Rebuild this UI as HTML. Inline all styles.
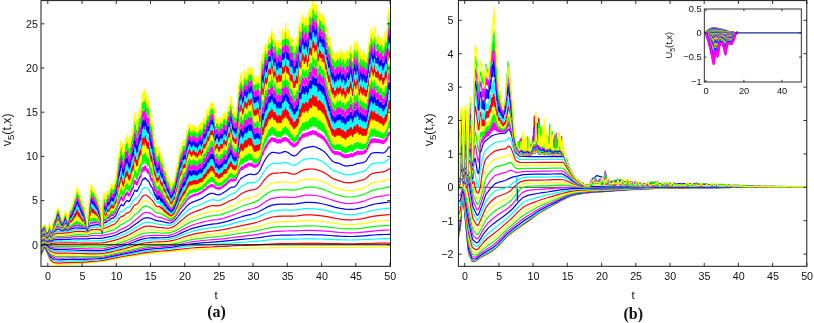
<!DOCTYPE html>
<html><head><meta charset="utf-8"><title>v5(t,x)</title>
<style>html,body{margin:0;padding:0;background:#fff}svg{display:block}</style></head>
<body>
<svg width="814" height="323" viewBox="0 0 814 323">
<rect width="814" height="323" fill="#fff"/>
<clipPath id="ca"><rect x="41" y="0.6" width="349.5" height="265.7"/></clipPath>
<g clip-path="url(#ca)" fill="none" stroke-width="1.2" stroke-linejoin="round">
<path stroke="#ffff00" d="M41 256.2l2.9-7.1 .4-.5 .4 0 .8 1.1 4.9 11.4 3.3 3.1 5 .7 4.9-.4 4.9-.3 4.9-.3 5-.2 4.9-.3 4.9-.4 4.9-.4 5-.6 4.9-.7 4.9-1 4.9-.9 5-1 4.9-.8 4.9-.8 5-.8 4.9-.7 4.9-.8 4.9-.7 5-.5 4.9-.5 4.9-.5 4.9-.4 5-.4 4.9-.4 4.9-.4 5-.4 4.9-.3 4.9-.3 4.9-.1 5-.2 4.9-.2 4.9-.1 4.9-.2 5-.2 4.9-.1 4.9-.1 4.9-.2 5-.1 4.9 0 4.9-.1 5-.1 4.9-.1 4.9-.1 4.9-.1 5-.1 4.9-.1 4.9 0 4.9-.1 5 0 4.9 0 4.9 0 5 0 4.9 0 4.9 0 4.9-.1 5 0 4.9 0 4.9 0 4.9 0 5 0 4.9 0 4.9 0 5-.1 4.9 0 4.9 0 4.9 0 5 0 1.2 0"/>
<path stroke="#ff0000" d="M41 255.1l2.9-6.7 .4-.4 .4 0 .8 1 4.9 10.7 3.3 2.9 5 .6 4.9-.3 4.9-.3 4.9-.2 5-.1 4.9-.2 4.9-.3 4.9-.4 5-.4 4.9-.7 4.9-1 4.9-.9 5-1 4.9-.9 4.9-.8 5-.9 4.9-.8 4.9-.8 4.9-.8 5-.5 4.9-.5 4.9-.4 4.9-.4 5-.5 4.9-.5 4.9-.6 5-.5 4.9-.5 4.9-.3 4.9-.3 5-.2 4.9-.2 4.9-.3 4.9-.2 5-.2 4.9-.3 4.9-.3 4.9-.2 5-.2 4.9-.2 4.9-.3 5-.2 4.9-.3 4.9-.3 4.9-.2 5-.2 4.9 0 4.9-.1 4.9 0 5-.1 4.9 0 4.9-.1 5 .1 4.9 0 4.9 .1 4.9 .1 5 .1 4.9 0 4.9 .1 4.9 0 5 0 4.9-.1 4.9-.1 5-.1 4.9-.2 4.9-.1 4.9 0 5-.1 1.2 0"/>
<path stroke="#00ffff" d="M41 254.1l2.9-6.3 .4-.4 .4 0 .8 1 4.9 9.9 3.7 2.8 5 .4 4.9-.3 4.9-.1 4.9-.2 5-.1 4.9-.1 4.9-.2 5-.3 4.9-.4 4.9-.7 4.9-.9 5-1 4.9-1 4.9-.9 4.9-1 5-.9 4.9-1 4.9-.8 4.9-.8 5-.5 4.9-.4 4.9-.4 5-.4 4.9-.6 4.9-.6 4.9-.7 5-.7 4.9-.6 4.9-.5 4.9-.3 5-.4 4.9-.3 4.9-.2 5-.4 4.9-.3 4.9-.4 4.9-.4 5-.4 4.9-.3 4.9-.3 4.9-.4 5-.5 4.9-.6 4.9-.4 4.9-.3 5-.2 4.9-.1 4.9-.1 5 0 4.9-.1 4.9-.1 4.9-.1 5 .1 4.9 .1 4.9 .2 4.9 .2 5 .2 4.9 .2 4.9 .1 5 .1 4.9-.1 4.9-.1 4.9-.3 5-.2 4.9-.3 4.9-.2 4.9-.1 5-.1 .8 0"/>
<path stroke="#0000ff" d="M41 253l2.9-5.8 .4-.4 .4 0 .8 .9 4.9 9.2 3.7 2.6 5 .3 4.9-.2 4.9-.1 4.9-.1 5 0 4.9-.1 4.9-.1 5-.2 4.9-.3 4.9-.6 4.9-.9 5-1.1 4.9-1 4.9-.9 4.9-1 5-1.1 4.9-1 4.9-1 4.9-.7 5-.6 4.9-.3 4.9-.4 5-.4 4.9-.6 4.9-.7 4.9-.9 5-.9 4.9-.7 4.9-.6 4.9-.4 5-.4 4.9-.4 4.9-.3 5-.4 4.9-.5 4.9-.5 4.9-.5 5-.5 4.9-.4 4.9-.5 4.9-.5 5-.7 4.9-.8 4.9-.6 4.9-.4 5-.3 4.9 0 4.9-.1 5-.1 4.9-.2 4.9-.1 4.9 0 5 .1 4.9 .1 4.9 .3 4.9 .3 5 .3 4.9 .4 4.9 .2 5 .1 4.9-.1 4.9-.3 4.9-.3 5-.4 4.9-.4 4.9-.3 4.9-.2 5-.1 .8 0"/>
<path stroke="#ff00ff" d="M41 251.9l2.9-5.3 .4-.4 .4 0 .8 .8 4.9 8.4 5 2.7 4.9 0 4.9-.1 4.9-.1 5 0 4.9 .1 4.9 0 5-.1 4.9-.1 4.9-.3 4.9-.7 5-.9 4.9-1.1 4.9-1 4.9-1 5-1.1 4.9-1.2 4.9-1.1 5-1 4.9-.7 4.9-.4 4.9-.3 5-.4 4.9-.4 4.9-.7 4.9-.9 5-1.1 4.9-1 4.9-.8 4.9-.7 5-.5 4.9-.5 4.9-.4 5-.4 4.9-.4 4.9-.6 4.9-.7 5-.6 4.9-.6 4.9-.6 4.9-.6 5-.7 4.9-1 4.9-.9 5-.8 4.9-.4 4.9-.2 4.9-.1 5-.1 4.9-.1 4.9-.3 4.9-.1 5 0 4.9 .2 4.9 .2 5 .4 4.9 .4 4.9 .5 4.9 .4 5 .3 4.9 0 4.9-.1 4.9-.4 5-.5 4.9-.5 4.9-.5 4.9-.4 5-.2 4.5-.2"/>
<path stroke="#00ff00" d="M41 250.9l2.9-5 .4-.3 .4 0 .8 .7 4.9 7.7 5 2.5 4.9-.1 4.9-.1 4.9 .1 5 0 4.9 .2 4.9 0 5 0 4.9 0 4.9-.3 4.9-.6 5-.9 4.9-1.1 4.9-1.1 4.9-1.1 5-1.1 4.9-1.3 4.9-1.2 5-1 4.9-.8 4.9-.4 4.9-.3 5-.3 4.9-.4 4.9-.8 4.9-1.1 5-1.2 4.9-1.2 4.9-1 4.9-.7 5-.6 4.9-.6 4.9-.4 5-.5 4.9-.6 4.9-.7 4.9-.8 5-.8 4.9-.7 4.9-.7 4.9-.7 5-.9 4.9-1.2 4.9-1.2 5-1 4.9-.5 4.9-.2 4.9-.1 5 0 4.9-.2 4.9-.3 4.9-.2 5 0 4.9 .2 4.9 .3 5 .5 4.9 .6 4.9 .6 4.9 .5 5 .4 4.9 0 4.9-.2 4.9-.4 5-.7 4.9-.7 4.9-.6 4.9-.4 5-.3 4.5-.2"/>
<path stroke="#ffff00" d="M41 249.8l2.9-4.5 .4-.3 .4 0 .8 .6 4.9 7 5 2.2 4.9-.1 4.9 0 4.9 .1 5 .1 4.9 .2 4.9 .1 5 .1 4.9 0 4.9-.2 4.9-.6 5-1 4.9-1 4.9-1.1 4.9-1.2 5-1.3 4.9-1.4 4.9-1.3 5-1.1 4.9-.7 4.9-.4 4.9-.3 5-.2 4.9-.5 4.9-.8 4.9-1.2 5-1.5 4.9-1.4 4.9-1.1 4.9-.9 5-.7 4.9-.7 4.9-.5 5-.5 4.9-.6 4.9-.9 4.9-.9 5-1 4.9-.9 4.9-.8 4.9-.8 5-1.1 4.9-1.5 4.9-1.5 5-1.2 4.9-.6 4.9-.2 4.9-.1 5 0 4.9-.2 4.9-.5 4.9-.2 5 0 4.9 .3 4.9 .4 5 .6 4.9 .7 4.9 .8 4.9 .6 5 .5 4.9 .1 4.9-.3 4.9-.6 5-.7 4.9-.9 4.9-.8 4.9-.5 5-.4 4.5-.3"/>
<path stroke="#ff0000" d="M41 248.7l2.9-4 .8-.3 1.2 1.1 5 6 4.9 1.7 4.9-.2 4.9 .1 5 .1 4.9 .1 4.9 .2 4.9 .2 5 .1 4.9 0 4.9-.1 4.9-.6 5-1 4.9-1.1 4.9-1.2 5-1.2 4.9-1.4 4.9-1.6 4.9-1.4 5-1.2 4.9-.7 4.9-.3 4.9-.2 5-.2 4.9-.5 4.9-.9 5-1.5 4.9-1.7 4.9-1.6 4.9-1.3 5-1 4.9-.8 4.9-.8 4.9-.5 5-.6 4.9-.7 4.9-1.1 4.9-1.1 5-1.2 4.9-1 4.9-.9 5-1 4.9-1.4 4.9-1.8 4.9-1.9 5-1.3 4.9-.7 4.9-.2 4.9 0 5 0 4.9-.3 4.9-.6 5-.3 4.9 0 4.9 .4 4.9 .6 5 .8 4.9 .9 4.9 .9 4.9 .8 5 .5 4.9 0 4.9-.3 4.9-.7 5-1 4.9-1.1 4.9-.8 5-.6 4.9-.5 4.1-.3"/>
<path stroke="#00ffff" d="M41 247.7l2.9-3.6 .8-.3 4.9 5.3 4.9 2.3 5 0 4.9 0 4.9 .1 5 .2 4.9 .2 4.9 .2 4.9 .1 5 0 4.9 0 4.9-.4 4.9-1 5-1.1 4.9-1.1 4.9-1.3 5-1.5 4.9-1.7 4.9-1.6 4.9-1.4 5-.9 4.9-.3 4.9-.1 4.9-.1 5-.4 4.9-.9 4.9-1.5 4.9-2 5-1.9 4.9-1.6 4.9-1.2 5-1 4.9-.9 4.9-.7 4.9-.5 5-.8 4.9-1.2 4.9-1.3 4.9-1.4 5-1.3 4.9-1.1 4.9-1.1 5-1.3 4.9-2.2 4.9-2.4 4.9-1.7 5-.9 4.9-.3 4.9-.1 4.9 .1 5-.2 4.9-.7 4.9-.6 4.9 0 5 .3 4.9 .7 4.9 .8 5 1.2 4.9 1.1 4.9 1 4.9 .7 5 .2 4.9-.3 4.9-.7 4.9-1.1 5-1.4 4.9-1.1 4.9-.7 5-.6 4.9-.6 .4 0"/>
<path stroke="#0000ff" d="M41 246.6l2.9-3.1 .8-.3 4.9 4.6 4.9 1.9 5 0 4.9 0 4.9 .1 5 .2 4.9 .3 4.9 .2 4.9 .1 5 .1 4.9 0 4.9-.4 4.9-1 5-1.1 4.9-1.2 4.9-1.3 5-1.7 4.9-1.8 4.9-1.8 4.9-1.5 5-.9 4.9-.3 4.9 .1 4.9-.1 5-.3 4.9-.9 4.9-1.8 4.9-2.3 5-2.2 4.9-1.8 4.9-1.3 5-1.2 4.9-1 4.9-.8 4.9-.5 5-.9 4.9-1.3 4.9-1.5 4.9-1.6 5-1.6 4.9-1.3 4.9-1.1 5-1.5 4.9-2.5 4.9-2.9 4.9-2 5-1 4.9-.3 4.9-.1 4.9 .2 5-.3 4.9-.8 4.9-.7 4.9-.1 5 .4 4.9 .8 4.9 1 5 1.4 4.9 1.4 4.9 1.1 4.9 .8 5 .2 4.9-.3 4.9-.9 4.9-1.2 5-1.7 4.9-1.3 4.9-.7 5-.7 4.9-.7 .4-.1"/>
<path stroke="#ff00ff" d="M41 245.6l3.3-3 .4 0 4.9 3.9 4.9 1.6 5-.1 4.9 0 4.9 .2 5 .1 4.9 .2 4.9 .3 4.9 .1 5 .1 4.9 0 4.9-.4 4.9-1 5-1.1 4.9-1.2 4.9-1.5 5-1.8 4.9-2 4.9-1.9 4.9-1.7 5-.9 4.9-.2 4.9 .1 4.9 .1 5-.2 4.9-1 4.9-2.1 4.9-2.6 5-2.6 4.9-2 4.9-1.5 5-1.3 4.9-1.2 4.9-.9 4.9-.5 5-.9 4.9-1.6 4.9-1.6 4.9-1.8 5-2 4.9-1.5 4.9-1.2 5-1.6 4.9-3 4.9-3.4 4.9-2.4 5-1 4.9-.4 4.9 0 4.9 .3 5-.3 4.9-1.1 4.9-.9 4.9-.1 5 .4 4.9 1 4.9 1.3 5 1.7 4.9 1.6 4.9 1.3 4.9 .9 5 .3 4.9-.5 4.9-.9 4.9-1.4 5-2.1 4.9-1.5 4.9-.8 5-.7 4.9-1 .4-.1"/>
<path stroke="#00ff00" d="M41 244.5l3.3-2.5 .4 0 2.5 2 4.9 2.1 4.9 .4 4.9-.2 5 .1 4.9 .1 4.9 .2 4.9 .2 5 .1 4.9 .1 4.9 .1 5-.2 4.9-.7 4.9-1.1 4.9-1.2 5-1.4 4.9-1.8 4.9-2 4.9-2.3 5-2.1 4.9-1.4 4.9-.5 4.9 .2 5 .3 4.9 .1 4.9-.5 5-1.7 4.9-2.9 4.9-3.1 4.9-2.7 5-1.9 4.9-1.5 4.9-1.5 4.9-1.2 5-.6 4.9-.6 4.9-1.5 5-1.9 4.9-1.8 4.9-2.5 4.9-2 5-1.5 4.9-1.3 4.9-2.5 4.9-4.1 5-3.6 4.9-1.9 4.9-.5 4.9-.3 5 .3 4.9 .4 4.9-1 5-1.5 4.9-.6 4.9 .1 4.9 .8 5 1.3 4.9 2 4.9 2.2 4.9 1.5 5 1.4 4.9 .6 4.9-.1 5-.9 4.9-1.2 4.9-2.1 4.9-2.3 5-1.2 4.9-.7 4.9-1.2 2.9-.7"/>
<path stroke="#ffff00" d="M41 243.7l.4-.2 .4-.3 .4-.3 .4-.3 .4-.4 .5-.3 .4-.3 .4-.1 .4-.1 .4 .3 .4 .3 .4 .4 .4 .4 .4 .3 .5 .3 .4 .1 .4 0 .4 .1 .4 0 .4 .2 .4 .1 .4 .2 .4 .2 .5 .1 .4 .1 .4 0 .4 .1 .4 0 .4 .1 .4 0 .4 0 .4 .1 .4 0 .5 0 .4 0 .4 0 .4 0 .4 0 .4 0 .4 0 .4 0 .4-.1 .5 0 .4 0 .4 0 .4 0 .4-.1 .4 0 .4 0 .4 0 .4 0 .4 0 .5 0 .4 0 .4 0 .4 0 .4 0 .4 0 .4 .1 .4 0 .4 0 .5 0 .4 0 .4 0 .4 0 .4 0 .4 0 .4 0 .4 0 .4 0 .4 0 .5 0 .4 .1 .4 0 .4 0 .4 0 .4 0 .4 0 .4 0 .4 0 .5 0 .4 0 .4 .1 .4 0 .4 0 .4 0 .4 0 .4 0 .4 0 .4 0 .5 .1 .4 0 .4 0 .4 0 .4 0 .4 0 .4 .1 .4 0 .4 0 .5 0 .4 0 .4 0 .4 0 .4 0 .4 .1 .4 0 .4 0 .4 0 .5 0 .4 0 .4 0 .4 0 .4 0 .4 0 .4 0 .4 0 .4 0 .4 0 .5 .1 .4 0 .4 0 .4 0 .4 0 .4 0 .4 0 .4 0 .4 0 .5 0 .4 0 .4 0 .4 0 .4 0 .4 0 .4 0 .4 0 .4 0 .4 0 .5 0 .4 0 .4 0 .4 0 .4 0 .4 0 .4 0 .4-.1 .4 0 .5 0 .4-.1 .4 0 .4-.1 .4 0 .4-.1 .4 0 .4-.1 .4-.1 .4 0 .5-.1 .4-.1 .4-.1 .4-.1 .4 0 .4-.1 .4-.1 .4-.1 .4-.1 .5-.1 .4-.1 .4 0 .4-.1 .4-.1 .4-.1 .4-.1 .4-.1 .4-.1 .4-.1 .5-.1 .4-.1 .4-.1 .4-.1 .4-.1 .4-.1 .4-.1 .4-.1 .4-.2 .5-.1 .4-.1 .4-.1 .4-.2 .4-.1 .4-.1 .4-.1 .4-.2 .4-.1 .4-.1 .5-.2 .4-.1 .4-.2 .4-.1 .4-.2 .4-.1 .4-.2 .4-.1 .4-.2 .5-.2 .4-.1 .4-.2 .4-.2 .4-.1 .4-.2 .4-.2 .4-.2 .4-.1 .5-.2 .4-.2 .4-.2 .4-.2 .4-.2 .4-.2 .4-.2 .4-.2 .4-.2 .4-.2 .5-.2 .4-.3 .4-.2 .4-.2 .4-.2 .4-.2 .4-.2 .4-.2 .4-.2 .5-.2 .4-.2 .4-.2 .4-.2 .4-.2 .4-.2 .4-.2 .4-.2 .4-.2 .4-.2 .5-.2 .4-.1 .4-.2 .4-.2 .4-.1 .4-.2 .4-.1 .4-.2 .4-.1 .5-.1 .4-.2 .4-.1 .4-.1 .4 0 .4-.1 .4-.1 .4 0 .4-.1 .4 0 .5-.1 .4 0 .4 0 .4 0 .4 0 .4 0 .4 0 .4 0 .4 .1 .5 0 .4 0 .4 .1 .4 0 .4 0 .4 .1 .4 0 .4 .1 .4 0 .4 .1 .5 0 .4 .1 .4 0 .4 0 .4 .1 .4 0 .4 0 .4 0 .4 .1 .5 0 .4 0 .4 0 .4 .1 .4 0 .4 0 .4 0 .4 .1 .4 0 .4 0 .5 0 .4 0 .4 .1 .4 0 .4 0 .4 0 .4 0 .4 0 .4 0 .5 0 .4-.1 .4 0 .4 0 .4-.1 .4 0 .4-.1 .4-.1 .4-.1 .5-.1 .4-.1 .4-.1 .4-.2 .4-.1 .4-.2 .4-.2 .4-.2 .4-.2 .4-.2 .5-.2 .4-.3 .4-.2 .4-.3 .4-.3 .4-.3 .4-.2 .4-.3 .4-.3 .5-.3 .4-.3 .4-.3 .4-.3 .4-.3 .4-.3 .4-.3 .4-.3 .4-.3 .4-.3 .5-.3 .4-.3 .4-.3 .4-.3 .4-.3 .4-.3 .4-.3 .4-.3 .4-.2 .5-.3 .4-.3 .4-.2 .4-.3 .4-.2 .4-.3 .4-.2 .4-.2 .4-.2 .4-.2 .5-.2 .4-.2 .4-.2 .4-.2 .4-.1 .4-.2 .4-.1 .4-.2 .4-.2 .5-.1 .4-.1 .4-.2 .4-.1 .4-.2 .4-.1 .4-.1 .4-.2 .4-.1 .4-.1 .5-.1 .4-.2 .4-.1 .4-.1 .4-.2 .4-.1 .4-.1 .4-.2 .4-.1 .5-.2 .4-.1 .4-.2 .4-.1 .4-.2 .4-.1 .4-.1 .4-.2 .4-.1 .5-.2 .4-.1 .4-.1 .4-.2 .4-.1 .4-.1 .4-.1 .4-.1 .4-.1 .4-.1 .5-.1 .4-.1 .4-.1 .4 0 .4-.1 .4 0 .4-.1 .4 0 .4 0 .5-.1 .4 0 .4 0 .4 0 .4 0 .4 0 .4 0 .4 0 .4-.1 .4 0 .5 0 .4-.1 .4-.1 .4 0 .4-.1 .4-.1 .4-.1 .4-.1 .4-.2 .5-.1 .4-.1 .4-.2 .4-.1 .4-.2 .4-.2 .4-.1 .4-.2 .4-.2 .4-.2 .5-.1 .4-.2 .4-.2 .4-.2 .4-.2 .4-.2 .4-.2 .4-.2 .4-.2 .5-.1 .4-.2 .4-.2 .4-.2 .4-.1 .4-.2 .4-.1 .4-.2 .4-.1 .4-.2 .5-.1 .4-.2 .4-.2 .4-.1 .4-.2 .4-.3 .4-.2 .4-.2 .4-.3 .5-.3 .4-.2 .4-.3 .4-.3 .4-.3 .4-.2 .4-.3 .4-.2 .4-.3 .4-.2 .5-.2 .4-.2 .4-.2 .4-.2 .4-.2 .4-.1 .4-.2 .4-.1 .4-.2 .5-.1 .4-.2 .4-.1 .4-.2 .4-.1 .4-.1 .4-.2 .4-.1 .4-.1 .5-.1 .4-.1 .4-.1 .4-.1 .4-.1 .4-.1 .4-.1 .4-.1 .4-.1 .4-.1 .5-.1 .4-.1 .4-.1 .4-.1 .4-.1 .4-.2 .4-.1 .4-.2 .4-.2 .5-.2 .4-.3 .4-.2 .4-.3 .4-.3 .4-.3 .4-.3 .4-.4 .4-.3 .4-.4 .5-.4 .4-.5 .4-.4 .4-.4 .4-.5 .4-.4 .4-.4 .4-.5 .4-.4 .5-.4 .4-.4 .4-.4 .4-.4 .4-.4 .4-.4 .4-.3 .4-.3 .4-.4 .4-.3 .5-.3 .4-.3 .4-.2 .4-.3 .4-.2 .4-.2 .4-.2 .4-.2 .4-.1 .5-.2 .4-.1 .4-.1 .4-.1 .4-.1 .4-.1 .4 0 .4-.1 .4 0 .4 0 .5-.1 .4 0 .4 0 .4 0 .4-.1 .4 0 .4 0 .4 0 .4 0 .5-.1 .4 0 .4 0 .4-.1 .4 0 .4 0 .4-.1 .4 0 .4 0 .4-.1 .5 0 .4 0 .4 0 .4 0 .4 0 .4 .1 .4 0 .4 .1 .4 0 .5 .1 .4 .1 .4 0 .4 .1 .4 .1 .4 .1 .4 .1 .4 0 .4 .1 .5 .1 .4 0 .4 .1 .4 0 .4 0 .4 0 .4 0 .4-.1 .4 0 .4-.1 .5-.1 .4-.1 .4-.1 .4-.1 .4-.2 .4-.1 .4-.2 .4-.2 .4-.1 .5-.2 .4-.2 .4-.2 .4-.1 .4-.2 .4-.2 .4-.1 .4-.2 .4-.1 .4-.1 .5-.2 .4-.1 .4 0 .4-.1 .4-.1 .4-.1 .4 0 .4-.1 .4-.1 .5 0 .4 0 .4-.1 .4 0 .4 0 .4 0 .4 0 .4 0 .4-.1 .4 .1 .5 0 .4 0 .4 0 .4 0 .4 0 .4 .1 .4 0 .4 .1 .4 0 .5 .1 .4 .1 .4 0 .4 .1 .4 .1 .4 .1 .4 .1 .4 .1 .4 .1 .4 .1 .5 .1 .4 .2 .4 .1 .4 .1 .4 .1 .4 .2 .4 .1 .4 .1 .4 .2 .5 .1 .4 .2 .4 .1 .4 .2 .4 .2 .4 .2 .4 .2 .4 .2 .4 .2 .5 .2 .4 .2 .4 .2 .4 .2 .4 .3 .4 .2 .4 .2 .4 .3 .4 .2 .4 .2 .5 .3 .4 .2 .4 .2 .4 .3 .4 .2 .4 .2 .4 .2 .4 .1 .4 .2 .5 .2 .4 .1 .4 .2 .4 .1 .4 .1 .4 .1 .4 .2 .4 .1 .4 .1 .4 .1 .5 .1 .4 .2 .4 .1 .4 .1 .4 .2 .4 .1 .4 .1 .4 .1 .4 .2 .5 .1 .4 .1 .4 .1 .4 .1 .4 .1 .4 .1 .4 .1 .4 .1 .4 .1 .4 0 .5 .1 .4 0 .4 0 .4 .1 .4 0 .4 0 .4 0 .4 0 .4 0 .5-.1 .4 0 .4 0 .4 0 .4-.1 .4 0 .4 0 .4-.1 .4 0 .4-.1 .5-.1 .4-.1 .4 0 .4-.1 .4-.1 .4-.1 .4-.1 .4-.1 .4-.1 .5-.1 .4-.1 .4-.1 .4-.1 .4-.1 .4-.1 .4-.1 .4-.1 .4-.1 .4-.1 .5-.1 .4-.1 .4-.1 .4-.1 .4-.2 .4-.1 .4-.2 .4-.2 .4-.2 .5-.2 .4-.2 .4-.3 .4-.2 .4-.3 .4-.3 .4-.3 .4-.2 .4-.3 .5-.3 .4-.2 .4-.3 .4-.2 .4-.3 .4-.2 .4-.2 .4-.1 .4-.2 .4-.1 .5-.2 .4-.1 .4-.1 .4-.1 .4-.1 .4-.1 .4-.1 .4 0 .4-.1 .5-.1 .4 0 .4-.1 .4-.1 .4 0 .4-.1 .4 0 .4-.1 .4 0 .4-.1 .5 0 .4-.1 .4 0 .4-.1 .4 0 .4-.1 .4-.1 .4-.1 .4-.1 .5-.1 .4-.1 .4-.2 .4-.1 .4-.2 .4-.2 .4-.1 .4-.2 .4-.2 .4-.2 .5-.1 .4-.1 .4-.2 .4-.1"/>
<path stroke="#ff0000" d="M41 242.8l.4-.2 .4-.2 .4-.3 .4-.3 .4-.3 .5-.2 .4-.3 .4-.1 .4-.1 .4 .3 .4 .3 .4 .4 .4 .4 .4 .3 .5 .3 .4 0 .4-.1 .4-.1 .4 0 .4 0 .4 .2 .4 .2 .4 .2 .5 .2 .4 .1 .4-.1 .4-.1 .4-.1 .4 0 .4-.1 .4 0 .4 0 .4 0 .5 0 .4 0 .4 0 .4 0 .4 0 .4 0 .4 0 .4 0 .4-.1 .5 0 .4 0 .4 0 .4 0 .4-.1 .4 0 .4 0 .4 0 .4 0 .4 0 .5 0 .4 0 .4 0 .4 0 .4 0 .4 0 .4 0 .4 0 .4 0 .5 0 .4 0 .4 0 .4 0 .4 0 .4 0 .4 0 .4 0 .4 0 .4 0 .5 0 .4 0 .4 0 .4 0 .4 0 .4 0 .4 0 .4 0 .4 0 .5 0 .4 0 .4 0 .4 0 .4 0 .4 0 .4 0 .4 .1 .4 0 .4 0 .5 0 .4 0 .4 0 .4 0 .4 0 .4 0 .4 0 .4 .1 .4 0 .5 0 .4 0 .4 0 .4 0 .4 0 .4 0 .4 0 .4 0 .4 0 .5 .1 .4 0 .4 0 .4-.1 .4 0 .4 0 .4 0 .4 0 .4 0 .4 0 .5 0 .4 0 .4 0 .4 0 .4 0 .4 0 .4 0 .4 0 .4 0 .5 0 .4 0 .4 0 .4 0 .4 0 .4 0 .4 0 .4 0 .4 0 .4 0 .5 0 .4 0 .4 0 .4 0 .4-.1 .4 0 .4 0 .4 0 .4 0 .5-.1 .4 0 .4 0 .4-.1 .4 0 .4-.1 .4-.1 .4 0 .4-.1 .4-.1 .5-.1 .4 0 .4-.1 .4-.1 .4-.1 .4-.1 .4-.1 .4 0 .4-.1 .5-.1 .4-.1 .4-.1 .4-.1 .4-.1 .4-.1 .4-.1 .4-.1 .4 0 .4-.1 .5-.1 .4-.2 .4-.1 .4-.1 .4-.1 .4-.1 .4-.1 .4-.2 .4-.1 .5-.1 .4-.1 .4-.2 .4-.1 .4-.2 .4-.1 .4-.2 .4-.1 .4-.2 .4-.1 .5-.2 .4-.1 .4-.2 .4-.1 .4-.2 .4-.2 .4-.1 .4-.2 .4-.2 .5-.1 .4-.2 .4-.2 .4-.2 .4-.2 .4-.2 .4-.1 .4-.2 .4-.2 .5-.2 .4-.2 .4-.3 .4-.2 .4-.2 .4-.2 .4-.2 .4-.3 .4-.2 .4-.2 .5-.3 .4-.2 .4-.3 .4-.2 .4-.2 .4-.3 .4-.2 .4-.2 .4-.3 .5-.2 .4-.2 .4-.2 .4-.3 .4-.2 .4-.2 .4-.2 .4-.3 .4-.2 .4-.2 .5-.2 .4-.2 .4-.2 .4-.2 .4-.2 .4-.2 .4-.2 .4-.1 .4-.2 .5-.1 .4-.1 .4-.2 .4-.1 .4 0 .4-.1 .4-.1 .4 0 .4-.1 .4 0 .5 0 .4 0 .4 0 .4 0 .4 0 .4 .1 .4 0 .4 0 .4 .1 .5 0 .4 .1 .4 .1 .4 0 .4 .1 .4 .1 .4 .1 .4 0 .4 .1 .4 .1 .5 0 .4 .1 .4 .1 .4 0 .4 .1 .4 0 .4 0 .4 .1 .4 0 .5 .1 .4 0 .4 0 .4 .1 .4 0 .4 .1 .4 0 .4 0 .4 .1 .4 0 .5 .1 .4 0 .4 0 .4 .1 .4 0 .4 0 .4 .1 .4 0 .4 0 .5 0 .4 0 .4 0 .4 0 .4-.1 .4 0 .4-.1 .4 0 .4-.1 .5-.1 .4-.2 .4-.1 .4-.2 .4-.2 .4-.2 .4-.2 .4-.2 .4-.3 .4-.2 .5-.3 .4-.3 .4-.3 .4-.3 .4-.4 .4-.3 .4-.4 .4-.3 .4-.4 .5-.3 .4-.4 .4-.3 .4-.4 .4-.4 .4-.3 .4-.4 .4-.3 .4-.4 .4-.3 .5-.4 .4-.3 .4-.4 .4-.3 .4-.4 .4-.3 .4-.3 .4-.4 .4-.3 .5-.3 .4-.3 .4-.3 .4-.3 .4-.3 .4-.3 .4-.2 .4-.3 .4-.2 .4-.2 .5-.2 .4-.2 .4-.2 .4-.2 .4-.2 .4-.2 .4-.1 .4-.2 .4-.1 .5-.2 .4-.2 .4-.1 .4-.1 .4-.2 .4-.1 .4-.2 .4-.1 .4-.2 .4-.1 .5-.1 .4-.2 .4-.1 .4-.2 .4-.1 .4-.2 .4-.1 .4-.2 .4-.1 .5-.2 .4-.2 .4-.2 .4-.1 .4-.2 .4-.2 .4-.2 .4-.1 .4-.2 .5-.2 .4-.2 .4-.1 .4-.2 .4-.1 .4-.2 .4-.1 .4-.2 .4-.1 .4-.1 .5-.1 .4-.1 .4-.1 .4 0 .4-.1 .4 0 .4 0 .4 0 .4-.1 .5 .1 .4 0 .4 0 .4 0 .4 .1 .4 0 .4 0 .4 0 .4 0 .4 0 .5-.1 .4 0 .4 0 .4-.1 .4-.1 .4-.1 .4-.1 .4-.2 .4-.1 .5-.2 .4-.1 .4-.2 .4-.2 .4-.2 .4-.2 .4-.2 .4-.2 .4-.2 .4-.2 .5-.2 .4-.2 .4-.2 .4-.3 .4-.2 .4-.2 .4-.2 .4-.3 .4-.2 .5-.2 .4-.2 .4-.2 .4-.1 .4-.2 .4-.2 .4-.1 .4-.1 .4-.2 .4-.1 .5-.2 .4-.2 .4-.1 .4-.2 .4-.3 .4-.2 .4-.3 .4-.3 .4-.3 .5-.4 .4-.4 .4-.3 .4-.4 .4-.4 .4-.3 .4-.3 .4-.4 .4-.3 .4-.2 .5-.3 .4-.2 .4-.2 .4-.2 .4-.2 .4-.2 .4-.2 .4-.2 .4-.2 .5-.2 .4-.1 .4-.2 .4-.1 .4-.2 .4-.1 .4-.2 .4-.1 .4-.1 .5-.2 .4-.1 .4-.1 .4-.1 .4 0 .4-.1 .4-.1 .4-.1 .4 0 .4-.1 .5 0 .4-.1 .4-.1 .4-.1 .4-.1 .4-.1 .4-.2 .4-.2 .4-.2 .5-.2 .4-.2 .4-.3 .4-.3 .4-.3 .4-.4 .4-.4 .4-.4 .4-.5 .4-.5 .5-.5 .4-.5 .4-.6 .4-.5 .4-.6 .4-.5 .4-.5 .4-.6 .4-.5 .5-.5 .4-.5 .4-.5 .4-.5 .4-.4 .4-.4 .4-.5 .4-.4 .4-.4 .4-.3 .5-.4 .4-.3 .4-.3 .4-.3 .4-.2 .4-.2 .4-.3 .4-.2 .4-.1 .5-.2 .4-.1 .4-.1 .4-.1 .4-.1 .4 0 .4-.1 .4 0 .4 0 .4 0 .5 0 .4 0 .4 0 .4 0 .4 0 .4-.1 .4 0 .4 0 .4 0 .5 0 .4-.1 .4 0 .4-.1 .4 0 .4-.1 .4-.1 .4 0 .4-.1 .4 0 .5 0 .4-.1 .4 0 .4 0 .4 0 .4 .1 .4 .1 .4 0 .4 .1 .5 .1 .4 .1 .4 .2 .4 .1 .4 .1 .4 .1 .4 .2 .4 .1 .4 .1 .5 .1 .4 .1 .4 .1 .4 0 .4 .1 .4 0 .4 0 .4 0 .4-.1 .4-.1 .5-.1 .4-.1 .4-.2 .4-.1 .4-.2 .4-.2 .4-.3 .4-.2 .4-.3 .5-.2 .4-.3 .4-.2 .4-.2 .4-.2 .4-.3 .4-.2 .4-.2 .4-.1 .4-.2 .5-.1 .4-.2 .4-.1 .4-.1 .4-.1 .4-.1 .4-.1 .4 0 .4-.1 .5 0 .4-.1 .4 0 .4-.1 .4 0 .4 0 .4-.1 .4 0 .4 0 .4 0 .5 0 .4 0 .4 0 .4 0 .4 0 .4 .1 .4 0 .4 .1 .4 0 .5 .1 .4 .1 .4 .1 .4 .1 .4 .1 .4 .1 .4 .1 .4 .1 .4 .2 .4 .1 .5 .1 .4 .2 .4 .1 .4 .2 .4 .1 .4 .2 .4 .2 .4 .1 .4 .2 .5 .2 .4 .2 .4 .2 .4 .2 .4 .2 .4 .2 .4 .3 .4 .2 .4 .3 .5 .3 .4 .2 .4 .3 .4 .3 .4 .3 .4 .3 .4 .3 .4 .3 .4 .3 .4 .3 .5 .3 .4 .3 .4 .3 .4 .3 .4 .3 .4 .2 .4 .2 .4 .2 .4 .2 .5 .2 .4 .2 .4 .1 .4 .2 .4 .1 .4 .1 .4 .1 .4 .1 .4 .2 .4 .1 .5 .1 .4 .2 .4 .1 .4 .1 .4 .2 .4 .1 .4 .2 .4 .1 .4 .2 .5 .1 .4 .2 .4 .1 .4 .1 .4 .2 .4 .1 .4 .1 .4 0 .4 .1 .4 .1 .5 0 .4 0 .4 .1 .4 0 .4 0 .4 0 .4 0 .4 0 .4-.1 .5 0 .4 0 .4-.1 .4 0 .4 0 .4-.1 .4 0 .4-.1 .4 0 .4-.1 .5-.1 .4-.1 .4-.1 .4-.1 .4-.1 .4-.1 .4-.1 .4-.2 .4-.1 .5-.1 .4-.1 .4-.1 .4-.1 .4-.1 .4-.1 .4-.1 .4-.1 .4-.1 .4-.1 .5-.1 .4-.1 .4-.1 .4-.1 .4-.1 .4-.2 .4-.2 .4-.2 .4-.2 .5-.3 .4-.2 .4-.3 .4-.4 .4-.3 .4-.4 .4-.4 .4-.3 .4-.4 .5-.3 .4-.4 .4-.3 .4-.3 .4-.3 .4-.2 .4-.2 .4-.2 .4-.2 .4-.2 .5-.1 .4-.1 .4-.1 .4-.1 .4-.1 .4-.1 .4 0 .4-.1 .4-.1 .5 0 .4-.1 .4-.1 .4 0 .4 0 .4-.1 .4 0 .4 0 .4-.1 .4 0 .5 0 .4-.1 .4 0 .4 0 .4-.1 .4-.1 .4 0 .4-.2 .4-.1 .5-.1 .4-.2 .4-.2 .4-.2 .4-.2 .4-.3 .4-.3 .4-.2 .4-.3 .4-.2 .5-.2 .4-.2 .4-.2 .4-.2"/>
<path stroke="#00ffff" d="M41 241.9l.4-.1 .4-.3 .4-.2 .4-.3 .4-.2 .5-.2 .4-.2 .4-.1 .4-.1 .4 .3 .4 .4 .4 .3 .4 .4 .4 .3 .5 .3 .4-.1 .4-.2 .4-.2 .4-.2 .4-.1 .4 .3 .4 .2 .4 .2 .5 .3 .4 .1 .4-.2 .4-.3 .4-.2 .4-.1 .4-.1 .4-.1 .4 0 .4 0 .5 0 .4 0 .4 0 .4-.1 .4 0 .4 0 .4 0 .4 0 .4-.1 .5 0 .4 0 .4 0 .4 0 .4 0 .4-.1 .4 0 .4 0 .4 0 .4 0 .5 0 .4 0 .4 0 .4 0 .4 0 .4 0 .4 0 .4 0 .4 0 .5 0 .4 0 .4 0 .4 0 .4 0 .4 0 .4 0 .4-.1 .4 0 .4 0 .5 0 .4 0 .4 0 .4-.1 .4 0 .4 0 .4 0 .4 0 .4 0 .5 0 .4 0 .4 0 .4-.1 .4 0 .4 0 .4 0 .4 0 .4 0 .4 0 .5 0 .4 0 .4 0 .4 .1 .4 0 .4 0 .4 0 .4 0 .4 0 .5 0 .4 0 .4 0 .4 0 .4 .1 .4 0 .4 0 .4 0 .4 0 .5 0 .4 0 .4 0 .4 0 .4 0 .4-.1 .4 0 .4 0 .4 0 .4-.1 .5 0 .4 0 .4 0 .4 0 .4-.1 .4 0 .4 0 .4 0 .4 0 .5 0 .4 0 .4 0 .4 0 .4 0 .4 0 .4 0 .4 0 .4 0 .4 0 .5 0 .4 0 .4 0 .4 0 .4 0 .4 0 .4 0 .4-.1 .4 0 .5 0 .4 0 .4-.1 .4 0 .4-.1 .4-.1 .4 0 .4-.1 .4-.1 .4-.1 .5-.1 .4 0 .4-.1 .4-.1 .4-.1 .4-.1 .4-.1 .4 0 .4-.1 .5-.1 .4-.1 .4-.1 .4-.1 .4-.1 .4-.1 .4-.1 .4-.1 .4 0 .4-.1 .5-.1 .4-.2 .4-.1 .4-.1 .4-.1 .4-.1 .4-.2 .4-.1 .4-.2 .5-.1 .4-.2 .4-.1 .4-.2 .4-.2 .4-.1 .4-.2 .4-.2 .4-.1 .4-.2 .5-.2 .4-.1 .4-.2 .4-.2 .4-.1 .4-.2 .4-.2 .4-.2 .4-.1 .5-.2 .4-.2 .4-.2 .4-.2 .4-.2 .4-.2 .4-.2 .4-.2 .4-.2 .5-.2 .4-.3 .4-.2 .4-.2 .4-.3 .4-.2 .4-.3 .4-.2 .4-.3 .4-.3 .5-.3 .4-.2 .4-.3 .4-.3 .4-.2 .4-.3 .4-.3 .4-.2 .4-.3 .5-.2 .4-.3 .4-.2 .4-.3 .4-.2 .4-.3 .4-.2 .4-.3 .4-.3 .4-.2 .5-.3 .4-.2 .4-.3 .4-.2 .4-.2 .4-.3 .4-.2 .4-.1 .4-.2 .5-.2 .4-.1 .4-.1 .4-.1 .4-.1 .4-.1 .4 0 .4-.1 .4 0 .4 0 .5 0 .4 0 .4 0 .4 .1 .4 0 .4 .1 .4 .1 .4 0 .4 .1 .5 .1 .4 .1 .4 .1 .4 .1 .4 .2 .4 .1 .4 .1 .4 .1 .4 .1 .4 .1 .5 .1 .4 .1 .4 .1 .4 .1 .4 0 .4 .1 .4 0 .4 .1 .4 0 .5 .1 .4 0 .4 .1 .4 0 .4 .1 .4 0 .4 .1 .4 .1 .4 0 .4 .1 .5 .1 .4 0 .4 .1 .4 .1 .4 0 .4 .1 .4 0 .4 .1 .4 0 .5 .1 .4 0 .4 0 .4 0 .4 0 .4 0 .4 0 .4-.1 .4-.1 .5-.1 .4-.1 .4-.2 .4-.2 .4-.2 .4-.2 .4-.3 .4-.3 .4-.3 .4-.3 .5-.4 .4-.3 .4-.4 .4-.4 .4-.4 .4-.4 .4-.4 .4-.4 .4-.5 .5-.4 .4-.4 .4-.5 .4-.4 .4-.4 .4-.4 .4-.5 .4-.4 .4-.4 .4-.4 .5-.4 .4-.4 .4-.4 .4-.4 .4-.4 .4-.4 .4-.4 .4-.4 .4-.4 .5-.3 .4-.4 .4-.4 .4-.3 .4-.3 .4-.3 .4-.3 .4-.3 .4-.2 .4-.3 .5-.2 .4-.2 .4-.2 .4-.2 .4-.2 .4-.1 .4-.2 .4-.2 .4-.2 .5-.1 .4-.2 .4-.1 .4-.2 .4-.1 .4-.2 .4-.1 .4-.1 .4-.2 .4-.1 .5-.2 .4-.1 .4-.2 .4-.2 .4-.1 .4-.2 .4-.2 .4-.1 .4-.2 .5-.2 .4-.2 .4-.2 .4-.3 .4-.2 .4-.2 .4-.2 .4-.2 .4-.2 .5-.3 .4-.2 .4-.2 .4-.2 .4-.2 .4-.1 .4-.2 .4-.2 .4-.1 .4-.1 .5-.2 .4-.1 .4-.1 .4 0 .4 0 .4-.1 .4 0 .4 0 .4 .1 .5 0 .4 .1 .4 .1 .4 0 .4 .1 .4 .1 .4 0 .4 .1 .4 0 .4 0 .5 0 .4 0 .4 0 .4-.1 .4-.1 .4-.1 .4-.1 .4-.2 .4-.1 .5-.2 .4-.2 .4-.2 .4-.3 .4-.2 .4-.2 .4-.2 .4-.3 .4-.2 .4-.2 .5-.3 .4-.2 .4-.3 .4-.2 .4-.3 .4-.3 .4-.2 .4-.3 .4-.2 .5-.3 .4-.2 .4-.2 .4-.2 .4-.2 .4-.1 .4-.1 .4-.1 .4-.2 .4-.1 .5-.1 .4-.2 .4-.2 .4-.2 .4-.2 .4-.3 .4-.4 .4-.3 .4-.5 .5-.5 .4-.5 .4-.4 .4-.5 .4-.5 .4-.5 .4-.4 .4-.4 .4-.4 .4-.3 .5-.3 .4-.3 .4-.2 .4-.3 .4-.2 .4-.2 .4-.2 .4-.2 .4-.2 .5-.2 .4-.2 .4-.2 .4-.2 .4-.1 .4-.2 .4-.2 .4-.1 .4-.1 .5-.2 .4 0 .4-.1 .4-.1 .4-.1 .4 0 .4-.1 .4 0 .4 0 .4 0 .5 0 .4-.1 .4 0 .4-.1 .4 0 .4-.1 .4-.2 .4-.1 .4-.2 .5-.2 .4-.3 .4-.3 .4-.3 .4-.4 .4-.4 .4-.5 .4-.5 .4-.5 .4-.6 .5-.7 .4-.6 .4-.7 .4-.7 .4-.7 .4-.7 .4-.6 .4-.7 .4-.6 .5-.7 .4-.6 .4-.6 .4-.5 .4-.6 .4-.5 .4-.5 .4-.5 .4-.4 .4-.5 .5-.3 .4-.4 .4-.4 .4-.3 .4-.2 .4-.3 .4-.2 .4-.3 .4-.1 .5-.2 .4-.1 .4-.1 .4 0 .4-.1 .4 0 .4 0 .4-.1 .4 .1 .4 0 .5 0 .4 .1 .4 0 .4 .1 .4 0 .4 0 .4 0 .4 0 .4 0 .5-.1 .4 0 .4-.1 .4-.1 .4-.1 .4-.1 .4-.1 .4-.1 .4 0 .4-.1 .5-.1 .4 0 .4-.1 .4 0 .4 0 .4 .1 .4 .1 .4 .1 .4 .1 .5 .2 .4 .1 .4 .2 .4 .2 .4 .2 .4 .2 .4 .2 .4 .2 .4 .2 .5 .2 .4 .1 .4 .1 .4 .1 .4 .1 .4 .1 .4 0 .4 0 .4-.1 .4-.1 .5-.1 .4-.2 .4-.2 .4-.2 .4-.3 .4-.3 .4-.3 .4-.3 .4-.3 .5-.4 .4-.3 .4-.3 .4-.3 .4-.3 .4-.3 .4-.3 .4-.2 .4-.3 .4-.2 .5-.2 .4-.1 .4-.1 .4-.2 .4-.1 .4-.1 .4-.1 .4-.1 .4-.1 .5 0 .4-.1 .4 0 .4-.1 .4-.1 .4 0 .4-.1 .4 0 .4 0 .4 0 .5 0 .4-.1 .4 0 .4 0 .4 0 .4 .1 .4 0 .4 0 .4 .1 .5 .1 .4 .1 .4 .1 .4 .1 .4 .1 .4 .1 .4 .2 .4 .2 .4 .1 .4 .2 .5 .1 .4 .2 .4 .2 .4 .2 .4 .1 .4 .2 .4 .2 .4 .2 .4 .3 .5 .2 .4 .2 .4 .2 .4 .3 .4 .3 .4 .3 .4 .3 .4 .3 .4 .3 .5 .4 .4 .3 .4 .4 .4 .4 .4 .4 .4 .4 .4 .4 .4 .4 .4 .3 .4 .4 .5 .4 .4 .4 .4 .4 .4 .3 .4 .4 .4 .3 .4 .2 .4 .3 .4 .2 .5 .2 .4 .2 .4 .1 .4 .1 .4 .2 .4 .1 .4 .1 .4 0 .4 .2 .4 .1 .5 .1 .4 .1 .4 .2 .4 .1 .4 .2 .4 .1 .4 .2 .4 .2 .4 .2 .5 .2 .4 .1 .4 .2 .4 .1 .4 .2 .4 .1 .4 .1 .4 .1 .4 .1 .4 0 .5 .1 .4 0 .4 0 .4 0 .4 0 .4 0 .4-.1 .4 0 .4 0 .5-.1 .4 0 .4-.1 .4 0 .4-.1 .4 0 .4 0 .4-.1 .4-.1 .4-.1 .5-.1 .4-.1 .4-.1 .4-.2 .4-.1 .4-.1 .4-.2 .4-.1 .4-.2 .5-.1 .4-.1 .4-.1 .4-.1 .4 0 .4-.1 .4-.1 .4-.1 .4-.1 .4 0 .5-.1 .4-.1 .4-.1 .4-.1 .4-.1 .4-.2 .4-.2 .4-.2 .4-.2 .5-.3 .4-.4 .4-.3 .4-.5 .4-.4 .4-.5 .4-.5 .4-.5 .4-.5 .5-.4 .4-.5 .4-.4 .4-.4 .4-.3 .4-.3 .4-.3 .4-.2 .4-.1 .4-.2 .5-.1 .4-.1 .4-.1 .4-.1 .4-.1 .4 0 .4 0 .4-.1 .4 0 .5-.1 .4 0 .4-.1 .4 0 .4 0 .4 0 .4 0 .4 0 .4 0 .4-.1 .5 0 .4 0 .4 0 .4 0 .4 0 .4-.1 .4 0 .4-.2 .4-.1 .5-.2 .4-.2 .4-.3 .4-.3 .4-.3 .4-.4 .4-.4 .4-.3 .4-.4 .4-.4 .5-.3 .4-.3 .4-.2 .4-.2"/>
<path stroke="#0000ff" d="M41 241.1l.4-.2 .4-.2 .4-.2 .4-.2 .4-.2 .5-.1 .4-.2 .4-.1 .4-.1 .4 .3 .4 .4 .4 .3 .4 .4 .4 .3 .5 .3 .4-.2 .4-.3 .4-.3 .4-.4 .4-.1 .4 .2 .4 .3 .4 .3 .5 .2 .4 .2 .4-.3 .4-.4 .4-.3 .4-.3 .4-.1 .4-.2 .4 0 .4-.1 .5 0 .4 0 .4-.1 .4 0 .4 0 .4 0 .4-.1 .4 0 .4 0 .5 0 .4 0 .4 0 .4 0 .4 0 .4 0 .4 0 .4-.1 .4 .1 .4 0 .5-.1 .4 0 .4 0 .4 0 .4 0 .4 0 .4 0 .4 0 .4 0 .5 0 .4-.1 .4 0 .4 0 .4 0 .4 0 .4-.1 .4 0 .4 0 .4-.1 .5 0 .4 0 .4-.1 .4 0 .4 0 .4 0 .4-.1 .4 0 .4 0 .5-.1 .4 0 .4 0 .4 0 .4-.1 .4 0 .4 0 .4 0 .4 0 .4 0 .5 0 .4 0 .4 0 .4 0 .4 0 .4 0 .4 0 .4 0 .4 0 .5 0 .4 .1 .4 0 .4 0 .4 0 .4 0 .4 0 .4 0 .4 .1 .5 0 .4-.1 .4 0 .4 0 .4 0 .4-.1 .4 0 .4-.1 .4 0 .4-.1 .5 0 .4-.1 .4 0 .4-.1 .4 0 .4 0 .4-.1 .4 0 .4 0 .5 0 .4 0 .4 0 .4 0 .4 0 .4 0 .4 0 .4 0 .4 0 .4 0 .5 0 .4 0 .4 0 .4 0 .4 0 .4 .1 .4 0 .4 0 .4-.1 .5 0 .4 0 .4-.1 .4 0 .4-.1 .4-.1 .4-.1 .4-.1 .4-.1 .4 0 .5-.1 .4-.1 .4-.1 .4-.1 .4-.1 .4 0 .4-.1 .4-.1 .4-.1 .5-.1 .4-.1 .4-.1 .4-.1 .4 0 .4-.1 .4-.1 .4-.1 .4-.1 .4-.1 .5-.1 .4-.1 .4-.1 .4-.2 .4-.1 .4-.1 .4-.2 .4-.1 .4-.2 .5-.2 .4-.2 .4-.2 .4-.2 .4-.2 .4-.2 .4-.2 .4-.2 .4-.2 .4-.2 .5-.2 .4-.1 .4-.2 .4-.2 .4-.1 .4-.2 .4-.2 .4-.2 .4-.2 .5-.2 .4-.2 .4-.2 .4-.2 .4-.2 .4-.2 .4-.2 .4-.3 .4-.2 .5-.2 .4-.2 .4-.3 .4-.2 .4-.3 .4-.3 .4-.3 .4-.3 .4-.3 .4-.3 .5-.3 .4-.4 .4-.3 .4-.3 .4-.3 .4-.3 .4-.3 .4-.3 .4-.2 .5-.3 .4-.3 .4-.2 .4-.3 .4-.3 .4-.3 .4-.3 .4-.3 .4-.3 .4-.4 .5-.3 .4-.3 .4-.3 .4-.3 .4-.3 .4-.2 .4-.3 .4-.2 .4-.2 .5-.2 .4-.1 .4-.2 .4-.1 .4-.1 .4 0 .4 0 .4-.1 .4 0 .4 .1 .5 0 .4 0 .4 .1 .4 .1 .4 .1 .4 .1 .4 .1 .4 .1 .4 .2 .5 .1 .4 .1 .4 .2 .4 .2 .4 .2 .4 .1 .4 .2 .4 .2 .4 .2 .4 .1 .5 .2 .4 .1 .4 .1 .4 .1 .4 .1 .4 0 .4 .1 .4 0 .4 .1 .5 0 .4 .1 .4 .1 .4 0 .4 .1 .4 .1 .4 .1 .4 .1 .4 .1 .4 .1 .5 .1 .4 .1 .4 .1 .4 .1 .4 .1 .4 .1 .4 .1 .4 .1 .4 .1 .5 .1 .4 .1 .4 0 .4 .1 .4 0 .4 0 .4 0 .4 0 .4-.1 .5-.1 .4-.2 .4-.2 .4-.2 .4-.2 .4-.3 .4-.3 .4-.3 .4-.4 .4-.4 .5-.4 .4-.5 .4-.5 .4-.4 .4-.5 .4-.5 .4-.5 .4-.5 .4-.6 .5-.5 .4-.6 .4-.5 .4-.5 .4-.5 .4-.5 .4-.5 .4-.5 .4-.5 .4-.5 .5-.4 .4-.5 .4-.4 .4-.5 .4-.4 .4-.5 .4-.5 .4-.5 .4-.4 .5-.5 .4-.4 .4-.4 .4-.4 .4-.4 .4-.3 .4-.4 .4-.3 .4-.2 .4-.2 .5-.3 .4-.2 .4-.1 .4-.2 .4-.3 .4-.2 .4-.2 .4-.1 .4-.1 .5-.2 .4-.1 .4-.2 .4-.1 .4-.2 .4-.1 .4-.2 .4-.1 .4-.1 .4-.2 .5-.2 .4-.1 .4-.2 .4-.2 .4-.2 .4-.2 .4-.1 .4-.2 .4-.2 .5-.3 .4-.2 .4-.3 .4-.3 .4-.3 .4-.2 .4-.2 .4-.3 .4-.3 .5-.2 .4-.3 .4-.3 .4-.3 .4-.2 .4-.2 .4-.1 .4-.3 .4-.2 .4-.2 .5-.1 .4-.2 .4-.1 .4 0 .4 0 .4 0 .4 0 .4 .1 .4 .1 .5 .1 .4 .1 .4 .2 .4 .2 .4 .2 .4 .1 .4 .1 .4 .1 .4 .1 .4 0 .5 .1 .4 0 .4 0 .4 0 .4-.2 .4-.2 .4-.1 .4-.2 .4-.1 .5-.2 .4-.2 .4-.3 .4-.3 .4-.3 .4-.3 .4-.2 .4-.2 .4-.3 .4-.3 .5-.2 .4-.3 .4-.3 .4-.3 .4-.4 .4-.3 .4-.3 .4-.4 .4-.2 .5-.3 .4-.3 .4-.2 .4-.3 .4-.1 .4-.1 .4-.1 .4 0 .4 0 .4 0 .5-.2 .4-.1 .4-.2 .4-.1 .4-.3 .4-.3 .4-.4 .4-.5 .4-.6 .5-.8 .4-.7 .4-.7 .4-.6 .4-.7 .4-.6 .4-.5 .4-.5 .4-.6 .4-.5 .5-.3 .4-.2 .4-.2 .4-.2 .4-.3 .4-.2 .4-.3 .4-.3 .4-.3 .5-.1 .4-.2 .4-.2 .4-.2 .4-.1 .4-.2 .4-.2 .4-.2 .4-.2 .5-.1 .4 0 .4-.1 .4-.1 .4 0 .4 0 .4 0 .4 0 .4 .1 .4 .1 .5 .1 .4 .1 .4 0 .4 0 .4 0 .4-.1 .4-.1 .4-.1 .4-.2 .5-.2 .4-.3 .4-.3 .4-.3 .4-.4 .4-.5 .4-.5 .4-.6 .4-.6 .4-.8 .5-.9 .4-.9 .4-.9 .4-.9 .4-.9 .4-.8 .4-.7 .4-.8 .4-.9 .5-.8 .4-.7 .4-.7 .4-.7 .4-.6 .4-.5 .4-.5 .4-.7 .4-.6 .4-.6 .5-.4 .4-.5 .4-.3 .4-.4 .4-.2 .4-.3 .4-.3 .4-.3 .4-.2 .5-.2 .4 0 .4 0 .4 .1 .4 0 .4 0 .4-.1 .4 0 .4 .1 .4 .1 .5 .1 .4 .1 .4 .2 .4 .1 .4 0 .4 0 .4-.1 .4 .1 .4 0 .5 0 .4-.1 .4 0 .4-.1 .4-.3 .4-.2 .4-.2 .4 0 .4-.2 .4-.1 .5-.1 .4-.1 .4 0 .4-.1 .4-.1 .4 .2 .4 .2 .4 .1 .4 .2 .5 .2 .4 .3 .4 .2 .4 .2 .4 .3 .4 .4 .4 .4 .4 .2 .4 .2 .5 .3 .4 .2 .4 .2 .4 .1 .4 .2 .4 .2 .4 .1 .4 0 .4-.1 .4-.1 .5-.2 .4-.3 .4-.3 .4-.2 .4-.3 .4-.4 .4-.4 .4-.5 .4-.6 .5-.5 .4-.5 .4-.3 .4-.3 .4-.4 .4-.5 .4-.4 .4-.3 .4-.2 .4-.4 .5-.2 .4-.1 .4-.1 .4 0 .4-.3 .4-.1 .4-.2 .4-.1 .4 0 .5-.1 .4 .1 .4-.2 .4-.1 .4-.2 .4-.2 .4 0 .4 0 .4-.1 .4 0 .5 0 .4 0 .4-.2 .4-.2 .4 0 .4 .1 .4 .1 .4 0 .4 .1 .5 .2 .4 .1 .4 0 .4 .1 .4 .2 .4 .1 .4 .3 .4 .3 .4 .3 .4 .1 .5 .1 .4 .2 .4 .2 .4 .2 .4 .3 .4 .2 .4 .2 .4 .3 .4 .3 .5 .1 .4 .2 .4 .4 .4 .4 .4 .3 .4 .3 .4 .5 .4 .4 .4 .4 .5 .4 .4 .5 .4 .5 .4 .6 .4 .5 .4 .4 .4 .6 .4 .5 .4 .4 .4 .5 .5 .5 .4 .6 .4 .5 .4 .4 .4 .4 .4 .4 .4 .4 .4 .2 .4 .2 .5 .2 .4 .3 .4 .1 .4 .1 .4 .1 .4 .1 .4 0 .4 0 .4 .1 .4 .2 .5 .1 .4 .1 .4 .2 .4 .1 .4 .1 .4 .2 .4 .2 .4 .3 .4 .3 .5 .2 .4 .1 .4 .2 .4 .1 .4 .2 .4 .1 .4 .1 .4 .2 .4 .1 .4 .1 .5 0 .4-.1 .4-.1 .4 0 .4 0 .4-.1 .4 .1 .4-.1 .4-.1 .5-.1 .4-.1 .4-.1 .4 0 .4 0 .4 0 .4 0 .4 0 .4-.2 .4-.2 .5-.2 .4-.1 .4-.2 .4-.1 .4-.1 .4-.2 .4-.2 .4-.3 .4-.1 .5-.1 .4-.1 .4 0 .4 0 .4 0 .4 0 .4-.2 .4-.1 .4-.1 .4 0 .5 0 .4-.1 .4 0 .4 0 .4-.2 .4-.3 .4-.2 .4-.1 .4-.2 .5-.3 .4-.4 .4-.4 .4-.6 .4-.6 .4-.7 .4-.7 .4-.6 .4-.6 .5-.6 .4-.7 .4-.5 .4-.5 .4-.5 .4-.4 .4-.3 .4-.1 .4-.2 .4-.1 .5 0 .4-.1 .4-.1 .4-.2 .4 0 .4 .1 .4 0 .4 0 .4 0 .5 0 .4-.1 .4-.1 .4 0 .4 .1 .4 .1 .4 0 .4 .1 .4 0 .4 0 .5 0 .4 0 .4 0 .4 .1 .4 .1 .4 0 .4-.1 .4-.2 .4-.1 .5-.3 .4-.4 .4-.3 .4-.3 .4-.5 .4-.5 .4-.6 .4-.6 .4-.6 .4-.6 .5-.5 .4-.3 .4-.2 .4-.2"/>
<path stroke="#ff00ff" d="M41 240.2l.4-.2 .4-.1 .4-.2 .4-.2 .4-.1 .5-.1 .4-.1 .4-.1 .4-.1 .4 .3 .4 .4 .4 .3 .4 .4 .4 .3 .5 .3 .4-.3 .4-.4 .4-.4 .4-.5 .4-.3 .4 .3 .4 .3 .4 .3 .5 .3 .4 .2 .4-.4 .4-.6 .4-.4 .4-.3 .4-.3 .4-.1 .4-.2 .4 0 .5-.1 .4 0 .4-.1 .4 0 .4-.1 .4 0 .4 0 .4-.1 .4 0 .5 0 .4 0 .4 0 .4 0 .4 .1 .4 0 .4 0 .4 0 .4 0 .4 0 .5 0 .4 0 .4-.1 .4 0 .4 0 .4 0 .4-.1 .4 0 .4 0 .5 0 .4 0 .4-.1 .4 0 .4 0 .4-.1 .4 0 .4-.1 .4 0 .4-.1 .5 0 .4-.1 .4-.1 .4 0 .4-.1 .4 0 .4-.1 .4-.1 .4 0 .5-.1 .4 0 .4-.1 .4 0 .4-.1 .4 0 .4 0 .4-.1 .4 0 .4 0 .5 0 .4 0 .4 0 .4 0 .4 0 .4 0 .4 0 .4 0 .4 .1 .5 0 .4 0 .4 0 .4 0 .4 .1 .4 0 .4 0 .4 0 .4 .1 .5 0 .4 0 .4 0 .4-.1 .4 0 .4-.1 .4-.1 .4-.1 .4-.2 .4-.1 .5-.1 .4-.1 .4-.1 .4 0 .4-.1 .4 0 .4-.1 .4 0 .4 0 .5 0 .4 0 .4 0 .4 0 .4 0 .4 0 .4 0 .4 0 .4 0 .4 0 .5 0 .4 .1 .4 0 .4 0 .4 .1 .4 0 .4 0 .4 .1 .4 0 .5 0 .4-.1 .4 0 .4-.1 .4-.1 .4-.2 .4-.1 .4-.1 .4-.1 .4-.1 .5-.1 .4-.1 .4 0 .4-.1 .4-.1 .4-.1 .4-.1 .4-.1 .4 0 .5-.1 .4-.1 .4-.1 .4-.1 .4-.1 .4-.1 .4-.1 .4-.1 .4-.1 .4 0 .5-.1 .4-.1 .4-.2 .4-.1 .4-.1 .4-.2 .4-.2 .4-.2 .4-.2 .5-.2 .4-.3 .4-.2 .4-.3 .4-.3 .4-.2 .4-.3 .4-.2 .4-.2 .4-.3 .5-.1 .4-.2 .4-.2 .4-.2 .4-.1 .4-.2 .4-.1 .4-.2 .4-.3 .5-.2 .4-.2 .4-.3 .4-.2 .4-.2 .4-.2 .4-.3 .4-.2 .4-.2 .5-.2 .4-.2 .4-.2 .4-.3 .4-.3 .4-.3 .4-.4 .4-.4 .4-.4 .4-.4 .5-.4 .4-.4 .4-.3 .4-.4 .4-.4 .4-.3 .4-.3 .4-.3 .4-.3 .5-.3 .4-.2 .4-.3 .4-.4 .4-.3 .4-.4 .4-.3 .4-.4 .4-.4 .4-.4 .5-.4 .4-.4 .4-.4 .4-.4 .4-.4 .4-.3 .4-.3 .4-.3 .4-.2 .5-.2 .4-.2 .4-.2 .4-.1 .4 0 .4-.1 .4 0 .4 0 .4 .1 .4 .1 .5 0 .4 .1 .4 .2 .4 .1 .4 .2 .4 .1 .4 .2 .4 .2 .4 .2 .5 .2 .4 .2 .4 .3 .4 .2 .4 .3 .4 .3 .4 .3 .4 .2 .4 .3 .4 .2 .5 .2 .4 .2 .4 .2 .4 .1 .4 0 .4 .1 .4 0 .4 .1 .4 0 .5 .1 .4 .1 .4 .1 .4 .1 .4 .1 .4 .1 .4 .2 .4 .1 .4 .2 .4 .1 .5 .2 .4 .2 .4 .1 .4 .2 .4 .1 .4 .2 .4 .1 .4 .2 .4 .2 .5 .1 .4 .2 .4-.1 .4 .4 .4-.3 .4 .5 .4-.5 .4 .6 .4-.4 .5 .3 .4-.7 .4 .2 .4-.7 .4 .2 .4-.9 .4 .2 .4-.9 .4 .2 .4-1.2 .5 0 .4-1.2 .4 .1 .4-1.3 .4 .1 .4-1.4 .4 .3 .4-1.5 .4 .1 .5-1.6 .4 .2 .4-1.5 .4 .3 .4-1.6 .4 .5 .4-1.6 .4 .4 .4-1.7 .4 .5 .5-1.7 .4 .8 .4-1.7 .4 .7 .4-1.7 .4 .7 .4-1.8 .4 .5 .4-1.8 .5 .7 .4-1.8 .4 .8 .4-1.8 .4 1 .4-1.9 .4 1 .4-1.8 .4 1.1 .4-1.5 .5 1.2 .4-1.5 .4 1.2 .4-1.5 .4 1 .4-1.6 .4 1.2 .4-1.5 .4 1.4 .5-1.7 .4 1.5 .4-1.6 .4 1.3 .4-1.7 .4 1.3 .4-1.4 .4 1.3 .4-1.6 .4 1.2 .5-1.7 .4 1.4 .4-1.8 .4 1.1 .4-1.5 .4 1.3 .4-1.4 .4 1.2 .4-1.8 .5 1.2 .4-1.9 .4 1.1 .4-2 .4 1.4 .4-1.7 .4 1.3 .4-1.9 .4 1.2 .5-2.1 .4 1.4 .4-2.4 .4 1.3 .4-1.7 .4 1.5 .4-1.8 .4 1.4 .4-2.3 .4 1.7 .5-2 .4 1.6 .4-2 .4 1.8 .4-1.7 .4 1.9 .4-1.9 .4 1.9 .4-1.6 .5 2.1 .4-1.7 .4 2.2 .4-1.1 .4 2.1 .4-1.6 .4 1.7 .4-1.3 .4 1.5 .4-1.4 .5 1.7 .4-1.3 .4 1.5 .4-1.6 .4 1.3 .4-1.8 .4 1.4 .4-1.6 .4 1.3 .5-1.8 .4 1.3 .4-1.8 .4 1.2 .4-2 .4 1.3 .4-2.1 .4 1.6 .4-1.9 .4 1.2 .5-1.7 .4 1.4 .4-2.2 .4 1.3 .4-2.3 .4 1.3 .4-2.1 .4 1.5 .4-2.2 .5 1.6 .4-2.2 .4 1.3 .4-2.2 .4 2 .4-2 .4 1.9 .4-1.7 .4 2.1 .4-1.6 .5 1.6 .4-1.9 .4 1.6 .4-1.6 .4 1.5 .4-2.1 .4 1.3 .4-2.5 .4 1 .5-3.2 .4 .8 .4-3 .4 1.3 .4-3.1 .4 1.3 .4-2.9 .4 1.5 .4-3.2 .4 1.7 .5-2.8 .4 2.7 .4-2.6 .4 2.5 .4-3.1 .4 2.5 .4-2.9 .4 2.1 .4-3.2 .5 2.5 .4-2.6 .4 2.4 .4-2.9 .4 2.8 .4-3 .4 2.4 .4-3.2 .4 2.2 .5-2.4 .4 2.9 .4-2.8 .4 2.6 .4-2.5 .4 2.6 .4-2.8 .4 2.6 .4-2.3 .4 2.9 .5-2.2 .4 3 .4-2.4 .4 2.5 .4-2.3 .4 2.4 .4-2.4 .4 2.2 .4-2.4 .5 2 .4-2.6 .4 2.1 .4-2.5 .4 1.7 .4-2.8 .4 1.6 .4-2.8 .4 1.8 .4-3.6 .5 1.3 .4-3.9 .4 1.3 .4-4 .4 1.4 .4-3.5 .4 2.3 .4-4.2 .4 1.9 .5-4.2 .4 2.1 .4-4 .4 2.8 .4-4.1 .4 2.9 .4-3.9 .4 2.3 .4-4.1 .4 2.6 .5-3.7 .4 2.3 .4-3.3 .4 2.7 .4-3.2 .4 2.8 .4-3.8 .4 2.8 .4-3.6 .5 3.1 .4-2.9 .4 3.2 .4-2.6 .4 3.2 .4-3.3 .4 3.1 .4-3.4 .4 3.7 .4-3 .5 3.7 .4-3 .4 3.5 .4-2.7 .4 2.9 .4-3.5 .4 2.9 .4-3.1 .4 3.5 .5-3.3 .4 3.4 .4-3.3 .4 3.2 .4-3.8 .4 2.5 .4-3.6 .4 3.5 .4-3.6 .4 3.1 .5-3.1 .4 2.9 .4-3.1 .4 2.6 .4-3.3 .4 3.4 .4-2.4 .4 3.3 .4-3 .5 3.6 .4-2.8 .4 3.5 .4-3.2 .4 3.7 .4-2.4 .4 3.9 .4-2.8 .4 3.2 .5-2.7 .4 3.4 .4-2.9 .4 3.3 .4-2.7 .4 3.4 .4-2.7 .4 2.8 .4-2.7 .4 2.5 .5-3.2 .4 2.5 .4-3.6 .4 3 .4-3.2 .4 2.4 .4-3.6 .4 2.3 .4-4.2 .5 2.1 .4-3.5 .4 2.7 .4-3.1 .4 2.6 .4-4 .4 2.3 .4-3.4 .4 2.8 .4-3.6 .5 2.9 .4-3 .4 3.3 .4-3.1 .4 2.4 .4-3.4 .4 3.1 .4-3.2 .4 3 .5-3.1 .4 3.6 .4-3.6 .4 3 .4-3.9 .4 3.1 .4-3.3 .4 3.1 .4-3.5 .4 3.3 .5-2.9 .4 3 .4-3.9 .4 2.8 .4-3.2 .4 3.6 .4-3.1 .4 3.1 .4-3 .5 3.6 .4-3 .4 3.1 .4-3.2 .4 3.4 .4-3.3 .4 3.8 .4-2.3 .4 3.5 .4-3.1 .5 3.3 .4-3.5 .4 3.5 .4-2.7 .4 3.3 .4-2.9 .4 3.6 .4-2.8 .4 3.6 .5-3.1 .4 3.1 .4-2.7 .4 4 .4-3.1 .4 3.7 .4-2.3 .4 3.7 .4-2.7 .5 3.8 .4-2.8 .4 4.1 .4-2.3 .4 3.7 .4-2.5 .4 3.8 .4-2.2 .4 3.2 .4-2.4 .5 3.9 .4-2 .4 3.2 .4-2.1 .4 3.4 .4-2.3 .4 2.9 .4-2.3 .4 2.5 .5-2.1 .4 3 .4-2.5 .4 2.6 .4-2.5 .4 2.6 .4-2.7 .4 2.6 .4-2.7 .4 3 .5-2.6 .4 2.8 .4-2.5 .4 2.7 .4-2.6 .4 2.9 .4-2.6 .4 3.2 .4-2.4 .5 3.1 .4-2.6 .4 2.9 .4-2.6 .4 2.9 .4-2.7 .4 2.9 .4-2.3 .4 2.9 .4-2.5 .5 2.4 .4-3 .4 2.4 .4-2.5 .4 2.5 .4-2.7 .4 2.8 .4-2.8 .4 2.4 .5-2.8 .4 2.6 .4-2.9 .4 2.5 .4-2.7 .4 3 .4-2.5 .4 2.7 .4-3 .4 2.3 .5-3.1 .4 2.5 .4-3 .4 2.7 .4-2.5 .4 2.4 .4-3.2 .4 2.2 .4-2.9 .5 3.1 .4-3.1 .4 2.8 .4-2.5 .4 3 .4-2.6 .4 2.4 .4-3.1 .4 2.8 .4-2.7 .5 3 .4-2.8 .4 2.8 .4-2.7 .4 2.4 .4-3.2 .4 2.4 .4-2.6 .4 2.7 .5-2.8 .4 2.3 .4-3.3 .4 2.1 .4-3.7 .4 1.5 .4-3.9 .4 2.6 .4-3.9 .5 2.2 .4-4.2 .4 2.4 .4-3.7 .4 2.4 .4-4.1 .4 3.2 .4-3.3 .4 3.4 .4-3.4 .5 3.5 .4-3.5 .4 2.9 .4-3.7 .4 3.6 .4-2.8 .4 3.2 .4-2.9 .4 3 .5-3 .4 3.1 .4-3.4 .4 3 .4-2.8 .4 3.4 .4-3 .4 3.3 .4-3 .4 2.8 .5-2.9 .4 3.2 .4-3.1 .4 3.3 .4-2.7 .4 3.1 .4-3.2 .4 2.9 .4-3.1 .5 2.2 .4-3.7 .4 3 .4-3.6 .4 2.8 .4-3.9 .4 2.1 .4-4.3 .4 2.2 .4-4.2 .5 2.6 .4-3.3 .4 2.8 .4-3.2"/>
<path stroke="#00ff00" d="M41 239.4l.4-.2 .4-.2 .4-.2 .4-.2 .4-.1 .5-.2 .4-.1 .4-.1 .4-.1 .4 .4 .4 .4 .4 .4 .4 .4 .4 .4 .5 .3 .4-.3 .4-.5 .4-.6 .4-.5 .4-.3 .4 .2 .4 .4 .4 .4 .5 .4 .4 .2 .4-.6 .4-.6 .4-.5 .4-.4 .4-.3 .4-.3 .4-.1 .4-.1 .5-.1 .4-.1 .4 0 .4-.1 .4-.1 .4 0 .4-.1 .4 0 .4 0 .5 0 .4 0 .4 0 .4 0 .4 0 .4 0 .4 .1 .4 0 .4 0 .4 0 .5-.1 .4 0 .4 0 .4-.1 .4 0 .4-.1 .4 0 .4 0 .4 0 .5 0 .4 0 .4 0 .4-.1 .4 0 .4-.1 .4 0 .4-.1 .4-.1 .4 0 .5-.1 .4 0 .4-.1 .4-.1 .4 0 .4-.1 .4-.1 .4 0 .4-.1 .5 0 .4-.1 .4-.1 .4 0 .4-.1 .4 0 .4 0 .4-.1 .4 0 .4 0 .5 0 .4 0 .4 0 .4 0 .4 .1 .4 0 .4 0 .4 0 .4 0 .5 0 .4 0 .4 0 .4 .1 .4 0 .4 0 .4 0 .4 .1 .4 0 .5 0 .4 .1 .4-.1 .4 0 .4-.1 .4-.1 .4-.2 .4-.1 .4-.2 .4-.1 .5-.2 .4-.1 .4-.1 .4-.1 .4-.1 .4 0 .4-.1 .4 0 .4 0 .5-.1 .4 0 .4 0 .4 0 .4 0 .4 0 .4 0 .4 0 .4 0 .4 0 .5 0 .4 0 .4 0 .4 .1 .4 0 .4 .1 .4 0 .4 .1 .4 0 .5 0 .4 0 .4-.2 .4-.1 .4-.2 .4-.2 .4-.2 .4-.2 .4-.1 .4-.1 .5-.1 .4-.2 .4-.1 .4-.1 .4-.1 .4-.1 .4-.1 .4-.1 .4-.2 .5-.1 .4-.1 .4-.2 .4-.1 .4-.1 .4-.2 .4-.1 .4-.1 .4-.1 .4-.1 .5-.1 .4-.2 .4-.1 .4-.2 .4-.2 .4-.3 .4-.2 .4-.3 .4-.3 .5-.3 .4-.4 .4-.3 .4-.4 .4-.3 .4-.4 .4-.3 .4-.3 .4-.4 .4-.2 .5-.3 .4-.2 .4-.2 .4-.1 .4-.1 .4-.2 .4-.2 .4-.2 .4-.3 .5-.3 .4-.3 .4-.2 .4-.3 .4-.3 .4-.2 .4-.2 .4-.2 .4-.2 .5-.2 .4-.2 .4-.2 .4-.3 .4-.4 .4-.4 .4-.4 .4-.4 .4-.5 .4-.5 .5-.5 .4-.4 .4-.5 .4-.4 .4-.4 .4-.4 .4-.3 .4-.3 .4-.2 .5-.3 .4-.2 .4-.3 .4-.3 .4-.4 .4-.4 .4-.4 .4-.5 .4-.5 .4-.4 .5-.5 .4-.4 .4-.5 .4-.5 .4-.4 .4-.4 .4-.3 .4-.4 .4-.2 .5-.2 .4-.2 .4-.2 .4 0 .4-.1 .4 .1 .4 0 .4 .1 .4 .1 .4 .2 .5 .1 .4 .2 .4 .2 .4 .2 .4 .3 .4 .2 .4 .3 .4 .3 .4 .2 .5 .3 .4 .3 .4 .4 .4 .3 .4 .4 .4 .4 .4 .4 .4 .4 .4 .4 .4 .3 .5 .3 .4 .3 .4 .2 .4 .1 .4 .1 .4 0 .4 .1 .4 0 .4 0 .5 .1 .4 .2 .4 .1 .4 .2 .4 .2 .4 .2 .4 .2 .4 .2 .4 .2 .4 .3 .5 .3 .4 .2 .4 .3 .4 0 .4 .5 .4-.2 .4 .7 .4-.2 .4 .9 .5-.4 .4 .9 .4-.8 .4 1.3 .4-1 .4 1.3 .4-1.1 .4 1.4 .4-.8 .5 .9 .4-1.4 .4 .7 .4-1.3 .4 .9 .4-1.5 .4 .7 .4-1.5 .4 .8 .4-1.9 .5 .5 .4-2.1 .4 .7 .4-2.1 .4 .8 .4-2.3 .4 1.1 .4-2.6 .4 .9 .5-2.7 .4 1.1 .4-2.7 .4 1.4 .4-2.8 .4 1.6 .4-2.9 .4 1.6 .4-3.2 .4 1.7 .5-3.1 .4 2.2 .4-3.1 .4 2.1 .4-3 .4 2 .4-3.4 .4 1.8 .4-3.5 .5 2.2 .4-3.5 .4 2.4 .4-3.7 .4 2.7 .4-3.6 .4 2.6 .4-3.7 .4 3 .4-3.1 .5 2.9 .4-3 .4 3 .4-3.1 .4 2.5 .4-3.1 .4 2.6 .4-2.8 .4 2.9 .5-3.2 .4 3.1 .4-2.9 .4 2.8 .4-3.2 .4 2.8 .4-2.7 .4 2.7 .4-3 .4 2.5 .5-3 .4 2.8 .4-3.4 .4 2.4 .4-2.8 .4 2.8 .4-2.6 .4 2.6 .4-3.4 .5 2.5 .4-3.4 .4 2.4 .4-3.8 .4 3 .4-3.2 .4 3 .4-3.6 .4 2.7 .5-4 .4 3.1 .4-4.7 .4 3 .4-3.5 .4 3.6 .4-3.7 .4 3.2 .4-4.7 .4 3.8 .5-4.2 .4 3.7 .4-4.4 .4 4.2 .4-4 .4 4.3 .4-4.1 .4 4.1 .4-3.5 .5 4.4 .4-3.6 .4 4.4 .4-2.2 .4 4 .4-3.1 .4 3.1 .4-2.5 .4 2.9 .4-2.5 .5 2.8 .4-2.1 .4 2.7 .4-2.7 .4 2.2 .4-2.9 .4 2.5 .4-2.6 .4 2.3 .5-2.8 .4 2.4 .4-3 .4 2.1 .4-3.3 .4 2.4 .4-3.3 .4 2.9 .4-3.1 .4 2.4 .5-2.8 .4 2.7 .4-3.6 .4 2.4 .4-3.7 .4 2.4 .4-3.5 .4 2.8 .4-3.6 .5 3.1 .4-3.9 .4 2.5 .4-3.7 .4 3.8 .4-3.5 .4 3.6 .4-2.7 .4 3.6 .4-2.3 .5 2.6 .4-2.7 .4 2.5 .4-2 .4 2.2 .4-2.8 .4 2 .4-3.5 .4 1.5 .5-5 .4 1.5 .4-5.2 .4 3 .4-5.7 .4 3.2 .4-5.5 .4 3.7 .4-6.4 .4 4.4 .5-5.9 .4 6.2 .4-5.4 .4 5.7 .4-6.3 .4 5.7 .4-6.2 .4 5.1 .4-6.8 .5 5.6 .4-5.5 .4 5.7 .4-6.3 .4 6.4 .4-6.5 .4 5.7 .4-7 .4 5.3 .5-5.3 .4 6.5 .4-6.2 .4 6 .4-5.5 .4 5.7 .4-6 .4 5.7 .4-4.7 .4 5.8 .5-4 .4 5.7 .4-4.3 .4 4.7 .4-3.8 .4 4.1 .4-3.9 .4 3.7 .4-3.5 .5 3.2 .4-3.8 .4 3.4 .4-3.5 .4 2.9 .4-3.9 .4 2.6 .4-3.8 .4 3 .4-5.3 .5 2.2 .4-6.2 .4 2.6 .4-6.6 .4 3.3 .4-5.9 .4 5.1 .4-7.2 .4 4.3 .5-7.3 .4 4.8 .4-7.3 .4 6.3 .4-7.6 .4 6.4 .4-7 .4 5.2 .4-7.7 .4 5.9 .5-7.1 .4 5.4 .4-6.6 .4 6.2 .4-6.4 .4 6.2 .4-7.6 .4 6.2 .4-7.4 .5 6.9 .4-6 .4 6.6 .4-5.2 .4 6.5 .4-6.5 .4 6.1 .4-6.6 .4 7 .4-5.5 .5 6.5 .4-5.1 .4 6 .4-4.7 .4 4.9 .4-6 .4 4.8 .4-5.2 .4 6 .5-5.6 .4 5.9 .4-5.6 .4 5.5 .4-6.8 .4 4.7 .4-6.7 .4 6.7 .4-6.8 .4 6 .5-6.1 .4 5.8 .4-6.3 .4 5.4 .4-6.9 .4 7 .4-5.1 .4 6.6 .4-6.3 .5 6.9 .4-5.6 .4 6.6 .4-6.3 .4 6.8 .4-4.6 .4 6.8 .4-5.1 .4 5.4 .5-4.7 .4 5.8 .4-5 .4 5.4 .4-4.4 .4 5.5 .4-4.2 .4 4.4 .4-4.1 .4 3.9 .5-5 .4 3.9 .4-5.6 .4 5 .4-4.9 .4 4 .4-5.8 .4 4.1 .4-7.4 .5 4 .4-6.3 .4 5.7 .4-5.9 .4 5.6 .4-7.9 .4 5.5 .4-7.2 .4 6.5 .4-7.7 .5 6.9 .4-6.6 .4 7.6 .4-7 .4 5.7 .4-7.5 .4 7.2 .4-7 .4 6.7 .5-7 .4 8.2 .4-7.9 .4 6.9 .4-8.8 .4 7.4 .4-7.8 .4 7.6 .4-8.7 .4 8.3 .5-7.5 .4 7.7 .4-9.6 .4 7.7 .4-8.5 .4 9.2 .4-8.5 .4 8.5 .4-8.4 .5 9.2 .4-8.3 .4 8.3 .4-8.6 .4 8.7 .4-8.9 .4 9.3 .4-6.4 .4 8.3 .4-7.9 .5 8.1 .4-8.9 .4 8.5 .4-7.4 .4 8.1 .4-7.7 .4 8.6 .4-7.4 .4 8.5 .5-7.9 .4 7.4 .4-7.1 .4 9 .4-7.6 .4 8 .4-5.8 .4 7.8 .4-6.2 .5 7.4 .4-6.1 .4 7.9 .4-4.9 .4 6.7 .4-5.1 .4 6.7 .4-4.3 .4 5.3 .4-4.6 .5 6.6 .4-3.5 .4 5.1 .4-3.7 .4 5.3 .4-3.7 .4 4.5 .4-3.9 .4 3.7 .5-3.3 .4 4.7 .4-4.1 .4 3.8 .4-4.1 .4 4.1 .4-4.6 .4 4.2 .4-4.8 .4 5.1 .5-4.7 .4 4.9 .4-4.6 .4 4.5 .4-4.8 .4 5 .4-4.8 .4 5.6 .4-4.4 .5 5.5 .4-5 .4 5.1 .4-4.9 .4 5.1 .4-5 .4 5.2 .4-4.3 .4 5.3 .4-4.7 .5 4.3 .4-5.5 .4 4.4 .4-4.8 .4 4.8 .4-5.3 .4 5.5 .4-5.4 .4 4.7 .5-5.6 .4 5.3 .4-5.8 .4 5.1 .4-5.4 .4 6 .4-4.9 .4 5.5 .4-5.9 .4 4.7 .5-5.9 .4 5 .4-5.8 .4 5.6 .4-5.1 .4 5.2 .4-6.3 .4 4.6 .4-5.7 .5 6.5 .4-6 .4 5.7 .4-4.8 .4 6 .4-4.8 .4 4.6 .4-5.7 .4 5.2 .4-4.8 .5 5.5 .4-4.8 .4 5 .4-4.3 .4 4.1 .4-5.2 .4 4 .4-3.9 .4 4.7 .5-4.4 .4 4 .4-5 .4 3.7 .4-6 .4 2.8 .4-6.3 .4 4.8 .4-6.7 .5 4.7 .4-7.6 .4 5.2 .4-7.1 .4 5.5 .4-8.1 .4 7.1 .4-6.5 .4 7 .4-6.7 .5 7.2 .4-6.8 .4 5.7 .4-7 .4 7 .4-5.3 .4 6.3 .4-5.3 .4 5.5 .5-5.3 .4 5.4 .4-5.9 .4 5.2 .4-4.7 .4 5.8 .4-4.9 .4 5.5 .4-5 .4 4.7 .5-4.6 .4 5 .4-4.8 .4 5.2 .4-4.1 .4 5 .4-5 .4 4.5 .4-4.7 .5 3.5 .4-5.9 .4 5.1 .4-5.7 .4 4.9 .4-6.6 .4 4.1 .4-8 .4 5 .4-8.5 .5 6.1 .4-7 .4 6.7 .4-7"/>
<path stroke="#ffff00" d="M41 238.6l.4-.2 .4-.2 .4-.3 .4-.2 .4-.2 .5-.1 .4-.2 .4-.1 .4-.1 .4 .4 .4 .4 .4 .5 .4 .5 .4 .5 .5 .3 .4-.4 .4-.5 .4-.7 .4-.6 .4-.4 .4 .3 .4 .4 .4 .4 .5 .5 .4 .2 .4-.6 .4-.7 .4-.6 .4-.5 .4-.4 .4-.3 .4-.1 .4-.2 .5-.1 .4-.1 .4-.1 .4-.1 .4-.1 .4 0 .4-.1 .4-.1 .4 0 .5 0 .4 0 .4 0 .4 0 .4 .1 .4 0 .4 0 .4 0 .4 .1 .4-.1 .5 0 .4 0 .4-.1 .4-.1 .4 0 .4-.1 .4 0 .4 0 .4 0 .5 0 .4 0 .4 0 .4 0 .4-.1 .4 0 .4-.1 .4-.1 .4-.1 .4-.1 .5 0 .4-.1 .4-.1 .4 0 .4-.1 .4-.1 .4 0 .4-.1 .4-.1 .5 0 .4-.1 .4 0 .4-.1 .4-.1 .4 0 .4 0 .4-.1 .4 0 .4 0 .5 .1 .4 0 .4 0 .4 0 .4 0 .4 0 .4 0 .4 0 .4 .1 .5 0 .4 0 .4 0 .4 0 .4 0 .4 .1 .4 0 .4 0 .4 .1 .5 0 .4 .1 .4 0 .4-.1 .4-.1 .4-.1 .4-.2 .4-.2 .4-.2 .4-.2 .5-.2 .4-.2 .4-.1 .4-.1 .4-.1 .4-.1 .4 0 .4 0 .4-.1 .5 0 .4 0 .4 0 .4-.1 .4 0 .4 0 .4 0 .4 0 .4 0 .4 0 .5 0 .4 0 .4 0 .4 .1 .4 0 .4 .1 .4 .1 .4 .1 .4 .1 .5 0 .4 0 .4-.2 .4-.2 .4-.3 .4-.3 .4-.3 .4-.2 .4-.1 .4-.2 .5-.1 .4-.1 .4-.1 .4-.1 .4-.2 .4-.1 .4-.2 .4-.1 .4-.2 .5-.1 .4-.2 .4-.2 .4-.2 .4-.1 .4-.2 .4-.1 .4-.1 .4-.2 .4-.1 .5-.1 .4-.2 .4-.1 .4-.3 .4-.2 .4-.3 .4-.3 .4-.4 .4-.4 .5-.4 .4-.4 .4-.4 .4-.5 .4-.4 .4-.5 .4-.4 .4-.4 .4-.4 .4-.3 .5-.3 .4-.2 .4-.2 .4-.1 .4-.1 .4-.2 .4-.2 .4-.2 .4-.3 .5-.3 .4-.4 .4-.4 .4-.3 .4-.2 .4-.3 .4-.2 .4-.2 .4-.1 .5-.1 .4-.2 .4-.3 .4-.3 .4-.4 .4-.4 .4-.5 .4-.5 .4-.6 .4-.5 .5-.6 .4-.5 .4-.5 .4-.5 .4-.5 .4-.4 .4-.3 .4-.2 .4-.3 .5-.2 .4-.2 .4-.2 .4-.4 .4-.4 .4-.5 .4-.5 .4-.5 .4-.5 .4-.5 .5-.5 .4-.6 .4-.5 .4-.6 .4-.4 .4-.5 .4-.4 .4-.3 .4-.3 .5-.2 .4-.2 .4-.1 .4-.1 .4 0 .4 .1 .4 .1 .4 .1 .4 .2 .4 .2 .5 .2 .4 .3 .4 .3 .4 .3 .4 .3 .4 .3 .4 .4 .4 .3 .4 .4 .5 .3 .4 .4 .4 .4 .4 .5 .4 .5 .4 .5 .4 .5 .4 .5 .4 .5 .4 .5 .5 .3 .4 .4 .4 .2 .4 .2 .4 .1 .4 0 .4 0 .4-.1 .4 .1 .5 .1 .4 .2 .4 .3 .4 .2 .4 .3 .4 .1 .4 .5 .4-.2 .4 .6 .4-.1 .5 1.2 .4-.5 .4 1 .4-.6 .4 1.2 .4-.9 .4 1.5 .4-.9 .4 1.9 .5-1.1 .4 1.6 .4-1.5 .4 2 .4-1.5 .4 1.8 .4-1.4 .4 1.8 .4-1 .5 1.3 .4-1.8 .4 1 .4-1.7 .4 1.3 .4-2 .4 1.1 .4-2 .4 1.3 .4-2.5 .5 .8 .4-2.6 .4 1.1 .4-2.7 .4 1.3 .4-3 .4 1.6 .4-3.3 .4 1.4 .5-3.4 .4 1.5 .4-3.3 .4 2 .4-3.6 .4 2.2 .4-3.6 .4 2.2 .4-3.9 .4 2.2 .5-3.7 .4 2.8 .4-3.6 .4 2.7 .4-3.6 .4 2.5 .4-4 .4 2.2 .4-4.1 .5 2.6 .4-4.2 .4 2.9 .4-4.3 .4 3.3 .4-4.3 .4 3.1 .4-4.2 .4 3.6 .4-3.5 .5 3.4 .4-3.4 .4 3.6 .4-3.8 .4 3.1 .4-3.8 .4 3.1 .4-3.4 .4 3.7 .5-3.9 .4 3.9 .4-3.6 .4 3.6 .4-4 .4 3.6 .4-3.5 .4 3.6 .4-3.9 .4 3.3 .5-4 .4 3.7 .4-4.4 .4 3.3 .4-3.7 .4 3.8 .4-3.4 .4 3.5 .4-4.3 .5 3.3 .4-4.5 .4 3.3 .4-4.9 .4 3.9 .4-4 .4 3.9 .4-4.6 .4 3.5 .5-5 .4 3.9 .4-5.8 .4 3.7 .4-4.2 .4 4.4 .4-4.4 .4 3.9 .4-5.7 .4 4.6 .5-5 .4 4.4 .4-5.4 .4 5.1 .4-4.8 .4 5.2 .4-5.1 .4 5 .4-4.3 .5 5.5 .4-4.6 .4 5.8 .4-3.2 .4 5.5 .4-4.5 .4 4.5 .4-3.8 .4 4.2 .4-3.9 .5 4.4 .4-3.5 .4 4.2 .4-4.2 .4 3.6 .4-4.4 .4 4 .4-4.3 .4 4 .5-4.6 .4 4.1 .4-4.7 .4 3.7 .4-5.1 .4 4.1 .4-5.2 .4 4.8 .4-4.8 .4 4 .5-4.3 .4 4.4 .4-5.4 .4 4.1 .4-5.7 .4 4.1 .4-5.2 .4 4.4 .4-5.4 .5 4.7 .4-5.7 .4 4.1 .4-5.6 .4 5.8 .4-5.4 .4 5.7 .4-4.5 .4 5.9 .4-4.1 .5 4.6 .4-4.7 .4 4.6 .4-3.8 .4 4.2 .4-4.8 .4 4.1 .4-5.6 .4 3.3 .5-7.6 .4 3.1 .4-7.5 .4 4.5 .4-7.8 .4 4.7 .4-7.3 .4 5.1 .4-8.2 .4 5.9 .5-7.4 .4 8.1 .4-6.8 .4 7.4 .4-8.1 .4 7.4 .4-7.9 .4 6.5 .4-8.7 .5 7.2 .4-7 .4 7.3 .4-8.1 .4 8.4 .4-8.4 .4 7.4 .4-9 .4 6.8 .5-6.9 .4 8.5 .4-8.1 .4 7.9 .4-7.5 .4 7.8 .4-8.4 .4 8 .4-6.9 .4 8.5 .5-6.4 .4 8.8 .4-6.9 .4 7.7 .4-6.6 .4 7.1 .4-6.8 .4 6.6 .4-6.6 .5 6.2 .4-6.9 .4 6.6 .4-6.5 .4 6.1 .4-6.9 .4 5.6 .4-6.4 .4 5.9 .4-8.6 .5 4.6 .4-9.4 .4 4.9 .4-9.6 .4 5.7 .4-8.3 .4 7.8 .4-9.7 .4 6.5 .5-9.7 .4 6.7 .4-9.5 .4 8.6 .4-10 .4 8.9 .4-9.3 .4 7.3 .4-10 .4 7.9 .5-9.2 .4 7.3 .4-8.6 .4 8.3 .4-8.2 .4 8.1 .4-9.9 .4 8.2 .4-9.6 .5 9.1 .4-7.9 .4 8.9 .4-7 .4 8.7 .4-8.9 .4 8.4 .4-9.1 .4 9.8 .4-7.9 .5 9.2 .4-7.6 .4 8.7 .4-7 .4 7.3 .4-8.8 .4 7.1 .4-7.6 .4 8.7 .5-8.3 .4 8.7 .4-8.3 .4 8.1 .4-9.7 .4 7 .4-9.5 .4 9.5 .4-9.7 .4 8.6 .5-8.6 .4 8.2 .4-8.9 .4 7.6 .4-9.7 .4 9.8 .4-7.4 .4 9.3 .4-8.9 .5 9.7 .4-8.3 .4 9.4 .4-9.2 .4 9.7 .4-7.2 .4 10 .4-8.1 .4 8.5 .5-7.8 .4 9.1 .4-8.3 .4 8.8 .4-7.6 .4 9 .4-7.4 .4 7.6 .4-7.3 .4 7 .5-8.5 .4 7.3 .4-9.2 .4 8.6 .4-8.1 .4 6.9 .4-9 .4 7.1 .4-11.1 .5 6.6 .4-9.2 .4 8.6 .4-8.6 .4 8.4 .4-11.1 .4 8 .4-9.9 .4 9.2 .4-10.5 .5 9.5 .4-8.9 .4 10.4 .4-9.5 .4 7.9 .4-10.3 .4 9.9 .4-9.4 .4 9.2 .5-9.5 .4 11.1 .4-10.8 .4 9.4 .4-11.7 .4 9.8 .4-10.3 .4 10.1 .4-11.3 .4 10.7 .5-9.6 .4 9.8 .4-12.3 .4 9.8 .4-10.8 .4 11.6 .4-10.7 .4 10.6 .4-10.6 .5 11.6 .4-10.4 .4 10.4 .4-10.9 .4 10.9 .4-11.2 .4 11.8 .4-8.1 .4 10.5 .4-10.2 .5 10.4 .4-11.6 .4 10.9 .4-9.5 .4 10.2 .4-9.9 .4 11 .4-9.6 .4 10.9 .5-10.3 .4 9.6 .4-9.5 .4 11.7 .4-10.2 .4 10.7 .4-8 .4 10.5 .4-8.8 .5 10.3 .4-9 .4 11 .4-7.5 .4 9.8 .4-8.1 .4 9.9 .4-7.1 .4 8.2 .4-7.6 .5 10.1 .4-6.5 .4 8.3 .4-6.9 .4 8.9 .4-7.1 .4 7.8 .4-7.1 .4 6.7 .5-6.4 .4 8.1 .4-7.6 .4 7.2 .4-7.6 .4 7.3 .4-7.9 .4 7.5 .4-8.4 .4 8.5 .5-8.1 .4 8.2 .4-7.7 .4 7.6 .4-8.1 .4 8.2 .4-8 .4 9 .4-7.7 .5 8.9 .4-8.2 .4 8.3 .4-8.3 .4 8.5 .4-8.5 .4 8.6 .4-7.3 .4 8.5 .4-7.8 .5 7.3 .4-8.9 .4 7.3 .4-7.8 .4 7.7 .4-8.3 .4 8.6 .4-8.4 .4 7.4 .5-8.5 .4 8.2 .4-8.8 .4 7.9 .4-8.2 .4 9.1 .4-7.6 .4 8.4 .4-8.8 .4 7.4 .5-8.9 .4 7.7 .4-8.5 .4 8.3 .4-7.5 .4 7.6 .4-9 .4 6.9 .4-8.3 .5 9.6 .4-9 .4 8.6 .4-7.4 .4 9.2 .4-7.6 .4 7.5 .4-8.8 .4 8.3 .4-7.8 .5 8.8 .4-7.9 .4 8.2 .4-7.3 .4 7.2 .4-8.4 .4 7 .4-6.7 .4 7.9 .5-7.2 .4 7 .4-7.9 .4 6.6 .4-9 .4 5.1 .4-9.5 .4 7.7 .4-9.8 .5 7.2 .4-10.7 .4 7.8 .4-9.7 .4 8 .4-11.1 .4 9.9 .4-8.8 .4 9.8 .4-9.3 .5 10.1 .4-9.5 .4 8.1 .4-9.9 .4 9.9 .4-7.6 .4 9 .4-7.8 .4 8.2 .5-7.9 .4 8 .4-8.8 .4 7.9 .4-7.3 .4 8.9 .4-7.8 .4 8.6 .4-7.9 .4 7.5 .5-7.7 .4 8.3 .4-8.1 .4 8.6 .4-7.1 .4 8.3 .4-8.2 .4 7.8 .4-7.8 .5 6.2 .4-9.3 .4 8.4 .4-8.9 .4 7.9 .4-9.7 .4 6.7 .4-11.5 .4 7.4 .4-11.7 .5 8.7 .4-9.6 .4 9.3 .4-9.6"/>
<path stroke="#ff0000" d="M41 237.8l.4-.2 .4-.3 .4-.3 .4-.2 .4-.2 .5-.2 .4-.1 .4-.2 .4-.1 .4 .4 .4 .5 .4 .6 .4 .5 .4 .5 .5 .4 .4-.4 .4-.7 .4-.7 .4-.8 .4-.4 .4 .4 .4 .4 .4 .5 .5 .5 .4 .3 .4-.7 .4-.8 .4-.7 .4-.6 .4-.4 .4-.4 .4-.2 .4-.1 .5-.1 .4-.2 .4-.1 .4-.1 .4-.2 .4-.1 .4-.1 .4 0 .4-.1 .5 0 .4 0 .4 0 .4 .1 .4 0 .4 .1 .4 0 .4 0 .4 0 .4 0 .5 0 .4-.1 .4-.1 .4 0 .4-.1 .4-.1 .4 0 .4 0 .4 0 .5 0 .4 0 .4 0 .4 0 .4 0 .4-.1 .4-.1 .4-.1 .4-.1 .4-.1 .5-.1 .4 0 .4-.1 .4-.1 .4-.1 .4 0 .4-.1 .4-.1 .4 0 .5-.1 .4-.1 .4 0 .4-.1 .4-.1 .4 0 .4 0 .4-.1 .4 0 .4 .1 .5 0 .4 0 .4 0 .4 0 .4 0 .4 .1 .4 0 .4 0 .4 0 .5 0 .4 0 .4 0 .4 0 .4 .1 .4 0 .4 0 .4 .1 .4 .1 .5 0 .4 .1 .4 0 .4 0 .4-.1 .4-.2 .4-.3 .4-.2 .4-.3 .4-.2 .5-.2 .4-.2 .4-.2 .4-.1 .4-.1 .4-.1 .4 0 .4-.1 .4 0 .5 0 .4-.1 .4 0 .4 0 .4 0 .4 0 .4 0 .4-.1 .4 0 .4 0 .5 0 .4 0 .4 .1 .4 0 .4 .1 .4 .1 .4 .1 .4 .1 .4 .2 .5 .1 .4-.1 .4-.1 .4-.4 .4-.4 .4-.4 .4-.4 .4-.2 .4-.2 .4-.1 .5-.1 .4-.1 .4-.1 .4-.2 .4-.2 .4-.2 .4-.1 .4-.2 .4-.1 .5-.2 .4-.2 .4-.3 .4-.2 .4-.2 .4-.2 .4-.1 .4-.2 .4-.1 .4-.1 .5-.1 .4-.2 .4-.2 .4-.3 .4-.3 .4-.3 .4-.4 .4-.4 .4-.5 .5-.5 .4-.5 .4-.6 .4-.5 .4-.5 .4-.6 .4-.5 .4-.5 .4-.5 .4-.4 .5-.3 .4-.2 .4-.2 .4 0 .4-.1 .4-.1 .4-.2 .4-.3 .4-.3 .5-.4 .4-.5 .4-.4 .4-.4 .4-.3 .4-.2 .4-.2 .4-.1 .4-.1 .5-.1 .4-.1 .4-.2 .4-.4 .4-.4 .4-.5 .4-.6 .4-.7 .4-.6 .4-.6 .5-.6 .4-.6 .4-.6 .4-.6 .4-.6 .4-.4 .4-.3 .4-.2 .4-.1 .5-.2 .4-.1 .4-.3 .4-.4 .4-.4 .4-.6 .4-.5 .4-.6 .4-.6 .4-.6 .5-.6 .4-.6 .4-.6 .4-.6 .4-.6 .4-.5 .4-.5 .4-.4 .4-.3 .5-.2 .4-.2 .4-.1 .4 0 .4 0 .4 .1 .4 .2 .4 .2 .4 .3 .4 .3 .5 .3 .4 .3 .4 .4 .4 .4 .4 .4 .4 .4 .4 .4 .4 .5 .4 .4 .5 .4 .4 .4 .4 .6 .4 .5 .4 .6 .4 .7 .4 .7 .4 .6 .4 .6 .4 .5 .5 .4 .4 .5 .4 .3 .4 .2 .4 0 .4 .2 .4-.3 .4 .1 .4-.4 .5 .7 .4-.2 .4 1 .4-.3 .4 1.1 .4-.8 .4 1.5 .4-1.3 .4 1.6 .4-.9 .5 2.4 .4-1.5 .4 2.1 .4-1.6 .4 2.1 .4-1.7 .4 2.2 .4-1.2 .4 2.3 .5-1.2 .4 1.7 .4-1.4 .4 2 .4-1.4 .4 1.7 .4-1.1 .4 1.7 .4-.7 .5 1.1 .4-1.6 .4 .8 .4-1.6 .4 1.1 .4-1.9 .4 .9 .4-1.9 .4 1.2 .4-2.5 .5 .5 .4-2.6 .4 .9 .4-2.6 .4 1 .4-2.9 .4 1.5 .4-3.3 .4 1.1 .5-3.5 .4 1.3 .4-3.3 .4 1.9 .4-3.5 .4 2.1 .4-3.5 .4 1.9 .4-3.8 .4 1.9 .5-3.5 .4 2.7 .4-3.5 .4 2.6 .4-3.4 .4 2.3 .4-3.9 .4 1.8 .4-4 .5 2.3 .4-4.1 .4 2.6 .4-4.2 .4 3.1 .4-4.1 .4 2.9 .4-4.1 .4 3.5 .4-3.2 .5 3.3 .4-3.2 .4 3.4 .4-3.5 .4 2.8 .4-3.7 .4 2.9 .4-3.2 .4 3.5 .5-3.6 .4 3.7 .4-3.3 .4 3.4 .4-3.7 .4 3.2 .4-3.1 .4 3.4 .4-3.7 .4 3 .5-3.8 .4 3.4 .4-4.1 .4 2.8 .4-3.3 .4 3.6 .4-3 .4 3.2 .4-4.1 .5 3 .4-4.3 .4 2.7 .4-4.6 .4 3.6 .4-3.7 .4 3.6 .4-4.3 .4 3 .5-4.6 .4 3.4 .4-5.6 .4 3.2 .4-3.8 .4 4.1 .4-4 .4 3.4 .4-5.4 .4 4.1 .5-4.7 .4 3.8 .4-5 .4 4.8 .4-4.4 .4 4.7 .4-4.7 .4 4.7 .4-3.7 .5 5.1 .4-4 .4 5.5 .4-2.3 .4 5.1 .4-4 .4 3.9 .4-3.3 .4 3.8 .4-3.4 .5 3.9 .4-2.9 .4 3.9 .4-3.8 .4 3.1 .4-4.1 .4 3.5 .4-3.8 .4 3.5 .5-4.1 .4 3.5 .4-4.2 .4 3 .4-4.6 .4 3.4 .4-4.5 .4 4.2 .4-4.2 .4 3.5 .5-3.7 .4 4 .4-5 .4 3.4 .4-5.1 .4 3.3 .4-4.7 .4 3.7 .4-4.8 .5 4.1 .4-5.3 .4 3.3 .4-5.1 .4 5.3 .4-4.6 .4 5.2 .4-3.7 .4 5.6 .4-3.4 .5 4.1 .4-4.1 .4 4.1 .4-3.2 .4 3.8 .4-4.3 .4 3.5 .4-5 .4 2.4 .5-7.2 .4 1.7 .4-6.9 .4 3.4 .4-7.5 .4 3.6 .4-6.6 .4 4.3 .4-7.5 .4 4.8 .5-6.3 .4 7.4 .4-5.6 .4 6.4 .4-7 .4 6.2 .4-7 .4 5.2 .4-7.8 .5 6.3 .4-6 .4 6.3 .4-7 .4 7.3 .4-7.3 .4 6.1 .4-8.1 .4 5.7 .5-5.7 .4 7.5 .4-6.9 .4 6.6 .4-6.5 .4 6.7 .4-7.2 .4 6.8 .4-5.7 .4 7.7 .5-5 .4 7.9 .4-5.7 .4 6.8 .4-5.4 .4 6 .4-5.9 .4 5.6 .4-5.5 .5 5.1 .4-6.1 .4 5.7 .4-5.3 .4 5.3 .4-5.8 .4 4.9 .4-5.3 .4 4.9 .4-7.9 .5 3 .4-9 .4 3.5 .4-9 .4 4.8 .4-7.1 .4 6.9 .4-8.5 .4 5.1 .5-8.9 .4 5.6 .4-8.5 .4 7.3 .4-8.6 .4 7.7 .4-7.8 .4 5.8 .4-9 .4 6.5 .5-7.9 .4 6 .4-7.3 .4 7 .4-6.9 .4 6.9 .4-8.8 .4 6.7 .4-8.3 .5 7.9 .4-6.5 .4 7.8 .4-5.5 .4 7.7 .4-7.7 .4 7 .4-7.9 .4 8.5 .4-6.4 .5 8.1 .4-6.3 .4 7.6 .4-5.6 .4 5.9 .4-7.7 .4 5.9 .4-6.3 .4 7.6 .5-7.1 .4 7.4 .4-7 .4 6.8 .4-8.9 .4 5.4 .4-8.3 .4 8.4 .4-8.3 .4 7.2 .5-7.6 .4 6.9 .4-7.7 .4 6 .4-8.5 .4 8.6 .4-5.9 .4 8.2 .4-7.7 .5 8.5 .4-6.9 .4 8.1 .4-8.1 .4 8.7 .4-5.8 .4 9 .4-6.8 .4 7.2 .5-6.5 .4 8 .4-7 .4 7.6 .4-6.3 .4 8.1 .4-6.3 .4 6.6 .4-6.3 .4 5.9 .5-7.4 .4 5.9 .4-8.1 .4 7.4 .4-6.8 .4 5.8 .4-8.1 .4 5.5 .4-10.1 .5 5 .4-8.1 .4 7.4 .4-7.2 .4 6.9 .4-10 .4 6.4 .4-8.5 .4 7.9 .4-9.3 .5 8.1 .4-7.4 .4 9.1 .4-7.8 .4 6.3 .4-8.9 .4 8.4 .4-8.1 .4 7.9 .5-7.9 .4 9.8 .4-9.4 .4 7.6 .4-10.5 .4 8.1 .4-8.7 .4 8.6 .4-9.9 .4 9.2 .5-8 .4 8.4 .4-11.1 .4 7.7 .4-9.3 .4 10.3 .4-9.2 .4 9.1 .4-9.1 .5 10.3 .4-8.9 .4 8.7 .4-9.3 .4 9.3 .4-9.6 .4 10.6 .4-6.4 .4 9.3 .4-8.8 .5 8.6 .4-10.1 .4 9.4 .4-8 .4 8.9 .4-8.5 .4 9.5 .4-7.9 .4 9.5 .5-9.2 .4 8.1 .4-7.9 .4 10.5 .4-8.8 .4 9.3 .4-6.4 .4 9.3 .4-7.3 .5 8.8 .4-7.4 .4 9.9 .4-6 .4 8.6 .4-6.8 .4 8.9 .4-5.9 .4 7.1 .4-6.6 .5 9.2 .4-5 .4 7.4 .4-5.8 .4 7.8 .4-5.8 .4 6.8 .4-6.3 .4 5.8 .5-5.2 .4 7.1 .4-6.5 .4 5.9 .4-6.6 .4 6.2 .4-7.1 .4 6.1 .4-7.1 .4 7.4 .5-6.9 .4 7 .4-6.7 .4 6.4 .4-6.9 .4 6.9 .4-6.8 .4 7.9 .4-6.2 .5 7.6 .4-7.1 .4 7 .4-7 .4 7.3 .4-7.2 .4 7.4 .4-6.1 .4 7.5 .4-6.7 .5 6 .4-7.9 .4 6 .4-6.6 .4 6.6 .4-7.2 .4 7.4 .4-7.2 .4 6.2 .5-7.6 .4 6.9 .4-7.7 .4 6.7 .4-6.9 .4 8.1 .4-6.1 .4 7.3 .4-7.7 .4 5.9 .5-7.7 .4 6.4 .4-7.5 .4 7.2 .4-6.2 .4 6.5 .4-8.2 .4 5.6 .4-7.2 .5 8.6 .4-7.6 .4 7.5 .4-5.8 .4 8.2 .4-6.2 .4 6 .4-7.8 .4 7.1 .4-6.4 .5 7.6 .4-6.6 .4 7.3 .4-6 .4 5.9 .4-7.5 .4 6 .4-5.3 .4 7 .5-6.2 .4 6.1 .4-6.7 .4 5.5 .4-8.2 .4 3.7 .4-8.5 .4 6.2 .4-8.9 .5 5.7 .4-9.6 .4 6.5 .4-8.7 .4 6.6 .4-9.7 .4 8.6 .4-7.3 .4 8.5 .4-7.8 .5 8.9 .4-8.1 .4 6.7 .4-8.8 .4 8.8 .4-6.2 .4 7.9 .4-6.5 .4 6.9 .5-6.6 .4 6.9 .4-7.8 .4 6.7 .4-5.9 .4 7.8 .4-6.5 .4 7.4 .4-6.8 .4 6.4 .5-6.5 .4 7.1 .4-6.9 .4 7.6 .4-5.8 .4 7.3 .4-7.1 .4 6.6 .4-6.7 .5 5.1 .4-8.4 .4 7.2 .4-7.6 .4 6.6 .4-8.7 .4 4.9 .4-10.5 .4 5.6 .4-10.9 .5 7.2 .4-8.3 .4 8.3 .4-8.1"/>
<path stroke="#00ffff" d="M41 237.1l.4-.3 .4-.3 .4-.3 .4-.3 .4-.2 .5-.2 .4-.2 .4-.2 .4-.1 .4 .4 .4 .6 .4 .6 .4 .6 .4 .6 .5 .4 .4-.5 .4-.7 .4-.8 .4-.9 .4-.4 .4 .4 .4 .5 .4 .5 .5 .6 .4 .3 .4-.8 .4-.9 .4-.8 .4-.6 .4-.6 .4-.3 .4-.3 .4-.2 .5-.2 .4-.2 .4-.2 .4-.2 .4-.1 .4-.2 .4-.1 .4-.1 .4 0 .5 0 .4 0 .4 .1 .4 .1 .4 0 .4 .1 .4 .1 .4 .1 .4 0 .4 0 .5-.1 .4-.1 .4-.1 .4-.1 .4-.1 .4-.1 .4 0 .4-.1 .4 .1 .5 0 .4 0 .4 .1 .4 0 .4-.1 .4-.1 .4-.1 .4-.1 .4-.2 .4-.1 .5 0 .4-.1 .4 0 .4-.1 .4-.1 .4-.1 .4 0 .4-.1 .4-.1 .5-.1 .4 0 .4-.1 .4-.1 .4-.1 .4 0 .4 0 .4-.1 .4 0 .4 .1 .5 0 .4 .1 .4 0 .4 0 .4 0 .4 0 .4 0 .4 0 .4 .1 .5 0 .4 0 .4 0 .4 0 .4 0 .4 0 .4 .1 .4 0 .4 .1 .5 .1 .4 .1 .4 0 .4 0 .4-.1 .4-.3 .4-.3 .4-.3 .4-.3 .4-.3 .5-.3 .4-.2 .4-.2 .4-.2 .4-.1 .4-.1 .4 0 .4 0 .4-.1 .5-.1 .4 0 .4 0 .4 0 .4-.1 .4 0 .4 0 .4-.1 .4 0 .4 0 .5 0 .4 0 .4 0 .4 .1 .4 0 .4 .1 .4 .2 .4 .1 .4 .3 .5 .2 .4 .1 .4-.3 .4-.5 .4-.6 .4-.6 .4-.5 .4-.3 .4-.1 .4-.1 .5-.1 .4-.1 .4-.2 .4-.2 .4-.3 .4-.2 .4-.2 .4-.2 .4-.1 .5-.3 .4-.3 .4-.2 .4-.3 .4-.3 .4-.3 .4-.1 .4-.1 .4-.2 .4-.1 .5-.1 .4-.2 .4-.3 .4-.3 .4-.4 .4-.4 .4-.4 .4-.6 .4-.6 .5-.6 .4-.7 .4-.7 .4-.7 .4-.7 .4-.6 .4-.6 .4-.7 .4-.6 .4-.5 .5-.4 .4-.2 .4-.1 .4 0 .4 .1 .4 0 .4-.2 .4-.3 .4-.5 .5-.6 .4-.5 .4-.6 .4-.4 .4-.3 .4-.3 .4-.2 .4 0 .4 0 .5 .1 .4-.1 .4-.2 .4-.3 .4-.6 .4-.6 .4-.8 .4-.7 .4-.7 .4-.8 .5-.7 .4-.7 .4-.7 .4-.7 .4-.7 .4-.5 .4-.3 .4-.1 .4-.1 .5 0 .4 0 .4-.2 .4-.4 .4-.6 .4-.7 .4-.6 .4-.7 .4-.8 .4-.6 .5-.7 .4-.7 .4-.8 .4-.8 .4-.6 .4-.6 .4-.6 .4-.4 .4-.3 .5-.2 .4-.2 .4-.2 .4 0 .4 .1 .4 .3 .4 .2 .4 .3 .4 .4 .4 .4 .5 .4 .4 .3 .4 .5 .4 .6 .4 .6 .4 .5 .4 .6 .4 .5 .4 .6 .5 .4 .4 .5 .4 .7 .4 .8 .4 .8 .4 .9 .4 .8 .4 1 .4 .4 .4 .8 .5 0 .4 1.4 .4-.3 .4 1.1 .4-.9 .4 1.1 .4-1.5 .4 1.2 .4-1.9 .5 2.3 .4-1.5 .4 2.8 .4-1.8 .4 3 .4-2.7 .4 3.3 .4-2.9 .4 2.9 .4-1.8 .5 3.6 .4-2.4 .4 2.9 .4-2.1 .4 2.6 .4-2 .4 2.7 .4-1.5 .4 2.8 .5-1.4 .4 2 .4-1.7 .4 2.4 .4-1.6 .4 2 .4-1.3 .4 2.2 .4-1 .5 1.5 .4-2 .4 1.1 .4-2 .4 1.5 .4-2.4 .4 1.2 .4-2.3 .4 1.5 .4-3 .5 .8 .4-3.2 .4 1.3 .4-3.2 .4 1.4 .4-3.4 .4 1.8 .4-3.8 .4 1.3 .5-4 .4 1.6 .4-3.8 .4 2.2 .4-4 .4 2.6 .4-4 .4 2.2 .4-4.4 .4 2.3 .5-4 .4 3.3 .4-4 .4 3.1 .4-3.8 .4 2.8 .4-4.5 .4 2.1 .4-4.6 .5 2.6 .4-4.6 .4 2.8 .4-4.8 .4 3.6 .4-4.7 .4 3.4 .4-4.6 .4 4.2 .4-3.5 .5 3.8 .4-3.4 .4 3.8 .4-4 .4 3.1 .4-4.2 .4 3.2 .4-3.5 .4 4 .5-4 .4 4.3 .4-3.7 .4 3.8 .4-4.1 .4 3.6 .4-3.3 .4 3.8 .4-4 .4 3.1 .5-4.2 .4 3.7 .4-4.6 .4 3.2 .4-3.6 .4 4.1 .4-3.1 .4 3.5 .4-4.5 .5 3.1 .4-4.6 .4 2.7 .4-5.1 .4 4 .4-3.9 .4 3.9 .4-4.6 .4 3.2 .5-5 .4 3.6 .4-6.2 .4 3.3 .4-3.9 .4 4.5 .4-4.3 .4 3.6 .4-5.8 .4 4.2 .5-5 .4 4 .4-5.3 .4 5 .4-4.6 .4 4.9 .4-4.9 .4 5 .4-3.8 .5 5.4 .4-4 .4 5.9 .4-2.1 .4 5.5 .4-4.1 .4 3.9 .4-3.5 .4 3.9 .4-3.4 .5 4.1 .4-2.8 .4 4 .4-3.8 .4 3 .4-4.3 .4 3.6 .4-3.9 .4 3.5 .5-4.2 .4 3.7 .4-4.4 .4 2.9 .4-4.8 .4 3.4 .4-4.5 .4 4.3 .4-4.1 .4 3.5 .5-3.5 .4 4 .4-5.1 .4 3.2 .4-5.2 .4 3.1 .4-4.7 .4 3.6 .4-4.8 .5 4 .4-5.4 .4 3 .4-5.3 .4 5.5 .4-4.4 .4 5.3 .4-3.3 .4 5.8 .4-3.1 .5 4 .4-3.9 .4 4 .4-2.9 .4 3.7 .4-4.2 .4 3.5 .4-4.8 .4 2 .5-7.5 .4 .9 .4-7.1 .4 2.9 .4-7.8 .4 3 .4-6.4 .4 4 .4-7.2 .4 4.2 .5-5.8 .4 7.4 .4-5 .4 6.2 .4-6.7 .4 5.7 .4-6.7 .4 4.6 .4-7.6 .5 5.9 .4-5.5 .4 5.9 .4-6.6 .4 6.9 .4-6.9 .4 5.5 .4-7.8 .4 5.1 .5-5.1 .4 7.2 .4-6.3 .4 6 .4-6 .4 6.1 .4-6.8 .4 6.3 .4-5.2 .4 7.5 .5-4.1 .4 7.6 .4-4.9 .4 6.4 .4-4.8 .4 5.5 .4-5.5 .4 5.1 .4-5.1 .5 4.7 .4-5.9 .4 5.2 .4-4.7 .4 5.1 .4-5 .4 4.7 .4-4.4 .4 4.3 .4-7.8 .5 1.6 .4-9.2 .4 2.6 .4-8.9 .4 4.4 .4-6.2 .4 6.7 .4-8 .4 4.3 .5-8.6 .4 4.9 .4-8 .4 6.7 .4-8 .4 7.3 .4-7 .4 4.9 .4-8.5 .4 5.7 .5-7.4 .4 5.4 .4-6.7 .4 6.5 .4-6.3 .4 6.2 .4-8.3 .4 5.9 .4-7.8 .5 7.4 .4-5.6 .4 7.4 .4-4.7 .4 7.2 .4-7.1 .4 6.3 .4-7.5 .4 8.1 .4-5.5 .5 7.5 .4-5.7 .4 7.3 .4-4.9 .4 5.2 .4-7.3 .4 5.2 .4-5.6 .4 7.2 .5-6.5 .4 6.8 .4-6.3 .4 6 .4-8.7 .4 4.4 .4-7.9 .4 8.1 .4-7.7 .4 6.6 .5-7.1 .4 6.2 .4-7.3 .4 5.1 .4-8.2 .4 8.3 .4-5 .4 7.7 .4-7.1 .5 8 .4-6.1 .4 7.3 .4-7.6 .4 8.3 .4-5 .4 8.6 .4-6.2 .4 6.5 .5-5.8 .4 7.6 .4-6.4 .4 7.1 .4-5.5 .4 7.8 .4-5.8 .4 6.1 .4-5.9 .4 5.4 .5-6.9 .4 5 .4-7.5 .4 6.9 .4-6.1 .4 5.2 .4-7.7 .4 4.4 .4-9.8 .5 3.9 .4-7.6 .4 6.9 .4-6.4 .4 6.2 .4-9.7 .4 5.5 .4-7.8 .4 7.3 .4-8.8 .5 7.4 .4-6.5 .4 8.6 .4-6.9 .4 5.4 .4-8.2 .4 7.6 .4-7.5 .4 7.4 .5-7.1 .4 9.2 .4-8.6 .4 6.4 .4-10.1 .4 7.2 .4-8 .4 8 .4-9.3 .4 8.4 .5-7.1 .4 7.7 .4-10.8 .4 6.6 .4-8.7 .4 9.8 .4-8.5 .4 8.3 .4-8.2 .5 9.8 .4-8.1 .4 7.6 .4-8.6 .4 8.6 .4-8.8 .4 10.2 .4-5.2 .4 8.7 .4-8.2 .5 7.6 .4-9.5 .4 8.7 .4-7.1 .4 8.2 .4-7.8 .4 8.7 .4-6.9 .4 8.8 .5-8.7 .4 7.2 .4-7.1 .4 10 .4-8 .4 8.6 .4-5.5 .4 9 .4-6.6 .5 8.1 .4-6.6 .4 9.5 .4-5.1 .4 7.9 .4-6.1 .4 8.5 .4-5.2 .4 6.3 .4-6 .5 8.9 .4-4.1 .4 7.1 .4-5.3 .4 7.3 .4-5.2 .4 6.4 .4-5.9 .4 5.2 .5-4.5 .4 6.8 .4-6.1 .4 5.2 .4-6.1 .4 5.6 .4-6.7 .4 5.2 .4-6.5 .4 6.9 .5-6.1 .4 6.3 .4-6.2 .4 5.7 .4-6.3 .4 6.1 .4-6.1 .4 7.5 .4-5.4 .5 7 .4-6.7 .4 6.4 .4-6.4 .4 6.6 .4-6.6 .4 6.9 .4-5.4 .4 7.1 .4-6.1 .5 5.2 .4-7.6 .4 5.3 .4-5.9 .4 5.9 .4-6.6 .4 7 .4-6.7 .4 5.5 .5-7.4 .4 6.3 .4-7.2 .4 6.1 .4-6.1 .4 7.7 .4-5.2 .4 7 .4-7.4 .4 5 .5-7.2 .4 5.6 .4-7 .4 6.8 .4-5.4 .4 5.8 .4-7.8 .4 4.7 .4-6.7 .5 8.3 .4-6.8 .4 7 .4-4.9 .4 7.9 .4-5.4 .4 5.1 .4-7.4 .4 6.5 .4-5.6 .5 7.1 .4-6 .4 6.9 .4-5.1 .4 5 .4-7.1 .4 5.6 .4-4.6 .4 6.7 .5-5.7 .4 5.7 .4-6 .4 5 .4-7.7 .4 2.8 .4-8.3 .4 5.3 .4-8.7 .5 4.7 .4-9.1 .4 5.9 .4-8.1 .4 5.8 .4-9.2 .4 8.1 .4-6.4 .4 7.9 .4-7 .5 8.4 .4-7.4 .4 5.8 .4-8.4 .4 8.3 .4-5.2 .4 7.5 .4-5.8 .4 6.2 .5-6 .4 6.4 .4-7.5 .4 6.2 .4-5.2 .4 7.4 .4-5.7 .4 6.8 .4-6.3 .4 5.9 .5-6.1 .4 6.5 .4-6.4 .4 7.3 .4-4.9 .4 6.8 .4-6.5 .4 5.9 .4-6 .5 4.3 .4-8.2 .4 6.6 .4-6.7 .4 5.9 .4-8.3 .4 3.7 .4-10.3 .4 4.6 .4-11 .5 6.5 .4-7.6 .4 7.9 .4-7.2"/>
<path stroke="#0000ff" d="M41 236.3l.4-.3 .4-.4 .4-.3 .4-.4 .4-.1 .5-.3 .4-.2 .4-.2 .4-.1 .4 .4 .4 .7 .4 .5 .4 .8 .4 .6 .5 .6 .4-.6 .4-.7 .4-1 .4-1 .4-.6 .4 .6 .4 .5 .4 .6 .5 .7 .4 .5 .4-.9 .4-.9 .4-1 .4-.7 .4-.7 .4-.4 .4-.5 .4-.2 .5-.3 .4-.2 .4-.5 .4-.3 .4-.4 .4 0 .4-.4 .4 0 .4-.2 .5 .3 .4 0 .4 .3 .4 .1 .4 .3 .4 .2 .4 .3 .4 .1 .4 .3 .4-.1 .5 0 .4-.3 .4-.1 .4-.3 .4-.1 .4-.3 .4 0 .4-.1 .4 .2 .5 0 .4 .3 .4 .1 .4 .1 .4-.1 .4-.2 .4-.3 .4-.2 .4-.3 .4-.1 .5-.1 .4 .1 .4-.2 .4 0 .4-.3 .4 .1 .4-.3 .4 0 .4-.3 .5 .1 .4-.1 .4 .1 .4-.2 .4 0 .4-.1 .4 .1 .4-.2 .4 .1 .4 0 .5 .2 .4-.1 .4 .1 .4-.1 .4 .1 .4 0 .4 .1 .4-.1 .4 .2 .5-.1 .4 .1 .4-.2 .4 .1 .4-.1 .4 .1 .4 0 .4 .2 .4 0 .5 .2 .4-.1 .4 .2 .4-.1 .4 .1 .4-.5 .4-.3 .4-.4 .4-.2 .4-.7 .5-.2 .4-.5 .4-.1 .4-.2 .4-.1 .4-.1 .4 .2 .4-.2 .4 0 .5-.4 .4 .2 .4-.2 .4 .1 .4-.3 .4 .2 .4-.1 .4 0 .4-.2 .4 0 .5 0 .4 .2 .4-.1 .4 .2 .4 0 .4 .3 .4 0 .4 .4 .4 .2 .5 .7 .4 .3 .4-.1 .4-1 .4-1 .4-1.2 .4-.6 .4-.5 .4 .2 .4-.1 .5 .2 .4-.4 .4-.1 .4-.6 .4-.2 .4-.5 .4 0 .4-.4 .4 .1 .5-.5 .4-.1 .4-.6 .4-.2 .4-.7 .4 0 .4-.4 .4 .2 .4-.2 .4 .1 .5-.5 .4 .1 .4-.8 .4-.2 .4-.6 .4-.2 .4-.7 .4-.5 .4-1.3 .5-.5 .4-1.2 .4-.7 .4-1.4 .4-.4 .4-1 .4-.3 .4-1.2 .4-.5 .4-1.1 .5 0 .4-.8 .4 .4 .4 0 .4 .8 .4-.1 .4 .1 .4-.9 .4-.3 .5-1.3 .4-.4 .4-1.1 .4 0 .4-.6 .4-.1 .4-.7 .4 .5 .4-.1 .5 .8 .4-.4 .4 .3 .4-.7 .4-.2 .4-1.4 .4-.5 .4-1.3 .4-.4 .4-1.2 .5-.3 .4-1.2 .4-.3 .4-1.7 .4-.7 .4-1.2 .4 .4 .4-.4 .4 .6 .5-.3 .4 .8 .4-.5 .4-.1 .4-1.6 .4-.3 .4-1.2 .4-.3 .4-1.4 .4-.2 .5-1 .4-.3 .4-1.8 .4-.7 .4-1.4 .4-.1 .4-1.2 .4 .1 .4-.8 .5 .6 .4-1 .4 .3 .4-.8 .4 1 .4-.1 .4 1 .4-.1 .4 1 .4 0 .5 .8 .4-.3 .4 1.1 .4 .5 .4 1.4 .4 .2 .4 1.5 .4 .2 .4 1.2 .5-.2 .4 1 .4 .2 .4 2.2 .4 0 .4 2.3 .4-.2 .4 2.6 .4-1 .4 2.2 .5-1.6 .4 3.6 .4-1.8 .4 3 .4-2.8 .4 3.1 .4-3.9 .4 3.1 .4-3.9 .5 4 .4-2.6 .4 4.2 .4-2.5 .4 3.7 .4-3.1 .4 3.7 .4-3.2 .4 3.2 .4-1.9 .5 4.1 .4-2.5 .4 3.1 .4-2.3 .4 3 .4-2.3 .4 3 .4-1.5 .4 3.2 .5-1.5 .4 2.2 .4-1.8 .4 2.7 .4-1.8 .4 2.3 .4-1.4 .4 2.5 .4-.9 .5 1.6 .4-2.1 .4 1.2 .4-2.2 .4 1.5 .4-2.6 .4 1.3 .4-2.5 .4 1.6 .4-3.2 .5 .7 .4-3.4 .4 1.3 .4-3.4 .4 1.4 .4-3.6 .4 1.9 .4-4.2 .4 1.3 .5-4.3 .4 1.6 .4-4.1 .4 2.4 .4-4.3 .4 2.8 .4-4.2 .4 2.3 .4-4.8 .4 2.3 .5-4.1 .4 3.6 .4-4.1 .4 3.2 .4-3.8 .4 3 .4-4.7 .4 2 .4-5 .5 2.6 .4-4.9 .4 2.9 .4-5.2 .4 3.7 .4-4.9 .4 3.5 .4-4.7 .4 4.5 .4-3.4 .5 4.2 .4-3.5 .4 4 .4-4.1 .4 2.9 .4-4.4 .4 3.2 .4-3.4 .4 4.2 .5-4 .4 4.4 .4-3.6 .4 3.9 .4-4.1 .4 3.6 .4-3.2 .4 3.9 .4-4.1 .4 3 .5-4.4 .4 3.7 .4-4.6 .4 3 .4-3.5 .4 4.3 .4-2.8 .4 3.4 .4-4.4 .5 2.9 .4-4.8 .4 2.5 .4-5.2 .4 3.9 .4-3.7 .4 3.8 .4-4.4 .4 2.9 .5-4.9 .4 3.4 .4-6.4 .4 3 .4-3.6 .4 4.4 .4-4.1 .4 3.4 .4-5.9 .4 4.1 .5-4.9 .4 3.5 .4-5.1 .4 4.8 .4-4.3 .4 4.6 .4-4.8 .4 5 .4-3.4 .5 5.4 .4-3.7 .4 6 .4-1.4 .4 5.5 .4-3.9 .4 3.5 .4-3.2 .4 3.6 .4-3.2 .5 3.9 .4-2.4 .4 4 .4-3.5 .4 2.7 .4-4.3 .4 3.2 .4-3.6 .4 3.2 .5-3.8 .4 3.5 .4-4.2 .4 2.4 .4-4.7 .4 3 .4-4 .4 4.1 .4-3.8 .4 3.2 .5-2.9 .4 3.7 .4-4.8 .4 2.6 .4-4.8 .4 2.5 .4-4.5 .4 3.1 .4-4.3 .5 3.6 .4-5.3 .4 2.3 .4-5.1 .4 5.3 .4-3.7 .4 5.1 .4-2.6 .4 5.6 .4-2.4 .5 3.7 .4-3.4 .4 3.5 .4-2.3 .4 3.3 .4-3.7 .4 3.1 .4-4.2 .4 1.2 .5-7.3 .4-.3 .4-6.9 .4 1.8 .4-7.9 .4 2.1 .4-5.7 .4 3.5 .4-6.6 .4 3.1 .5-4.8 .4 7 .4-3.8 .4 5.6 .4-6 .4 4.7 .4-5.9 .4 3.4 .4-7 .5 5.3 .4-4.6 .4 5.1 .4-5.6 .4 6 .4-6 .4 4.4 .4-7.2 .4 4.1 .5-3.9 .4 6.4 .4-5.2 .4 4.8 .4-5.1 .4 5.1 .4-5.9 .4 5.1 .4-4 .4 6.9 .5-2.8 .4 7 .4-3.9 .4 5.7 .4-3.7 .4 4.5 .4-4.8 .4 4.2 .4-4.2 .5 3.7 .4-5.3 .4 4.4 .4-3.9 .4 4.6 .4-3.9 .4 4.5 .4-3 .4 3.6 .4-7.5 .5-.7 .4-9.2 .4 1.2 .4-8.1 .4 3.8 .4-4.9 .4 6.2 .4-6.9 .4 2.8 .5-7.9 .4 3.7 .4-7 .4 5.5 .4-6.7 .4 6.4 .4-5.5 .4 3.5 .4-7.7 .4 4.3 .5-6.3 .4 4.3 .4-5.5 .4 5.4 .4-5 .4 4.9 .4-7.4 .4 4.5 .4-6.7 .5 6.3 .4-4.2 .4 6.6 .4-3.3 .4 6.2 .4-6 .4 4.9 .4-6.5 .4 7 .4-3.9 .5 6.4 .4-4.5 .4 6.5 .4-3.7 .4 3.9 .4-6.5 .4 4 .4-4.3 .4 6.4 .5-5.5 .4 5.6 .4-4.9 .4 4.6 .4-8.1 .4 2.9 .4-7 .4 7.3 .4-6.4 .4 5.4 .5-6 .4 4.9 .4-6.3 .4 3.5 .4-7.4 .4 7.5 .4-3.5 .4 6.7 .4-5.9 .5 6.9 .4-4.7 .4 6 .4-6.8 .4 7.4 .4-3.6 .4 7.8 .4-5.1 .4 5.3 .5-4.7 .4 6.6 .4-5.4 .4 6.1 .4-4.2 .4 7.1 .4-4.7 .4 5 .4-5 .4 4.4 .5-6 .4 3.7 .4-6.5 .4 6.1 .4-4.8 .4 4.1 .4-6.9 .4 2.7 .4-8.9 .5 2.2 .4-6.6 .4 6 .4-5 .4 4.9 .4-8.8 .4 4 .4-6.5 .4 6.1 .4-7.8 .5 6.1 .4-5 .4 7.7 .4-5.3 .4 3.8 .4-7 .4 6.2 .4-6.2 .4 6.2 .5-5.5 .4 8.1 .4-7.4 .4 4.7 .4-9.3 .4 5.6 .4-6.5 .4 6.7 .4-8.1 .4 7.1 .5-5.6 .4 6.4 .4-10 .4 4.7 .4-7.4 .4 8.9 .4-7.2 .4 6.8 .4-6.8 .5 8.8 .4-6.7 .4 6 .4-7.2 .4 7.2 .4-7.4 .4 9.3 .4-3.5 .4 7.7 .4-7 .5 5.8 .4-8.3 .4 7.4 .4-5.7 .4 7 .4-6.5 .4 7.2 .4-5.2 .4 7.5 .5-7.8 .4 5.7 .4-5.7 .4 9.1 .4-6.7 .4 7.3 .4-3.9 .4 7.9 .4-5.2 .5 6.7 .4-5.2 .4 8.6 .4-3.7 .4 6.7 .4-4.9 .4 7.7 .4-4.2 .4 5.1 .4-5.1 .5 8.2 .4-2.6 .4 6.3 .4-4.3 .4 6.3 .4-4.2 .4 5.6 .4-5.2 .4 4.3 .5-3.3 .4 6 .4-5.1 .4 3.9 .4-5.1 .4 4.5 .4-6 .4 4 .4-5.5 .4 6 .5-4.9 .4 5.2 .4-5.2 .4 4.6 .4-5.3 .4 4.8 .4-5 .4 6.7 .4-4.1 .5 5.9 .4-5.9 .4 5.2 .4-5.3 .4 5.6 .4-5.5 .4 5.8 .4-4 .4 6.1 .4-5.1 .5 3.9 .4-6.7 .4 4.1 .4-4.8 .4 4.9 .4-5.7 .4 6.1 .4-5.5 .4 4.3 .5-6.7 .4 5 .4-6.2 .4 5 .4-4.8 .4 6.9 .4-3.8 .4 6.2 .4-6.6 .4 3.6 .5-6.3 .4 4.3 .4-6 .4 5.8 .4-4 .4 4.8 .4-7.2 .4 3.4 .4-5.8 .5 7.6 .4-5.5 .4 6.2 .4-3.4 .4 7.1 .4-4 .4 3.5 .4-6.6 .4 5.2 .4-4.1 .5 6 .4-4.8 .4 6.1 .4-4 .4 3.8 .4-6.5 .4 4.8 .4-3.2 .4 5.8 .5-4.8 .4 4.9 .4-4.9 .4 4.2 .4-6.6 .4 1.5 .4-7.5 .4 3.7 .4-8.2 .5 3.1 .4-7.9 .4 5 .4-7.1 .4 4.3 .4-8.1 .4 7 .4-4.9 .4 6.8 .4-5.6 .5 7.3 .4-6.1 .4 4.4 .4-7.8 .4 7.5 .4-3.8 .4 6.7 .4-4.7 .4 5.1 .5-4.9 .4 5.3 .4-6.7 .4 5.2 .4-3.9 .4 6.6 .4-4.5 .4 5.7 .4-5.4 .4 4.9 .5-5.1 .4 5.2 .4-5.4 .4 6.5 .4-3.5 .4 5.9 .4-5.5 .4 4.9 .4-5 .5 3.1 .4-7.6 .4 5.6 .4-5.4 .4 4.9 .4-7.2 .4 2 .4-9.7 .4 2.8 .4-10.5 .5 5.1 .4-6.2 .4 7.2 .4-5.5"/>
<path stroke="#ff00ff" d="M41 235.5l.4-.1 .4-.7 .4-.1 .4-.7 .4 .1 .5-.6 .4 .1 .4-.5 .4 .1 .4 .2 .4 .9 .4 .4 .4 1.1 .4 .4 .5 .9 .4-.8 .4-.6 .4-1.4 .4-.8 .4-1 .4 1 .4 .3 .4 1 .5 .5 .4 .9 .4-1 .4-.9 .4-1.4 .4-.5 .4-1.1 .4-.2 .4-1 .4 .2 .5-.8 .4 0 .4-1.3 .4 0 .4-1.2 .4 .7 .4-1.1 .4 .6 .4-1 .5 1.1 .4-.5 .4 1.1 .4-.4 .4 1.2 .4 0 .4 .8 .4-.1 .4 .9 .4-.3 .5 .1 .4-.7 .4 .1 .4-.8 .4 .1 .4-.8 .4 .4 .4-.5 .4 .7 .5-.2 .4 .9 .4 0 .4 .5 .4-.5 .4-.1 .4-.9 .4 .2 .4-1 .4 .3 .5-.6 .4 .6 .4-.7 .4 .4 .4-.9 .4 .6 .4-.9 .4 .4 .4-1.1 .5 .8 .4-.8 .4 .8 .4-1 .4 .6 .4-.9 .4 .8 .4-1 .4 .9 .4-.5 .5 1.1 .4-.8 .4 .7 .4-.7 .4 .9 .4-.5 .4 .6 .4-.6 .4 1 .5-.6 .4 .6 .4-.6 .4 .6 .4-.5 .4 .6 .4-.4 .4 .7 .4 .1 .5 .5 .4-.2 .4 .6 .4 .2 .4 .2 .4-1 .4-.6 .4-1.1 .4-.1 .4-1.5 .5-.1 .4-1.4 .4 .5 .4-1.2 .4 .7 .4-.8 .4 1.1 .4-.8 .4 .6 .5-1.3 .4 1.1 .4-.9 .4 .9 .4-1.1 .4 1.2 .4-.8 .4 .7 .4-.9 .4 .7 .5-.5 .4 1 .4-.6 .4 .9 .4-.3 .4 .9 .4-.3 .4 .9 .4 .2 .5 1.5 .4 1 .4 .4 .4-2.3 .4-2 .4-2.6 .4-.4 .4-1.1 .4 1.3 .4-.3 .5 .8 .4-1.2 .4 .5 .4-1.5 .4 .2 .4-1.5 .4 .8 .4-1 .4 1 .5-1.4 .4 .5 .4-1.5 .4 .6 .4-1.9 .4 .9 .4-1.2 .4 1.3 .4-1.1 .4 1 .5-1.4 .4 1 .4-2 .4 .5 .4-1.7 .4 1 .4-1.7 .4 .3 .4-3.1 .5 .4 .4-3.1 .4 .6 .4-3.5 .4 1.2 .4-2.9 .4 1.7 .4-3.4 .4 1.2 .4-3.4 .5 1.8 .4-3 .4 2.7 .4-1.4 .4 3.2 .4-1.3 .4 1.5 .4-2.8 .4 1.1 .5-3.6 .4 1.1 .4-3.2 .4 2.2 .4-2.6 .4 1.7 .4-3 .4 2.8 .4-1.9 .5 3.3 .4-2.1 .4 2.3 .4-2.5 .4 1.6 .4-3.8 .4 1.1 .4-3.2 .4 1.6 .4-3.6 .5 2 .4-3.3 .4 1.7 .4-4.7 .4 .9 .4-3.8 .4 3 .4-2.3 .4 3.2 .5-2.4 .4 3.6 .4-2.4 .4 1.8 .4-4.6 .4 1.7 .4-3.6 .4 2 .4-4.1 .4 2.5 .5-3.4 .4 2.2 .4-5 .4 1.2 .4-4.5 .4 2.8 .4-4.1 .4 2.9 .4-3.6 .5 4 .4-4.5 .4 3.1 .4-4.1 .4 4.6 .4-2.8 .4 4 .4-2.6 .4 3.9 .4-2.7 .5 3.4 .4-3.2 .4 3.8 .4-1.7 .4 4.5 .4-2.1 .4 4.5 .4-1.9 .4 3.7 .5-2.9 .4 3.3 .4-1.8 .4 5.2 .4-2 .4 4.9 .4-2.3 .4 5.2 .4-3.1 .4 4.3 .5-3.4 .4 5.5 .4-2.8 .4 4 .4-3.4 .4 3.4 .4-4.3 .4 2.9 .4-4.2 .5 4.3 .4-2.4 .4 4.6 .4-2.3 .4 3.8 .4-3.1 .4 3.9 .4-3.5 .4 3.4 .4-1.7 .5 4.5 .4-2.5 .4 3.1 .4-2.3 .4 3.1 .4-2.2 .4 3.2 .4-1.4 .4 3.5 .5-1.4 .4 2.2 .4-1.9 .4 2.8 .4-1.7 .4 2.5 .4-1.3 .4 2.6 .4-.7 .5 1.6 .4-2.1 .4 1.2 .4-2.3 .4 1.4 .4-2.7 .4 1.2 .4-2.4 .4 1.6 .4-3.4 .5 .5 .4-3.6 .4 1.1 .4-3.4 .4 1.3 .4-3.8 .4 1.9 .4-4.4 .4 1.2 .5-4.7 .4 1.6 .4-4.4 .4 2.5 .4-4.5 .4 3 .4-4.4 .4 2.4 .4-5.3 .4 2.3 .5-4.2 .4 3.9 .4-4.2 .4 3.4 .4-3.8 .4 3.3 .4-5.1 .4 1.8 .4-5.4 .5 2.7 .4-5.2 .4 2.9 .4-5.6 .4 3.9 .4-5.1 .4 3.6 .4-4.9 .4 5 .4-3.3 .5 4.5 .4-3.5 .4 4.2 .4-4.4 .4 2.9 .4-4.7 .4 3.3 .4-3.5 .4 4.6 .5-4.1 .4 4.7 .4-3.6 .4 4 .4-4.3 .4 3.8 .4-3.1 .4 4.1 .4-4.2 .4 2.9 .5-4.7 .4 3.8 .4-4.9 .4 3.1 .4-3.6 .4 4.8 .4-2.7 .4 3.7 .4-4.8 .5 2.8 .4-5.1 .4 2.3 .4-5.5 .4 4.2 .4-3.6 .4 4 .4-4.5 .4 2.8 .5-5.1 .4 3.4 .4-7 .4 3 .4-3.6 .4 4.8 .4-4.1 .4 3.4 .4-6.3 .4 4.2 .5-5.2 .4 3.5 .4-5.4 .4 5.1 .4-4.5 .4 4.6 .4-4.9 .4 5.4 .4-3.4 .5 5.7 .4-3.7 .4 6.5 .4-.9 .4 6 .4-4.2 .4 3.4 .4-3.4 .4 3.8 .4-3.3 .5 4 .4-2.3 .4 4.2 .4-3.5 .4 2.7 .4-4.8 .4 3.4 .4-3.8 .4 3.4 .5-3.9 .4 3.8 .4-4.3 .4 2.2 .4-5 .4 3 .4-4 .4 4.4 .4-3.8 .4 3.2 .5-2.7 .4 3.9 .4-5.1 .4 2.5 .4-5 .4 2.4 .4-4.7 .4 3.2 .4-4.4 .5 3.9 .4-5.8 .4 1.9 .4-5.6 .4 5.8 .4-3.4 .4 5.4 .4-2.4 .4 6.1 .4-2.3 .5 3.8 .4-3.4 .4 3.6 .4-2.2 .4 3.3 .4-3.7 .4 3.4 .4-4.1 .4 1 .5-7.9 .4-1 .4-7.2 .4 1.3 .4-8.6 .4 1.5 .4-5.5 .4 3.8 .4-6.7 .4 2.8 .5-4.6 .4 7.5 .4-3.4 .4 5.8 .4-6 .4 4.6 .4-6.2 .4 3.1 .4-7.5 .5 5.6 .4-4.3 .4 5.1 .4-5.6 .4 6.2 .4-6 .4 4.2 .4-7.6 .4 3.8 .5-3.6 .4 6.9 .4-5.2 .4 4.6 .4-5.1 .4 5.1 .4-6.2 .4 4.9 .4-4 .4 7.4 .5-2.3 .4 7.3 .4-3.7 .4 6.1 .4-3.7 .4 4.3 .4-5.1 .4 4.2 .4-4 .5 3.7 .4-5.6 .4 4.2 .4-3.9 .4 4.6 .4-3.5 .4 5.3 .4-2 .4 4 .4-8.5 .5-2.4 .4-10.4 .4 .9 .4-8.1 .4 4.3 .4-4.5 .4 6.7 .4-7 .4 2.5 .5-8.3 .4 3.6 .4-7.3 .4 5.6 .4-6.7 .4 7 .4-5.1 .4 3 .4-7.9 .4 3.9 .5-6.3 .4 4.2 .4-5.4 .4 5.5 .4-4.9 .4 4.7 .4-7.8 .4 4.2 .4-6.8 .5 6.6 .4-4 .4 6.9 .4-2.8 .4 6.4 .4-6.1 .4 4.6 .4-6.8 .4 7.2 .4-3.5 .5 6.5 .4-4.4 .4 6.7 .4-3.3 .4 3.5 .4-7 .4 3.8 .4-4.1 .4 6.9 .5-5.6 .4 5.6 .4-4.8 .4 4.5 .4-8.7 .4 2.3 .4-7.2 .4 8 .4-6.5 .4 5.5 .5-6.1 .4 4.9 .4-6.5 .4 3 .4-7.9 .4 7.9 .4-2.8 .4 6.9 .4-6.1 .5 7.1 .4-4.6 .4 5.8 .4-7.2 .4 7.6 .4-3.2 .4 8.1 .4-5.1 .4 5 .5-4.7 .4 6.8 .4-5.5 .4 6.2 .4-3.9 .4 7.5 .4-4.7 .4 5 .4-5.2 .4 4.5 .5-6.2 .4 3.3 .4-6.6 .4 6.6 .4-4.6 .4 4 .4-7.2 .4 2.2 .4-9.4 .5 1.7 .4-6.7 .4 6.4 .4-4.7 .4 4.7 .4-9.2 .4 3.6 .4-6.4 .4 6.3 .4-8.1 .5 6.1 .4-4.6 .4 8.1 .4-5 .4 3.4 .4-7.1 .4 6.2 .4-6.3 .4 6.4 .5-5.3 .4 8.6 .4-7.6 .4 4.2 .4-10 .4 5.3 .4-6.4 .4 6.9 .4-8.5 .4 7.3 .5-5.4 .4 6.5 .4-10.8 .4 4.1 .4-7.5 .4 9.5 .4-7.3 .4 6.8 .4-6.7 .5 9.2 .4-6.6 .4 5.7 .4-7.3 .4 7.1 .4-7.5 .4 9.9 .4-2.7 .4 7.9 .4-7.2 .5 5.3 .4-8.5 .4 7.3 .4-5.5 .4 7.2 .4-6.7 .4 7.2 .4-4.9 .4 7.6 .5-8.3 .4 5.5 .4-5.6 .4 9.6 .4-7 .4 7.4 .4-3.5 .4 8.3 .4-5.2 .5 6.5 .4-5.1 .4 9 .4-3.4 .4 6.7 .4-4.9 .4 7.9 .4-4.1 .4 4.8 .4-5.5 .5 8.8 .4-2.2 .4 6.6 .4-4.4 .4 6.3 .4-4.1 .4 5.6 .4-5.5 .4 4.4 .5-2.9 .4 6.2 .4-5.3 .4 3.7 .4-5.1 .4 4.6 .4-6.3 .4 3.7 .4-5.4 .4 6.1 .5-4.7 .4 5.2 .4-5.3 .4 4.4 .4-5.4 .4 4.6 .4-5.1 .4 7.1 .4-3.9 .5 6 .4-6.2 .4 5.1 .4-5.3 .4 5.5 .4-5.4 .4 5.9 .4-3.8 .4 6.4 .4-5.2 .5 3.6 .4-7 .4 3.8 .4-4.6 .4 4.8 .4-5.6 .4 6.4 .4-5.6 .4 4.2 .5-7.2 .4 5 .4-6.4 .4 4.9 .4-4.7 .4 7.4 .4-3.4 .4 6.6 .4-7 .4 3.1 .5-6.5 .4 4.1 .4-6.3 .4 6.2 .4-3.6 .4 4.9 .4-7.7 .4 2.9 .4-5.9 .5 8.1 .4-5.3 .4 6.4 .4-2.7 .4 7.5 .4-3.7 .4 2.9 .4-7.1 .4 5.1 .4-3.8 .5 6.1 .4-4.8 .4 6.4 .4-3.8 .4 3.3 .4-6.9 .4 5 .4-2.8 .4 6.2 .5-5 .4 5 .4-4.7 .4 4.4 .4-6.4 .4 1.4 .4-7.9 .4 3.1 .4-8.9 .5 2.6 .4-7.7 .4 5.4 .4-7.3 .4 4 .4-8.5 .4 7.1 .4-4.6 .4 7 .4-5.5 .5 7.6 .4-6.2 .4 4 .4-8.3 .4 7.9 .4-3.4 .4 7.1 .4-4.7 .4 5 .5-4.9 .4 5.4 .4-7.2 .4 5.2 .4-3.6 .4 6.9 .4-4.2 .4 5.6 .4-5.5 .4 4.9 .5-5.2 .4 5.1 .4-5.6 .4 6.8 .4-3.1 .4 6 .4-5.6 .4 4.9 .4-4.8 .5 2.7 .4-8.4 .4 5.8 .4-5.1 .4 5.3 .4-7.3 .4 1.4 .4-10.3 .4 2.2 .4-11.6 .5 5.1 .4-5.8 .4 7.8 .4-4.9"/>
<path stroke="#00ff00" d="M41 234.7l.4 .1 .4-1.1 .4 .2 .4-1.1 .4 .4 .5-1 .4 .5 .4-.9 .4 .5 .4-.2 .4 1.3 .4 0 .4 1.6 .4 .1 .5 1.3 .4-1.1 .4-.2 .4-1.9 .4-.6 .4-1.5 .4 1.4 .4 .1 .4 1.4 .5 .3 .4 1.4 .4-1.4 .4-.6 .4-1.9 .4-.2 .4-1.7 .4 .1 .4-1.6 .4 .7 .5-1.5 .4 .5 .4-2.3 .4 .5 .4-2.3 .4 1.7 .4-2.3 .4 1.6 .4-2.3 .5 2.5 .4-1.3 .4 2.1 .4-1 .4 2.2 .4-.4 .4 1.6 .4-.4 .4 1.6 .4-.5 .5 .3 .4-1.3 .4 .3 .4-1.4 .4 .6 .4-1.6 .4 .8 .4-1 .4 1.5 .5-.6 .4 1.8 .4-.1 .4 .9 .4-1 .4-.1 .4-1.4 .4 .5 .4-1.7 .4 .7 .5-1.2 .4 1.3 .4-1.4 .4 1 .4-1.8 .4 1.3 .4-1.8 .4 1.3 .4-2.3 .5 1.7 .4-1.8 .4 1.8 .4-2 .4 1.4 .4-2.1 .4 1.9 .4-2.2 .4 2.1 .4-1.6 .5 2.4 .4-1.7 .4 1.8 .4-1.7 .4 2 .4-1.4 .4 1.6 .4-1.3 .4 2 .5-1.3 .4 1.4 .4-1.2 .4 1.1 .4-.9 .4 1.2 .4-.7 .4 1.3 .4-.1 .5 .9 .4-.3 .4 1.1 .4 .5 .4 .6 .4-1.9 .4-.8 .4-2.2 .4 .4 .4-2.8 .5 .5 .4-2.9 .4 1.4 .4-2.6 .4 2 .4-1.9 .4 2.5 .4-1.9 .4 1.7 .5-2.6 .4 2.4 .4-1.9 .4 2.1 .4-2.3 .4 2.4 .4-1.5 .4 1.5 .4-1.8 .4 1.7 .5-1.1 .4 1.8 .4-1.1 .4 1.8 .4-.8 .4 1.6 .4-.7 .4 1.5 .4 .2 .5 2.2 .4 1.7 .4 2 .4-4.7 .4-3.2 .4-3.9 .4-.2 .4-1.6 .4 2.6 .4-.7 .5 1.7 .4-2.2 .4 1.2 .4-2.8 .4 .9 .4-2.6 .4 1.8 .4-2 .4 2.3 .5-2.5 .4 1.3 .4-2.8 .4 1.8 .4-3.5 .4 2.1 .4-2.3 .4 2.7 .4-2.2 .4 2.2 .5-2.6 .4 2.3 .4-3.7 .4 1.6 .4-3.1 .4 2.4 .4-3 .4 1.5 .4-5.5 .5 2 .4-5.6 .4 2.4 .4-6.4 .4 3.5 .4-5.6 .4 4.5 .4-6.3 .4 3.7 .4-6.8 .5 4.5 .4-5.9 .4 5.8 .4-3.6 .4 6.4 .4-3.1 .4 3.8 .4-5.7 .4 3.2 .5-6.7 .4 3.6 .4-6.3 .4 5.4 .4-5.7 .4 4.5 .4-6.2 .4 6.1 .4-4.6 .5 6.6 .4-4.6 .4 5.2 .4-5.2 .4 4.4 .4-7.2 .4 3.6 .4-5.9 .4 4.4 .4-6.9 .5 5.2 .4-6.4 .4 4.7 .4-8.6 .4 3.4 .4-7.5 .4 6.6 .4-5.1 .4 6.8 .5-5.5 .4 7.5 .4-5.3 .4 4.7 .4-8.9 .4 5 .4-7.2 .4 5.4 .4-7.8 .4 6.3 .5-7 .4 5.9 .4-9.6 .4 4.2 .4-8.7 .4 6.8 .4-8.3 .4 7.1 .4-7.8 .5 8.8 .4-9.4 .4 7.3 .4-8.9 .4 9.6 .4-6.8 .4 8.4 .4-6.3 .4 8.1 .4-6.9 .5 7.5 .4-7.5 .4 7.8 .4-5.1 .4 8.8 .4-5.4 .4 8.6 .4-5 .4 7.3 .5-6.7 .4 6.4 .4-4 .4 7.8 .4-3.3 .4 6.5 .4-2.8 .4 5.9 .4-3.1 .4 4.4 .5-3.4 .4 5.9 .4-2.6 .4 4.1 .4-3.3 .4 3.2 .4-4.4 .4 2.5 .4-4.4 .5 4.5 .4-1.9 .4 4.9 .4-2.2 .4 3.9 .4-3 .4 3.8 .4-3.4 .4 3.3 .4-1.3 .5 4.8 .4-2.4 .4 2.9 .4-2.1 .4 3.2 .4-2.1 .4 3.1 .4-1 .4 3.6 .5-1.1 .4 2 .4-1.7 .4 2.7 .4-1.5 .4 2.5 .4-1.1 .4 2.7 .4-.4 .5 1.5 .4-2.1 .4 1.2 .4-2.3 .4 1.2 .4-2.8 .4 1.1 .4-2.3 .4 1.5 .4-3.4 .5 .1 .4-3.6 .4 .9 .4-3.5 .4 1.1 .4-3.8 .4 1.8 .4-4.5 .4 .8 .5-4.9 .4 1.4 .4-4.5 .4 2.5 .4-4.5 .4 3 .4-4.3 .4 2.2 .4-5.6 .4 2 .5-4 .4 4.1 .4-4.2 .4 3.4 .4-3.7 .4 3.4 .4-5.2 .4 1.4 .4-5.6 .5 2.4 .4-5.1 .4 2.8 .4-5.8 .4 3.7 .4-5.1 .4 3.6 .4-4.9 .4 5.1 .4-3 .5 4.7 .4-3.3 .4 4.2 .4-4.5 .4 2.8 .4-4.8 .4 3.1 .4-3.3 .4 4.7 .5-3.9 .4 4.8 .4-3.5 .4 4.1 .4-4.4 .4 3.7 .4-2.7 .4 4.2 .4-4.3 .4 2.6 .5-4.8 .4 3.7 .4-4.9 .4 2.9 .4-3.4 .4 4.9 .4-2.2 .4 3.7 .4-5 .5 2.6 .4-5.2 .4 1.9 .4-5.5 .4 4.1 .4-3.2 .4 4 .4-4.3 .4 2.4 .5-5.1 .4 3.3 .4-7.4 .4 2.7 .4-3.3 .4 5 .4-4 .4 3.2 .4-6.5 .4 4.1 .5-5.2 .4 3.2 .4-5.4 .4 5.2 .4-4.4 .4 4.2 .4-4.8 .4 5.6 .4-3.1 .5 5.6 .4-3.5 .4 6.9 .4-.2 .4 6.3 .4-4.2 .4 3 .4-3.3 .4 3.6 .4-3.2 .5 3.9 .4-2 .4 4.4 .4-3.4 .4 2.6 .4-5.2 .4 3.2 .4-3.6 .4 3.4 .5-3.7 .4 3.9 .4-4.2 .4 1.8 .4-5.2 .4 2.8 .4-3.6 .4 4.4 .4-3.7 .4 3.1 .5-2.3 .4 3.9 .4-5.2 .4 2.3 .4-5.1 .4 2 .4-4.6 .4 2.9 .4-4.1 .5 3.9 .4-5.9 .4 1.2 .4-5.9 .4 6.2 .4-3 .4 5.5 .4-2 .4 6.3 .4-2 .5 3.8 .4-3.2 .4 3.4 .4-2 .4 3.4 .4-3.8 .4 3.6 .4-3.8 .4 .5 .5-8.4 .4-1.7 .4-7.4 .4 1 .4-9.1 .4 .6 .4-4.9 .4 3.9 .4-6.6 .4 1.9 .5-4.2 .4 7.8 .4-2.7 .4 5.8 .4-5.8 .4 4.3 .4-6.2 .4 2.5 .4-7.6 .5 5.6 .4-3.8 .4 5 .4-5.3 .4 6.1 .4-5.8 .4 3.7 .4-7.7 .4 3.2 .5-3 .4 7 .4-4.8 .4 4.2 .4-4.9 .4 4.8 .4-6 .4 4.1 .4-3.5 .4 7.7 .5-1.7 .4 7.3 .4-3.4 .4 6.2 .4-3.4 .4 3.8 .4-5.1 .4 4.1 .4-3.7 .5 3.5 .4-5.6 .4 3.9 .4-3.8 .4 4.5 .4-3.3 .4 5.7 .4-.7 .4 4.4 .4-9.5 .5-3.9 .4-11.4 .4 .6 .4-7.8 .4 4.3 .4-3.9 .4 7 .4-6.9 .4 1.9 .5-8.5 .4 3.2 .4-7.1 .4 5.5 .4-6.4 .4 7.2 .4-4.2 .4 2.3 .4-8.2 .4 3.3 .5-6 .4 3.8 .4-5.1 .4 5.4 .4-4.4 .4 4.3 .4-8 .4 3.6 .4-6.6 .5 6.3 .4-3.3 .4 6.9 .4-2 .4 6.3 .4-6 .4 4 .4-6.8 .4 7.1 .4-2.8 .5 6.4 .4-4.1 .4 6.8 .4-2.7 .4 2.7 .4-7.2 .4 3.3 .4-3.6 .4 7.1 .5-5.4 .4 5.2 .4-4.2 .4 4.1 .4-9.1 .4 1.5 .4-7.2 .4 8.3 .4-6 .4 5.3 .5-6 .4 4.6 .4-6.2 .4 2 .4-8.1 .4 8.1 .4-1.9 .4 6.8 .4-6 .5 7 .4-4.2 .4 5.3 .4-7.4 .4 7.6 .4-2.6 .4 8.3 .4-4.9 .4 4.5 .5-4.5 .4 6.7 .4-5.5 .4 6 .4-3.3 .4 7.8 .4-4.6 .4 4.8 .4-5.1 .4 4.3 .5-6.2 .4 2.7 .4-6.5 .4 6.8 .4-4.1 .4 3.8 .4-7.3 .4 1.5 .4-9.6 .5 .7 .4-6.3 .4 6.5 .4-4 .4 4.3 .4-9.4 .4 2.9 .4-6.1 .4 6.2 .4-8.2 .5 5.9 .4-3.9 .4 8.2 .4-4.3 .4 2.7 .4-6.9 .4 5.8 .4-6.1 .4 6.3 .5-4.6 .4 8.7 .4-7.4 .4 3.2 .4-10.4 .4 4.7 .4-5.9 .4 6.7 .4-8.5 .4 7 .5-4.6 .4 6.2 .4-11.3 .4 3.1 .4-7.3 .4 9.7 .4-7 .4 6.6 .4-6.3 .5 9.3 .4-6.1 .4 5 .4-7.2 .4 6.8 .4-7.3 .4 10.2 .4-1.6 .4 7.9 .4-7.2 .5 4.6 .4-8.7 .4 7.1 .4-5.1 .4 7 .4-6.4 .4 6.7 .4-4.1 .4 7.4 .5-8.5 .4 4.8 .4-5.1 .4 9.7 .4-6.8 .4 7.2 .4-2.8 .4 8.3 .4-4.8 .5 5.9 .4-4.7 .4 9.1 .4-2.8 .4 6.3 .4-4.6 .4 8 .4-3.8 .4 4.2 .4-5.6 .5 9 .4-1.5 .4 6.6 .4-4.2 .4 6.1 .4-4 .4 5.6 .4-5.7 .4 4.2 .5-2.2 .4 6.1 .4-5.1 .4 3.2 .4-4.8 .4 4.4 .4-6.2 .4 3.1 .4-5.1 .4 6 .5-4.1 .4 4.8 .4-5.1 .4 4 .4-5.3 .4 4 .4-4.8 .4 7.2 .4-3.3 .5 5.7 .4-6.3 .4 4.8 .4-5.2 .4 5.3 .4-5.3 .4 5.8 .4-3.2 .4 6.4 .4-5 .5 3.1 .4-7.1 .4 3.3 .4-4.2 .4 4.6 .4-5.5 .4 6.5 .4-5.2 .4 3.7 .5-7.3 .4 4.5 .4-6.4 .4 4.6 .4-4.1 .4 7.5 .4-2.8 .4 6.7 .4-7.1 .4 2.4 .5-6.6 .4 3.5 .4-6.1 .4 6.2 .4-2.7 .4 4.6 .4-7.9 .4 2.3 .4-5.9 .5 8.3 .4-4.7 .4 6.5 .4-2 .4 7.8 .4-3.1 .4 1.9 .4-7.3 .4 4.7 .4-3.2 .5 5.8 .4-4.5 .4 6.5 .4-3.3 .4 2.5 .4-7.2 .4 4.9 .4-2 .4 6.2 .5-4.9 .4 5 .4-4.5 .4 4.4 .4-6.2 .4 1.4 .4-8 .4 2.4 .4-9.3 .5 1.9 .4-6.8 .4 5.2 .4-7.2 .4 3 .4-8.5 .4 7 .4-4 .4 6.8 .4-5.1 .5 7.7 .4-6 .4 3.3 .4-8.7 .4 8 .4-2.7 .4 7.2 .4-4.3 .4 4.6 .5-4.6 .4 5.2 .4-7.5 .4 5 .4-3.1 .4 7 .4-3.7 .4 5.4 .4-5.5 .4 4.6 .5-5 .4 4.7 .4-5.5 .4 6.9 .4-2.4 .4 5.7 .4-5.6 .4 4.8 .4-4.4 .5 2 .4-9 .4 5.9 .4-4.6 .4 5.5 .4-7 .4 .4 .4-10.7 .4 1.5 .4-12.2 .5 4.6 .4-4.8 .4 8.1 .4-4.2"/>
<path stroke="#ffff00" d="M41 233.9l.4 .1 .4-1.2 .4 .2 .4-1.1 .4 .4 .5-1 .4 .5 .4-1 .4 .5 .4-.2 .4 1.3 .4 .1 .4 1.7 .4 .2 .5 1.3 .4-1.1 .4-.3 .4-2 .4-.7 .4-1.6 .4 1.5 .4 .1 .4 1.5 .5 .4 .4 1.6 .4-1.4 .4-.6 .4-2 .4-.4 .4-1.8 .4 0 .4-1.8 .4 .5 .5-1.6 .4 .4 .4-2.7 .4 .3 .4-2.6 .4 1.7 .4-2.6 .4 1.5 .4-2.5 .5 3 .4-1.1 .4 2.4 .4-.9 .4 2.6 .4-.2 .4 1.9 .4-.3 .4 1.8 .4-.2 .5 .2 .4-1.6 .4 .2 .4-1.7 .4 .4 .4-2 .4 .7 .4-.8 .4 1.8 .5-.4 .4 2.2 .4 .1 .4 1.2 .4-1.5 .4-.2 .4-1.8 .4 .4 .4-2.2 .4 .8 .5-1.6 .4 1.7 .4-1.9 .4 1.3 .4-2.6 .4 1.9 .4-2.6 .4 1.8 .4-3.4 .5 2.4 .4-2.9 .4 2.8 .4-3.3 .4 2.3 .4-3.5 .4 3 .4-3.9 .4 3.6 .4-2.6 .5 4 .4-2.9 .4 3.1 .4-2.7 .4 3.3 .4-2.2 .4 2.7 .4-2.1 .4 3.2 .5-2 .4 2.3 .4-1.8 .4 1.9 .4-1.3 .4 1.9 .4-.9 .4 1.9 .4 0 .5 1.3 .4-.2 .4 1.8 .4 .9 .4 1.2 .4-3.2 .4-1.5 .4-3.3 .4 .5 .4-3.9 .5 .6 .4-4.2 .4 1.9 .4-4 .4 3 .4-2.6 .4 3.7 .4-2.6 .4 2.5 .5-3.4 .4 3.3 .4-2.3 .4 2.8 .4-2.9 .4 3.2 .4-1.7 .4 2 .4-2 .4 2 .5-1 .4 2.2 .4-1.1 .4 2.1 .4-.6 .4 1.9 .4-.7 .4 2 .4 .5 .5 2.5 .4 2.5 .4 3.8 .4-7.1 .4-5.2 .4-4.3 .4-1 .4-1.1 .4 3 .4-.2 .5 1.8 .4-2.4 .4 1 .4-3 .4 .7 .4-2.6 .4 1.7 .4-1.8 .4 2.3 .5-2.4 .4 1 .4-2.8 .4 1.5 .4-3.5 .4 1.6 .4-1.9 .4 2.8 .4-1.9 .4 2.1 .5-2.3 .4 2 .4-3.6 .4 1 .4-2.8 .4 2.1 .4-2.5 .4 .6 .4-5.5 .5 1.2 .4-5.3 .4 1.3 .4-6.3 .4 2.8 .4-5.1 .4 3.9 .4-6 .4 2.8 .4-6.6 .5 3.5 .4-5 .4 5.5 .4-2.6 .4 6.4 .4-2.3 .4 3.6 .4-5.7 .4 2.4 .5-6.5 .4 2.7 .4-5.8 .4 4.7 .4-5 .4 3.8 .4-5.5 .4 5.4 .4-3.6 .5 6.2 .4-3.6 .4 4.9 .4-4.8 .4 3.5 .4-6.7 .4 2.7 .4-5.5 .4 3.6 .4-6.2 .5 4.5 .4-5.7 .4 3.9 .4-8.4 .4 2.1 .4-7.3 .4 6.2 .4-4 .4 6.2 .5-4.6 .4 7.2 .4-4 .4 3.4 .4-8.7 .4 3.9 .4-6.4 .4 4.5 .4-7.3 .4 5.6 .5-6.2 .4 5 .4-9.4 .4 3 .4-8.2 .4 6 .4-7.7 .4 5.9 .4-6.6 .5 8.3 .4-8.8 .4 6.2 .4-8.3 .4 9 .4-5.4 .4 7.7 .4-5.4 .4 7.5 .4-5.9 .5 6.5 .4-6.8 .4 7.1 .4-3.7 .4 8.4 .4-4.5 .4 8.4 .4-4.2 .4 6.7 .5-6 .4 5.6 .4-2.8 .4 7.4 .4-2.2 .4 6.1 .4-1.8 .4 5.6 .4-2.6 .4 4 .5-2.7 .4 5.5 .4-1.9 .4 3.8 .4-2.7 .4 2.5 .4-4 .4 1.8 .4-4.3 .5 4.3 .4-1.1 .4 4.7 .4-1.5 .4 3.4 .4-2.4 .4 3.4 .4-3.2 .4 3 .4-.5 .5 4.6 .4-1.9 .4 2.4 .4-1.7 .4 3 .4-1.7 .4 2.9 .4-.5 .4 3.5 .5-.7 .4 1.7 .4-1.4 .4 2.5 .4-1.2 .4 2.3 .4-.7 .4 2.6 .4 0 .5 1.3 .4-2 .4 1 .4-2.2 .4 .9 .4-2.7 .4 .8 .4-1.9 .4 1.2 .4-3.3 .5-.3 .4-3.6 .4 .5 .4-3.3 .4 .7 .4-3.7 .4 1.5 .4-4.3 .4 .2 .5-4.8 .4 .9 .4-4.3 .4 2.2 .4-4.3 .4 2.8 .4-4 .4 1.8 .4-5.6 .4 1.4 .5-3.5 .4 3.9 .4-3.9 .4 3.1 .4-3.3 .4 3.2 .4-4.9 .4 .5 .4-5.5 .5 2 .4-4.8 .4 2.3 .4-5.5 .4 3.3 .4-4.8 .4 3.3 .4-4.8 .4 5 .4-2.5 .5 4.7 .4-2.9 .4 3.9 .4-4.2 .4 2.4 .4-4.7 .4 2.7 .4-2.9 .4 4.7 .5-3.6 .4 4.6 .4-3.1 .4 3.8 .4-4.2 .4 3.4 .4-2.3 .4 4.3 .4-4.2 .4 2.3 .5-4.7 .4 3.2 .4-4.6 .4 2.5 .4-3.2 .4 5 .4-1.9 .4 3.8 .4-5.1 .5 2.3 .4-5.1 .4 1.3 .4-5.5 .4 4.1 .4-2.8 .4 3.8 .4-3.9 .4 1.9 .5-4.9 .4 3 .4-7.6 .4 2.2 .4-2.7 .4 4.9 .4-3.7 .4 2.9 .4-6.5 .4 3.8 .5-5.1 .4 2.6 .4-5 .4 5 .4-3.9 .4 3.5 .4-4.3 .4 5.4 .4-2.7 .5 5.4 .4-3.2 .4 7.1 .4 .5 .4 6.5 .4-4.3 .4 2.7 .4-3.4 .4 3.6 .4-3.2 .5 3.9 .4-1.9 .4 4.6 .4-3.5 .4 2.7 .4-5.8 .4 3.3 .4-3.6 .4 3.6 .5-3.6 .4 4.1 .4-4.3 .4 1.7 .4-5.6 .4 2.8 .4-3.5 .4 4.6 .4-3.7 .4 3.1 .5-2 .4 4 .4-5.5 .4 2.3 .4-5.4 .4 1.8 .4-4.8 .4 3.1 .4-4.1 .5 4.1 .4-6.1 .4 .8 .4-6.6 .4 6.9 .4-2.9 .4 5.7 .4-2 .4 6.8 .4-2.1 .5 4 .4-3.3 .4 3.4 .4-2 .4 3.8 .4-4.3 .4 4.2 .4-3.9 .4 .2 .5-9 .4-2 .4-7.8 .4 1.1 .4-9.3 .4-.2 .4-4.1 .4 3.8 .4-6.7 .4 1.1 .5-3.8 .4 8.1 .4-2.1 .4 5.8 .4-5.7 .4 4 .4-6.2 .4 2 .4-7.9 .5 5.8 .4-3.4 .4 5 .4-5 .4 6.1 .4-5.7 .4 3.3 .4-8.1 .4 2.9 .5-2.6 .4 7.2 .4-4.7 .4 4 .4-4.9 .4 4.8 .4-6.2 .4 3.7 .4-3.4 .4 8.1 .5-1.6 .4 7.7 .4-4 .4 6.9 .4-3.8 .4 4.1 .4-5.7 .4 4.6 .4-4 .5 3.9 .4-6.3 .4 4.5 .4-4.5 .4 5.1 .4-3.9 .4 6.4 .4-.6 .4 6 .4-11.2 .5-4 .4-12.7 .4 1 .4-8 .4 4.6 .4-3.7 .4 7.6 .4-7.2 .4 1.7 .5-8.9 .4 3.1 .4-7 .4 5.7 .4-6.2 .4 7.7 .4-3.7 .4 1.6 .4-8.3 .4 2.8 .5-5.9 .4 3.5 .4-4.8 .4 5.3 .4-3.9 .4 3.9 .4-8.1 .4 3 .4-6.6 .5 6.2 .4-2.8 .4 6.9 .4-1.3 .4 6.3 .4-6.1 .4 3.6 .4-7.2 .4 7.4 .4-2.5 .5 6.6 .4-4.2 .4 7.2 .4-2.6 .4 2.4 .4-7.9 .4 3.1 .4-3.7 .4 7.9 .5-5.8 .4 5.5 .4-4.2 .4 4.3 .4-9.9 .4 1.1 .4-7.5 .4 9.1 .4-6 .4 5.5 .5-6 .4 4.5 .4-6.2 .4 1.5 .4-8.6 .4 8.5 .4-1.1 .4 6.8 .4-6.3 .5 7.1 .4-4.2 .4 5.2 .4-8.1 .4 8.1 .4-2.5 .4 8.8 .4-5.4 .4 4.6 .5-5 .4 7.3 .4-6.3 .4 6.6 .4-3.7 .4 8.9 .4-5.3 .4 5.4 .4-5.7 .4 4.9 .5-7 .4 2.9 .4-7.3 .4 8 .4-4.4 .4 4.3 .4-7.9 .4 1.5 .4-10.4 .5 .5 .4-6.4 .4 7.1 .4-3.7 .4 4.3 .4-9.8 .4 2.5 .4-6.1 .4 6.3 .4-8.5 .5 6 .4-3.5 .4 8.7 .4-3.9 .4 2.3 .4-7.1 .4 5.8 .4-6.1 .4 6.4 .5-4.3 .4 9.1 .4-7.5 .4 2.7 .4-11 .4 4.2 .4-5.6 .4 6.6 .4-8.5 .4 6.9 .5-4.1 .4 6.1 .4-11.8 .4 2.1 .4-7 .4 10.1 .4-6.7 .4 6.2 .4-5.8 .5 9.4 .4-5.6 .4 4.2 .4-7 .4 6.4 .4-7.1 .4 10.6 .4-.7 .4 8 .4-7.3 .5 3.9 .4-8.8 .4 7 .4-4.8 .4 6.9 .4-6.4 .4 6.5 .4-3.5 .4 7.2 .5-8.9 .4 4.3 .4-4.7 .4 10.1 .4-7 .4 7.2 .4-2.4 .4 8.5 .4-4.8 .5 5.7 .4-4.8 .4 9.6 .4-2.6 .4 6.4 .4-5 .4 8.6 .4-4.3 .4 4.2 .4-6.4 .5 10 .4-1.6 .4 7.2 .4-4.8 .4 6.6 .4-4.6 .4 6.3 .4-6.7 .4 4.6 .5-2.3 .4 7 .4-5.8 .4 3.7 .4-5.3 .4 5.1 .4-6.9 .4 3.4 .4-5.5 .4 6.7 .5-4.2 .4 5.1 .4-5.6 .4 4.1 .4-5.7 .4 4 .4-5.2 .4 8 .4-3.5 .5 6.1 .4-7 .4 5.1 .4-5.7 .4 5.7 .4-5.8 .4 6.3 .4-3.3 .4 7.1 .4-5.4 .5 3.2 .4-7.8 .4 3.4 .4-4.3 .4 5 .4-5.9 .4 7.1 .4-5.4 .4 3.8 .5-7.9 .4 4.7 .4-6.8 .4 4.7 .4-4.1 .4 8.1 .4-2.7 .4 7.2 .4-7.8 .4 2.2 .5-7.1 .4 3.6 .4-6.5 .4 6.8 .4-2.4 .4 4.8 .4-8.4 .4 2 .4-6.1 .5 9 .4-4.6 .4 6.8 .4-1.7 .4 8.4 .4-3.1 .4 1.6 .4-8.2 .4 4.9 .4-3.3 .5 6.3 .4-4.9 .4 7.1 .4-3.6 .4 2.5 .4-8.2 .4 5.3 .4-1.9 .4 6.9 .5-5.5 .4 5.8 .4-4.9 .4 5 .4-7 .4 2.3 .4-8.9 .4 3 .4-9.7 .5 1.7 .4-6.3 .4 5.2 .4-7.5 .4 2.4 .4-8.7 .4 6.9 .4-3.6 .4 6.9 .4-5 .5 7.9 .4-6.2 .4 3 .4-9.5 .4 8.6 .4-2.5 .4 7.7 .4-4.4 .4 4.6 .5-4.8 .4 5.4 .4-8.3 .4 5.4 .4-3.2 .4 7.6 .4-3.9 .4 5.8 .4-6 .4 4.9 .5-5.5 .4 5 .4-6.2 .4 7.7 .4-2.6 .4 6.3 .4-6.5 .4 5.3 .4-4.7 .5 1.9 .4-10.2 .4 6.9 .4-4.8 .4 6.2 .4-7.2 .4 .1 .4-11.3 .4 1.4 .4-12.8 .5 4.5 .4-3.9 .4 8.5 .4-3.6"/>
<path stroke="#ff0000" d="M41 233.2l.4 0 .4-1.2 .4 .2 .4-1.2 .4 .4 .5-1.1 .4 .5 .4-1 .4 .5 .4-.2 .4 1.3 .4 .2 .4 1.8 .4 .2 .5 1.4 .4-1.1 .4-.4 .4-2.1 .4-.9 .4-1.6 .4 1.6 .4 .2 .4 1.5 .5 .5 .4 1.7 .4-1.4 .4-.7 .4-2.2 .4-.4 .4-1.9 .4-.2 .4-1.8 .4 .4 .5-1.7 .4 .2 .4-2.8 .4 0 .4-2.5 .4 1.4 .4-2.4 .4 1 .4-2.2 .5 2.8 .4-.8 .4 2.4 .4-.6 .4 2.7 .4 0 .4 2.1 .4-.1 .4 2.1 .4-.2 .5 .3 .4-2 .4 .1 .4-1.9 .4 .2 .4-2.2 .4 .3 .4-.4 .4 2.1 .5-.1 .4 2.5 .4 .5 .4 1.2 .4-1.7 .4-.5 .4-2.2 .4 .2 .4-2.6 .4 .8 .5-1.9 .4 1.8 .4-2.3 .4 1.4 .4-3.1 .4 2 .4-3.1 .4 1.9 .4-4 .5 2.5 .4-3.5 .4 3 .4-4.2 .4 2.6 .4-4.5 .4 3.5 .4-5 .4 4.7 .4-3.2 .5 5.1 .4-3.4 .4 4 .4-3.1 .4 4.2 .4-2.5 .4 3.4 .4-2.3 .4 3.9 .5-2.1 .4 2.8 .4-1.9 .4 2.3 .4-1.2 .4 2.2 .4-.6 .4 2.3 .4 .3 .5 1.5 .4 .2 .4 2.3 .4 1.5 .4 1.5 .4-4.3 .4-2.3 .4-4.4 .4 .2 .4-4.9 .5 .3 .4-5.3 .4 1.8 .4-5.1 .4 3.6 .4-2.9 .4 4.6 .4-2.8 .4 2.9 .5-3.7 .4 3.9 .4-2.4 .4 3.3 .4-3 .4 3.8 .4-1.8 .4 2.3 .4-1.9 .4 2.3 .5-.8 .4 2.5 .4-.8 .4 2.2 .4-.2 .4 1.9 .4-.4 .4 2.3 .4 1.1 .5 2.7 .4 3.3 .4 4.6 .4-8.6 .4-7.1 .4-4.7 .4-2 .4-.5 .4 3.4 .4 .2 .5 1.9 .4-2.7 .4 .9 .4-3.3 .4 .6 .4-2.6 .4 1.7 .4-1.7 .4 2.3 .5-2.4 .4 .8 .4-2.9 .4 1.3 .4-3.7 .4 1.6 .4-1.8 .4 2.9 .4-1.8 .4 2.2 .5-2.3 .4 2.1 .4-4 .4 1 .4-2.9 .4 2.1 .4-2.5 .4 .3 .4-5.9 .5 .8 .4-5.6 .4 1 .4-6.7 .4 2.5 .4-5.1 .4 3.7 .4-6 .4 2.3 .4-6.7 .5 3.2 .4-4.8 .4 5.7 .4-2.3 .4 6.9 .4-2 .4 3.7 .4-6.1 .4 2.1 .5-6.7 .4 2.4 .4-5.7 .4 4.5 .4-4.8 .4 3.6 .4-5.5 .4 5.4 .4-3.3 .5 6.4 .4-3.4 .4 5.1 .4-4.9 .4 3.4 .4-7 .4 2.5 .4-5.5 .4 3.5 .4-6.2 .5 4.3 .4-5.5 .4 3.6 .4-8.6 .4 1.4 .4-7.3 .4 6.1 .4-3.5 .4 6.1 .5-4.2 .4 7.2 .4-3.4 .4 2.9 .4-8.9 .4 3.4 .4-6.1 .4 4.1 .4-7 .4 5.1 .5-5.6 .4 4.4 .4-9.3 .4 2.1 .4-7.8 .4 5.3 .4-7.1 .4 5 .4-5.6 .5 7.8 .4-8.1 .4 5 .4-7.5 .4 8.3 .4-4.2 .4 7 .4-4.6 .4 7 .4-5.1 .5 5.6 .4-6.2 .4 6.6 .4-2.7 .4 8.2 .4-4 .4 8.3 .4-3.5 .4 6.4 .5-5.8 .4 5.3 .4-2.3 .4 7.5 .4-1.8 .4 6.3 .4-1.6 .4 5.8 .4-2.6 .4 4.2 .5-2.9 .4 6 .4-2 .4 4.1 .4-2.8 .4 2.6 .4-4.2 .4 1.7 .4-4.6 .5 4.7 .4-1.1 .4 5.1 .4-1.6 .4 3.7 .4-2.6 .4 3.6 .4-3.5 .4 3.3 .4-.6 .5 5.2 .4-2.2 .4 2.8 .4-2.1 .4 3.4 .4-2.1 .4 3.4 .4-.9 .4 4.2 .5-1.1 .4 2.2 .4-2 .4 3.2 .4-1.8 .4 3 .4-1.3 .4 3.4 .4-.5 .5 1.9 .4-2.8 .4 1.8 .4-3.1 .4 1.6 .4-3.4 .4 1.5 .4-2.7 .4 2 .4-4.1 .5 .1 .4-4.3 .4 1 .4-3.8 .4 1 .4-4.1 .4 1.9 .4-4.8 .4 .3 .5-5.1 .4 1 .4-4.5 .4 2.2 .4-4.3 .4 2.9 .4-3.9 .4 1.6 .4-5.6 .4 1.1 .5-3.3 .4 3.9 .4-3.7 .4 2.9 .4-3 .4 3 .4-4.8 .4 .1 .4-5.3 .5 1.6 .4-4.4 .4 1.8 .4-4.9 .4 2.6 .4-4.1 .4 2.5 .4-4.3 .4 4.5 .4-1.9 .5 4.4 .4-2.5 .4 3.6 .4-3.9 .4 2 .4-4.4 .4 2.3 .4-2.6 .4 4.5 .5-3.2 .4 4.3 .4-2.8 .4 3.6 .4-4.2 .4 3.2 .4-2 .4 4.3 .4-4.2 .4 2.1 .5-4.7 .4 3.2 .4-4.6 .4 2.2 .4-3.1 .4 5 .4-1.6 .4 3.8 .4-5.2 .5 2.3 .4-5.2 .4 1 .4-5.4 .4 4 .4-2.4 .4 3.7 .4-3.7 .4 1.6 .5-4.7 .4 2.6 .4-7.5 .4 1.7 .4-2.2 .4 4.8 .4-3.3 .4 2.5 .4-6.2 .4 3.3 .5-4.8 .4 2 .4-4.4 .4 4.5 .4-3.3 .4 2.7 .4-3.7 .4 5 .4-2.4 .5 5.1 .4-2.9 .4 7.1 .4 1 .4 6.6 .4-4.4 .4 2.5 .4-3.6 .4 3.7 .4-3.4 .5 4 .4-1.9 .4 4.7 .4-3.7 .4 2.8 .4-6.2 .4 3.5 .4-3.7 .4 3.9 .5-3.7 .4 4.4 .4-4.4 .4 1.6 .4-5.8 .4 2.8 .4-3.5 .4 4.8 .4-3.8 .4 3.3 .5-2 .4 4.2 .4-5.9 .4 2.3 .4-5.6 .4 1.8 .4-4.8 .4 3 .4-3.9 .5 4.2 .4-6.2 .4 .5 .4-6.8 .4 7 .4-2.7 .4 5.7 .4-2 .4 7.1 .4-2.1 .5 4 .4-3.5 .4 3.6 .4-2.2 .4 4.1 .4-4.5 .4 4.5 .4-4.1 .4 .2 .5-9.5 .4-2.3 .4-7.6 .4 1 .4-9 .4-.8 .4-3.4 .4 3.4 .4-6.4 .4 .1 .5-3.2 .4 7.9 .4-1.4 .4 5.6 .4-5.4 .4 3.5 .4-5.9 .4 1.4 .4-7.7 .5 5.6 .4-2.9 .4 4.7 .4-4.6 .4 5.8 .4-5.2 .4 2.6 .4-8 .4 2.3 .5-2 .4 7 .4-4.2 .4 3.4 .4-4.5 .4 4.4 .4-6 .4 3.2 .4-3.1 .4 8 .5-1.4 .4 7.6 .4-4 .4 6.9 .4-3.8 .4 3.9 .4-5.8 .4 4.7 .4-3.9 .5 3.9 .4-6.5 .4 4.5 .4-4.4 .4 5 .4-4 .4 6.5 .4-.4 .4 6.4 .4-11.5 .5-4.2 .4-12.8 .4 .7 .4-7.8 .4 4.3 .4-3.1 .4 7.6 .4-6.9 .4 1 .5-8.7 .4 2.7 .4-6.5 .4 5.5 .4-5.6 .4 7.6 .4-3 .4 1 .4-8.3 .4 2.2 .5-5.5 .4 3 .4-4.2 .4 4.8 .4-3.2 .4 3.3 .4-7.8 .4 2.1 .4-6.1 .5 5.6 .4-2 .4 6.6 .4-.7 .4 6 .4-5.9 .4 3.1 .4-7.1 .4 7.1 .4-1.9 .5 6.3 .4-3.9 .4 7.1 .4-2.3 .4 1.9 .4-8 .4 2.6 .4-3.4 .4 7.9 .5-5.6 .4 5.3 .4-3.7 .4 4 .4-10 .4 .4 .4-7.2 .4 9.2 .4-5.6 .4 5.2 .5-5.7 .4 4.2 .4-5.8 .4 .8 .4-8.4 .4 8.3 .4-.4 .4 6.5 .4-6.2 .5 6.8 .4-3.8 .4 4.7 .4-8.2 .4 7.9 .4-2.1 .4 8.8 .4-5.3 .4 4.2 .5-5 .4 7.2 .4-6.3 .4 6.4 .4-3.5 .4 9.1 .4-5.2 .4 5.4 .4-5.7 .4 4.9 .5-7.1 .4 2.6 .4-7.5 .4 8.2 .4-4 .4 4.3 .4-7.9 .4 1 .4-10.3 .5-.2 .4-5.9 .4 7.1 .4-2.9 .4 3.8 .4-9.6 .4 1.7 .4-5.5 .4 5.9 .4-8.3 .5 5.6 .4-2.7 .4 8.5 .4-3.1 .4 1.6 .4-6.8 .4 5.4 .4-5.9 .4 6.3 .5-3.8 .4 9.1 .4-7.3 .4 1.9 .4-11 .4 3.6 .4-5 .4 6.2 .4-8.2 .4 6.4 .5-3.2 .4 5.5 .4-11.5 .4 .8 .4-6.2 .4 9.6 .4-5.8 .4 5.4 .4-4.8 .5 8.9 .4-4.8 .4 3.2 .4-6.4 .4 5.7 .4-6.5 .4 10.3 .4 .3 .4 7.7 .4-6.9 .5 3 .4-8.5 .4 6.4 .4-4.1 .4 6.4 .4-5.9 .4 5.8 .4-2.7 .4 6.7 .5-8.7 .4 3.6 .4-4 .4 9.8 .4-6.5 .4 6.6 .4-1.7 .4 8.2 .4-4.5 .5 5.2 .4-4.4 .4 9.5 .4-2.2 .4 6 .4-4.8 .4 8.5 .4-4.1 .4 3.7 .4-6.5 .5 10.1 .4-1.2 .4 7.2 .4-4.8 .4 6.5 .4-4.5 .4 6.2 .4-7 .4 4.5 .5-1.9 .4 7.2 .4-5.8 .4 3.7 .4-5.2 .4 5.1 .4-6.9 .4 3.2 .4-5.3 .4 6.8 .5-4 .4 5 .4-5.6 .4 3.8 .4-5.6 .4 3.7 .4-5.1 .4 8.1 .4-3.2 .5 6 .4-7.1 .4 4.8 .4-5.6 .4 5.5 .4-5.7 .4 6.2 .4-3 .4 7.2 .4-5.2 .5 2.9 .4-7.9 .4 3.1 .4-4 .4 4.8 .4-5.6 .4 7.1 .4-5.1 .4 3.5 .5-8 .4 4.4 .4-6.6 .4 4.4 .4-3.7 .4 8 .4-2.2 .4 7.2 .4-8 .4 1.7 .5-7 .4 3.1 .4-6.1 .4 6.7 .4-1.7 .4 4.5 .4-8.3 .4 1.4 .4-5.8 .5 9 .4-4.1 .4 6.6 .4-1.1 .4 8.5 .4-2.8 .4 1 .4-8.5 .4 4.7 .4-3 .5 6.2 .4-4.8 .4 7.1 .4-3.3 .4 2 .4-8.6 .4 5.2 .4-1.4 .4 6.9 .5-5.4 .4 6 .4-4.9 .4 5 .4-7 .4 2.2 .4-8.8 .4 3.1 .4-9.4 .5 1.4 .4-5.8 .4 4.9 .4-7.4 .4 1.7 .4-8.6 .4 6.5 .4-3 .4 6.5 .4-4.5 .5 7.6 .4-5.8 .4 2.3 .4-9.5 .4 8.3 .4-1.8 .4 7.5 .4-4 .4 4.2 .5-4.6 .4 5.2 .4-8.4 .4 5 .4-2.7 .4 7.6 .4-3.5 .4 5.5 .4-6 .4 4.7 .5-5.4 .4 4.7 .4-6.2 .4 7.7 .4-2.2 .4 6.1 .4-6.6 .4 5 .4-4.5 .5 1.5 .4-10.4 .4 7 .4-4.3 .4 6.1 .4-6.9 .4-.5 .4-11.1 .4 .9 .4-12.6 .5 4 .4-2.8 .4 8.3 .4-2.8"/>
<path stroke="#00ffff" d="M41 232.4l.4 0 .4-1.3 .4 .2 .4-1.2 .4 .4 .5-1.1 .4 .4 .4-1 .4 .5 .4-.2 .4 1.4 .4 .2 .4 1.9 .4 .3 .5 1.4 .4-1.2 .4-.4 .4-2.2 .4-1 .4-1.7 .4 1.7 .4 .2 .4 1.6 .5 .6 .4 1.8 .4-1.5 .4-.8 .4-2.3 .4-.5 .4-2 .4-.2 .4-1.9 .4 .3 .5-1.6 .4-.1 .4-2.7 .4-.4 .4-2.3 .4 1.1 .4-2.2 .4 .7 .4-1.9 .5 2.5 .4-.5 .4 2.2 .4-.3 .4 2.7 .4 .1 .4 2.2 .4-.2 .4 2.4 .4-.4 .5 .5 .4-2.3 .4 .2 .4-2.3 .4 .4 .4-2.5 .4 .4 .4-.5 .4 2.3 .5-.3 .4 3.1 .4 .3 .4 1.7 .4-2.3 .4-.3 .4-2.6 .4 .3 .4-3 .4 .8 .5-2 .4 1.7 .4-2.3 .4 1.1 .4-3.2 .4 1.8 .4-3.2 .4 1.6 .4-4.2 .5 2.2 .4-3.7 .4 2.7 .4-4.4 .4 2.1 .4-4.8 .4 3.1 .4-5.5 .4 5 .4-3 .5 5.5 .4-3.3 .4 4.3 .4-3 .4 4.7 .4-2.3 .4 3.7 .4-2.1 .4 4.3 .5-1.9 .4 3 .4-1.6 .4 2.4 .4-1 .4 2.5 .4-.2 .4 2.5 .4 .6 .5 1.8 .4 .5 .4 2.7 .4 2 .4 1.5 .4-5 .4-3.2 .4-5.3 .4-.3 .4-5.4 .5-.4 .4-5.8 .4 1.1 .4-5.4 .4 3.4 .4-2.4 .4 4.8 .4-2.5 .4 2.9 .5-3.6 .4 4 .4-2.1 .4 3.5 .4-2.9 .4 4 .4-1.5 .4 2.4 .4-1.9 .4 2.6 .5-.7 .4 2.8 .4-.9 .4 2.8 .4-.5 .4 2.5 .4-.7 .4 3 .4 .9 .5 3.3 .4 3.5 .4 5.1 .4-9.6 .4-8.1 .4-5.4 .4-2.2 .4-.7 .4 4 .4 .1 .5 2.4 .4-3.2 .4 1.2 .4-3.9 .4 .9 .4-3.2 .4 2.1 .4-2.1 .4 2.8 .5-2.8 .4 1 .4-3.3 .4 1.6 .4-4.2 .4 1.8 .4-2.1 .4 3.4 .4-2.1 .4 2.6 .5-2.8 .4 2.6 .4-4.6 .4 1.3 .4-3.4 .4 2.5 .4-2.9 .4 .5 .4-6.4 .5 .7 .4-5.8 .4 .7 .4-6.9 .4 2.3 .4-5 .4 3.5 .4-5.9 .4 1.8 .4-6.5 .5 2.6 .4-4.4 .4 5.4 .4-1.8 .4 7 .4-1.6 .4 3.5 .4-6.3 .4 2 .5-6.9 .4 2.1 .4-5.7 .4 4.5 .4-4.7 .4 3.4 .4-5.5 .4 5.4 .4-3.2 .5 6.6 .4-3.3 .4 5.2 .4-4.9 .4 3.3 .4-7.1 .4 2.3 .4-5.6 .4 3.4 .4-6.2 .5 4.2 .4-5.4 .4 3.4 .4-8.8 .4 1 .4-7.5 .4 6.2 .4-3.2 .4 6 .5-3.9 .4 7.3 .4-3.2 .4 2.6 .4-9 .4 3.1 .4-6 .4 4 .4-7.1 .4 5 .5-5.3 .4 4 .4-9.3 .4 1.5 .4-7.6 .4 5 .4-6.8 .4 4.5 .4-5.1 .5 7.6 .4-7.8 .4 4.4 .4-7.1 .4 8.1 .4-3.7 .4 6.8 .4-4.2 .4 6.7 .4-4.6 .5 5.2 .4-5.9 .4 6.4 .4-2.1 .4 8.1 .4-3.7 .4 8.4 .4-3.2 .4 6.3 .5-5.7 .4 5.1 .4-1.9 .4 7.7 .4-1.6 .4 6.5 .4-1.4 .4 5.9 .4-2.5 .4 4.2 .5-2.9 .4 6.3 .4-1.9 .4 4.2 .4-2.9 .4 2.7 .4-4.3 .4 1.6 .4-4.7 .5 4.8 .4-.9 .4 5.3 .4-1.6 .4 3.8 .4-2.6 .4 3.8 .4-3.8 .4 3.5 .4-.6 .5 5.6 .4-2.3 .4 2.9 .4-2.2 .4 3.6 .4-2.2 .4 3.6 .4-.9 .4 4.5 .5-1.2 .4 2.3 .4-2.1 .4 3.3 .4-1.9 .4 3.2 .4-1.4 .4 3.7 .4-.5 .5 2.1 .4-3.1 .4 1.9 .4-3.3 .4 1.7 .4-3.6 .4 1.6 .4-2.7 .4 2.1 .4-4.3 .5 .1 .4-4.5 .4 .9 .4-3.9 .4 1.1 .4-4.3 .4 2 .4-4.9 .4 .2 .5-5.3 .4 1 .4-4.6 .4 2.3 .4-4.4 .4 2.9 .4-3.8 .4 1.6 .4-5.8 .4 1.1 .5-3.4 .4 4.1 .4-3.9 .4 3 .4-3 .4 3.1 .4-4.9 .4-.1 .4-5.4 .5 1.6 .4-4.4 .4 1.9 .4-5.1 .4 2.8 .4-4.2 .4 2.4 .4-4.4 .4 4.6 .4-1.9 .5 4.4 .4-2.4 .4 3.6 .4-3.9 .4 2 .4-4.5 .4 2.3 .4-2.5 .4 4.5 .5-3.2 .4 4.4 .4-2.9 .4 3.6 .4-4.2 .4 3.2 .4-2 .4 4.4 .4-4.3 .4 2.2 .5-4.9 .4 3.3 .4-4.8 .4 2.2 .4-3.2 .4 5.2 .4-1.6 .4 3.9 .4-5.3 .5 2.2 .4-5.3 .4 .9 .4-5.5 .4 4.1 .4-2.3 .4 3.8 .4-3.7 .4 1.6 .5-4.8 .4 2.6 .4-7.8 .4 1.7 .4-2.1 .4 5 .4-3.3 .4 2.4 .4-6.4 .4 3.4 .5-4.9 .4 1.9 .4-4.5 .4 4.7 .4-3.3 .4 2.7 .4-3.9 .4 5.1 .4-2.4 .5 5.1 .4-2.9 .4 7.4 .4 1.1 .4 6.8 .4-4.6 .4 2.4 .4-3.6 .4 3.7 .4-3.5 .5 4 .4-1.9 .4 4.8 .4-3.8 .4 2.7 .4-6.4 .4 3.6 .4-3.6 .4 3.9 .5-3.7 .4 4.6 .4-4.5 .4 1.6 .4-5.9 .4 2.8 .4-3.6 .4 5 .4-3.9 .4 3.3 .5-2 .4 4.5 .4-6.2 .4 2.3 .4-5.7 .4 1.7 .4-4.8 .4 3.1 .4-4 .5 4.3 .4-6.3 .4 .4 .4-7 .4 7.2 .4-2.7 .4 5.7 .4-2 .4 7.3 .4-2.2 .5 4.1 .4-3.7 .4 3.7 .4-2.2 .4 4.3 .4-4.7 .4 4.7 .4-4.2 .4 .2 .5-9.9 .4-2.5 .4-7.6 .4 1.1 .4-9.1 .4-.8 .4-3.3 .4 3.4 .4-6.6 .4-.1 .5-3.2 .4 8.2 .4-1.3 .4 5.8 .4-5.6 .4 3.5 .4-6.1 .4 1.4 .4-8.1 .5 5.9 .4-2.9 .4 4.9 .4-4.7 .4 6.1 .4-5.5 .4 2.7 .4-8.5 .4 2.3 .5-2 .4 7.3 .4-4.4 .4 3.5 .4-4.7 .4 4.5 .4-6.2 .4 3.2 .4-3.2 .4 8.2 .5-1.5 .4 7.8 .4-4.3 .4 7 .4-3.9 .4 4 .4-6 .4 4.8 .4-3.9 .5 4 .4-6.7 .4 4.6 .4-4.5 .4 5.1 .4-4.2 .4 6.6 .4-.4 .4 6.8 .4-11.8 .5-4.1 .4-13.1 .4 .8 .4-8.1 .4 4.5 .4-3.1 .4 8 .4-7.1 .4 1 .5-9.1 .4 3 .4-6.7 .4 5.9 .4-5.8 .4 8.2 .4-3.2 .4 1.1 .4-8.7 .4 2.3 .5-5.7 .4 3.1 .4-4.4 .4 5.1 .4-3.3 .4 3.4 .4-8.1 .4 2.1 .4-6.3 .5 5.7 .4-2 .4 6.8 .4-.6 .4 6.2 .4-6.2 .4 3.1 .4-7.4 .4 7.2 .4-1.8 .5 6.5 .4-4.1 .4 7.4 .4-2.4 .4 1.9 .4-8.5 .4 2.6 .4-3.5 .4 8.1 .5-5.8 .4 5.6 .4-3.7 .4 4.1 .4-10.4 .4 .3 .4-7.5 .4 9.7 .4-5.7 .4 5.4 .5-5.8 .4 4.3 .4-6 .4 .8 .4-8.8 .4 8.7 .4-.4 .4 6.7 .4-6.5 .5 7 .4-4 .4 4.7 .4-8.6 .4 8.2 .4-2.2 .4 9.1 .4-5.5 .4 4.1 .5-5.2 .4 7.4 .4-6.7 .4 6.5 .4-3.6 .4 9.6 .4-5.5 .4 5.7 .4-5.9 .4 5 .5-7.4 .4 2.6 .4-7.7 .4 8.6 .4-4.1 .4 4.6 .4-8.1 .4 .9 .4-10.7 .5-.2 .4-6 .4 7.5 .4-2.7 .4 4 .4-10.1 .4 1.6 .4-5.6 .4 6.1 .4-8.5 .5 5.7 .4-2.6 .4 9 .4-3.3 .4 1.7 .4-7.2 .4 5.7 .4-6.1 .4 6.6 .5-4 .4 9.7 .4-7.7 .4 1.9 .4-11.6 .4 3.7 .4-5.2 .4 6.5 .4-8.5 .4 6.7 .5-3.2 .4 5.7 .4-12 .4 .7 .4-6.4 .4 10 .4-5.9 .4 5.6 .4-5 .5 9.4 .4-5 .4 3.2 .4-6.6 .4 5.8 .4-6.8 .4 10.8 .4 .4 .4 8.1 .4-7.3 .5 3.1 .4-9 .4 6.7 .4-4.3 .4 6.6 .4-6 .4 5.9 .4-2.7 .4 6.9 .5-9.1 .4 3.6 .4-4.1 .4 10.3 .4-6.9 .4 6.8 .4-1.7 .4 8.5 .4-4.7 .5 5.2 .4-4.6 .4 9.9 .4-2.3 .4 6.2 .4-5.1 .4 8.9 .4-4.4 .4 3.7 .4-6.9 .5 10.5 .4-1.2 .4 7.4 .4-5 .4 6.7 .4-4.7 .4 6.4 .4-7.3 .4 4.5 .5-1.9 .4 7.6 .4-5.9 .4 3.8 .4-5.4 .4 5.4 .4-7.2 .4 3.3 .4-5.3 .4 7.1 .5-4.1 .4 5.2 .4-6 .4 4 .4-5.9 .4 3.8 .4-5.3 .4 8.4 .4-3.2 .5 6.2 .4-7.5 .4 5 .4-5.9 .4 5.7 .4-5.9 .4 6.4 .4-3.1 .4 7.6 .4-5.4 .5 3 .4-8.2 .4 3.1 .4-4 .4 4.9 .4-5.8 .4 7.6 .4-5.3 .4 3.6 .5-8.3 .4 4.5 .4-6.8 .4 4.4 .4-3.7 .4 8.3 .4-2.2 .4 7.5 .4-8.4 .4 1.6 .5-7.2 .4 3.1 .4-6.2 .4 6.9 .4-1.5 .4 4.7 .4-8.7 .4 1.4 .4-5.9 .5 9.4 .4-4.2 .4 6.9 .4-1.1 .4 9 .4-3 .4 .9 .4-9 .4 4.9 .4-3.1 .5 6.4 .4-5.1 .4 7.4 .4-3.3 .4 1.8 .4-9 .4 5.4 .4-1.4 .4 7.3 .5-5.6 .4 6.2 .4-5 .4 5.3 .4-7.4 .4 2.4 .4-9 .4 3.6 .4-9.5 .5 1.7 .4-6.1 .4 5.1 .4-7.7 .4 1.6 .4-8.9 .4 6.7 .4-3.1 .4 6.8 .4-4.7 .5 7.9 .4-6.1 .4 2.2 .4-9.9 .4 8.6 .4-1.8 .4 7.9 .4-4.2 .4 4.3 .5-4.8 .4 5.3 .4-8.8 .4 5.2 .4-2.8 .4 7.9 .4-3.6 .4 5.6 .4-6.2 .4 4.9 .5-5.7 .4 4.8 .4-6.5 .4 8 .4-2.3 .4 6.3 .4-6.9 .4 5 .4-4.6 .5 1.4 .4-10.7 .4 7.2 .4-4.2 .4 6.4 .4-7 .4-.7 .4-11.3 .4 1 .4-13 .5 4.4 .4-2.8 .4 8.8 .4-2.9"/>
<path stroke="#0000ff" d="M41 231.6l.4 0 .4-1.3 .4 .1 .4-1.2 .4 .3 .5-1.1 .4 .4 .4-1 .4 .5 .4-.1 .4 1.3 .4 .4 .4 1.8 .4 .4 .5 1.5 .4-1.2 .4-.5 .4-2.3 .4-1.1 .4-1.8 .4 1.7 .4 .3 .4 1.7 .5 .7 .4 1.8 .4-1.5 .4-.9 .4-2.5 .4-.5 .4-2.1 .4-.3 .4-2 .4 .3 .5-1.7 .4-.1 .4-2.8 .4-.5 .4-2.4 .4 1 .4-2.1 .4 .6 .4-2 .5 2.6 .4-.5 .4 2.3 .4-.3 .4 2.8 .4 .2 .4 2.3 .4-.2 .4 2.4 .4-.3 .5 .4 .4-2.4 .4 .2 .4-2.4 .4 .3 .4-2.6 .4 .2 .4-.4 .4 2.4 .5-.2 .4 3.2 .4 .4 .4 1.8 .4-2.5 .4-.3 .4-2.9 .4 .2 .4-3.1 .4 .7 .5-2.1 .4 1.7 .4-2.3 .4 .9 .4-3.1 .4 1.5 .4-3 .4 1 .4-3.8 .5 1.6 .4-3.1 .4 1.8 .4-3.7 .4 1 .4-3.8 .4 1.5 .4-4.1 .4 3.7 .4-1.5 .5 4.3 .4-2.2 .4 3.3 .4-1.9 .4 4 .4-1.5 .4 3.2 .4-1.6 .4 4.1 .5-1.6 .4 3 .4-1.7 .4 2.7 .4-1.2 .4 3.1 .4-.7 .4 3.3 .4 0 .5 2.8 .4-.4 .4 4 .4 1.2 .4 2.5 .4-6.1 .4-3 .4-6.2 .4-.2 .4-5.9 .5-.8 .4-5.7 .4 .4 .4-4.9 .4 2.6 .4-1.6 .4 4.3 .4-1.8 .4 2.3 .5-3.1 .4 3.7 .4-1.7 .4 3.3 .4-2.7 .4 4.1 .4-1.5 .4 2.6 .4-2.1 .4 2.9 .5-.9 .4 3.3 .4-1.3 .4 3.4 .4-.9 .4 3.2 .4-1.3 .4 3.8 .4 .5 .5 4.2 .4 3.2 .4 6.2 .4-11 .4-8.5 .4-6.3 .4-2.1 .4-1 .4 4.6 .4 0 .5 2.8 .4-3.8 .4 1.6 .4-4.5 .4 1.2 .4-3.6 .4 2.4 .4-2.4 .4 3.2 .5-3.3 .4 1.4 .4-3.9 .4 2 .4-4.8 .4 2.2 .4-2.5 .4 3.9 .4-2.5 .4 3 .5-3.1 .4 2.9 .4-5.1 .4 1.6 .4-3.9 .4 2.9 .4-3.3 .4 .7 .4-7.2 .5 1 .4-6.6 .4 1 .4-7.7 .4 2.7 .4-5.6 .4 3.9 .4-6.6 .4 2.2 .4-7.3 .5 3 .4-5 .4 6.2 .4-2.2 .4 7.8 .4-1.9 .4 4 .4-7 .4 2.3 .5-7.7 .4 2.6 .4-6.4 .4 5.1 .4-5.3 .4 3.8 .4-6.1 .4 6.1 .4-3.7 .5 7.5 .4-3.8 .4 5.8 .4-5.6 .4 4 .4-8 .4 2.7 .4-6.3 .4 4 .4-7 .5 4.9 .4-6.1 .4 4 .4-9.8 .4 1.3 .4-8.3 .4 6.9 .4-3.7 .4 6.9 .5-4.6 .4 8.3 .4-3.7 .4 3.1 .4-10.1 .4 3.8 .4-6.8 .4 4.6 .4-7.9 .4 5.7 .5-6.1 .4 4.8 .4-10.4 .4 1.9 .4-8.5 .4 5.8 .4-7.7 .4 5.2 .4-5.7 .5 8.5 .4-8.8 .4 5.2 .4-8.1 .4 9.1 .4-4.2 .4 7.7 .4-4.9 .4 7.6 .4-5.3 .5 6 .4-6.7 .4 7.2 .4-2.6 .4 9.1 .4-4.2 .4 9.4 .4-3.9 .4 7.2 .5-6.5 .4 5.9 .4-2.4 .4 8.6 .4-2 .4 7.3 .4-1.8 .4 6.7 .4-3 .4 4.8 .5-3.3 .4 6.9 .4-2.2 .4 4.8 .4-3.3 .4 3.1 .4-4.9 .4 1.9 .4-5.2 .5 5.4 .4-1.1 .4 5.8 .4-1.8 .4 4.3 .4-3.1 .4 4.3 .4-4.2 .4 3.9 .4-.8 .5 6.2 .4-2.7 .4 3.3 .4-2.4 .4 3.9 .4-2.5 .4 4 .4-1.1 .4 4.9 .5-1.4 .4 2.7 .4-2.5 .4 3.8 .4-2.2 .4 3.5 .4-1.6 .4 4.1 .4-.6 .5 2.3 .4-3.4 .4 2.1 .4-3.6 .4 2 .4-4 .4 1.9 .4-3 .4 2.4 .4-4.7 .5 .3 .4-4.9 .4 1.1 .4-4.2 .4 1.3 .4-4.7 .4 2.3 .4-5.3 .4 .4 .5-5.7 .4 1.2 .4-4.9 .4 2.6 .4-4.8 .4 3.3 .4-4.1 .4 1.8 .4-6.2 .4 1.3 .5-3.6 .4 4.4 .4-4.1 .4 3.3 .4-3.3 .4 3.4 .4-5.3 .4 .1 .4-5.7 .5 1.8 .4-4.7 .4 2.1 .4-5.3 .4 3 .4-4.5 .4 2.7 .4-4.8 .4 4.9 .4-2.1 .5 4.8 .4-2.7 .4 4 .4-4.3 .4 2.2 .4-4.8 .4 2.5 .4-2.7 .4 4.9 .5-3.5 .4 4.7 .4-3.1 .4 3.9 .4-4.6 .4 3.4 .4-2.2 .4 4.8 .4-4.6 .4 2.4 .5-5.2 .4 3.5 .4-5 .4 2.3 .4-3.4 .4 5.5 .4-1.7 .4 4.1 .4-5.6 .5 2.4 .4-5.6 .4 1 .4-5.7 .4 4.3 .4-2.4 .4 4 .4-3.8 .4 1.6 .5-5 .4 2.8 .4-8.1 .4 1.8 .4-2.2 .4 5.2 .4-3.4 .4 2.6 .4-6.7 .4 3.5 .5-5.1 .4 2 .4-4.6 .4 4.8 .4-3.3 .4 2.8 .4-4.1 .4 5.2 .4-2.5 .5 5.3 .4-3.1 .4 7.6 .4 1.2 .4 7 .4-4.8 .4 2.5 .4-3.8 .4 3.8 .4-3.6 .5 4.1 .4-2 .4 5 .4-3.9 .4 2.7 .4-6.6 .4 3.7 .4-3.7 .4 4 .5-3.7 .4 4.8 .4-4.6 .4 1.6 .4-6.1 .4 2.8 .4-3.6 .4 5.1 .4-3.9 .4 3.4 .5-2 .4 4.5 .4-6.3 .4 2.3 .4-5.8 .4 1.7 .4-4.9 .4 3.1 .4-3.9 .5 4.4 .4-6.4 .4 .2 .4-7 .4 7.3 .4-2.8 .4 5.8 .4-1.9 .4 7.4 .4-2.2 .5 4.1 .4-3.9 .4 3.8 .4-2.1 .4 4.3 .4-4.8 .4 4.8 .4-4.2 .4 0 .5-10 .4-2.7 .4-7.6 .4 1.2 .4-9.1 .4-.9 .4-3.1 .4 3.2 .4-6.6 .4-.4 .5-3.1 .4 8.3 .4-1.2 .4 5.8 .4-5.6 .4 3.5 .4-6.1 .4 1.2 .4-8.1 .5 5.9 .4-2.8 .4 4.9 .4-4.6 .4 6.1 .4-5.6 .4 2.6 .4-8.5 .4 2 .5-1.8 .4 7.3 .4-4.3 .4 3.3 .4-4.6 .4 4.4 .4-6.1 .4 3 .4-3.1 .4 8 .5-1.2 .4 7.6 .4-4.2 .4 6.8 .4-3.8 .4 3.9 .4-5.9 .4 4.7 .4-3.8 .5 3.9 .4-6.7 .4 4.5 .4-4.3 .4 4.9 .4-4.1 .4 6.4 .4-.1 .4 6.8 .4-11.7 .5-4.4 .4-13 .4 .6 .4-8 .4 4.4 .4-2.9 .4 8 .4-6.9 .4 .6 .5-9 .4 2.8 .4-6.4 .4 5.8 .4-5.5 .4 8.2 .4-3 .4 .8 .4-8.7 .4 2.1 .5-5.6 .4 3 .4-4.2 .4 5 .4-3.1 .4 3.2 .4-8 .4 1.7 .4-6.2 .5 5.6 .4-1.8 .4 6.6 .4-.3 .4 6.1 .4-6 .4 2.7 .4-7.3 .4 7.1 .4-1.6 .5 6.3 .4-3.9 .4 7.4 .4-2.3 .4 1.6 .4-8.5 .4 2.3 .4-3.3 .4 8 .5-5.6 .4 5.4 .4-3.4 .4 3.9 .4-10.4 .4-.1 .4-7.3 .4 9.6 .4-5.5 .4 5.3 .5-5.7 .4 4.2 .4-5.9 .4 .5 .4-8.7 .4 8.7 .4-.2 .4 6.6 .4-6.5 .5 6.9 .4-3.9 .4 4.5 .4-8.6 .4 8 .4-1.9 .4 9 .4-5.4 .4 3.8 .5-5.1 .4 7.2 .4-6.5 .4 6.2 .4-3.3 .4 9.4 .4-5.2 .4 5.6 .4-5.9 .4 4.9 .5-7.3 .4 2.3 .4-7.6 .4 8.5 .4-3.8 .4 4.4 .4-7.9 .4 .6 .4-10.6 .5-.6 .4-5.7 .4 7.5 .4-2.4 .4 3.7 .4-10 .4 1.3 .4-5.3 .4 5.9 .4-8.4 .5 5.5 .4-2.3 .4 9 .4-3 .4 1.4 .4-7.1 .4 5.6 .4-6.1 .4 6.6 .5-3.8 .4 9.7 .4-7.7 .4 1.7 .4-11.6 .4 3.3 .4-4.9 .4 6.3 .4-8.3 .4 6.5 .5-2.9 .4 5.5 .4-12 .4 .2 .4-6 .4 9.9 .4-5.7 .4 5.3 .4-4.6 .5 9.3 .4-4.7 .4 2.8 .4-6.5 .4 5.6 .4-6.6 .4 10.8 .4 .8 .4 8 .4-7.3 .5 2.8 .4-8.8 .4 6.5 .4-4.1 .4 6.5 .4-5.9 .4 5.7 .4-2.4 .4 6.7 .5-9 .4 3.3 .4-3.8 .4 10.1 .4-6.6 .4 6.5 .4-1.3 .4 8.3 .4-4.5 .5 4.9 .4-4.3 .4 9.8 .4-2.1 .4 6 .4-4.9 .4 8.7 .4-4.2 .4 3.3 .4-6.7 .5 10.4 .4-.9 .4 7.3 .4-4.9 .4 6.5 .4-4.5 .4 6.3 .4-7.3 .4 4.3 .5-1.6 .4 7.5 .4-5.7 .4 3.6 .4-5.1 .4 5.3 .4-7.1 .4 3.1 .4-5.2 .4 7.1 .5-3.9 .4 5.1 .4-5.9 .4 3.8 .4-5.8 .4 3.5 .4-5.1 .4 8.3 .4-2.9 .5 6 .4-7.4 .4 4.7 .4-5.6 .4 5.3 .4-5.7 .4 6.3 .4-2.8 .4 7.5 .4-5.2 .5 2.7 .4-8.1 .4 2.9 .4-3.8 .4 4.7 .4-5.5 .4 7.4 .4-5.1 .4 3.4 .5-8.3 .4 4.3 .4-6.5 .4 4.1 .4-3.4 .4 8.2 .4-1.9 .4 7.3 .4-8.3 .4 1.2 .5-7 .4 2.8 .4-6 .4 6.8 .4-1.1 .4 4.5 .4-8.5 .4 .9 .4-5.6 .5 9.4 .4-4 .4 6.8 .4-.8 .4 9 .4-2.8 .4 .6 .4-9 .4 4.6 .4-2.8 .5 6.2 .4-4.9 .4 7.3 .4-3.1 .4 1.4 .4-8.9 .4 5.1 .4-1 .4 7.2 .5-5.4 .4 6.1 .4-4.8 .4 5.1 .4-7.2 .4 2.1 .4-8.8 .4 3.7 .4-9.4 .5 1.6 .4-6 .4 5.1 .4-7.7 .4 1.4 .4-9 .4 6.6 .4-2.9 .4 6.6 .4-4.5 .5 7.8 .4-5.9 .4 1.9 .4-10 .4 8.6 .4-1.5 .4 7.7 .4-4 .4 4.1 .5-4.6 .4 5.1 .4-8.8 .4 5 .4-2.6 .4 7.8 .4-3.3 .4 5.4 .4-6.1 .4 4.7 .5-5.6 .4 4.5 .4-6.3 .4 7.9 .4-2 .4 6 .4-6.7 .4 4.6 .4-4.4 .5 1.1 .4-10.6 .4 7 .4-3.8 .4 6.2 .4-6.8 .4-1.1 .4-11 .4 .7 .4-12.9 .5 4.2 .4-2.5 .4 8.8 .4-2.6"/>
<path stroke="#ff00ff" d="M41 230.9l.4-.1 .4-1.4 .4 .1 .4-1.2 .4 .3 .5-1.1 .4 .4 .4-1.1 .4 .5 .4-.1 .4 1.4 .4 .4 .4 1.9 .4 .5 .5 1.5 .4-1.2 .4-.6 .4-2.4 .4-1.2 .4-1.9 .4 1.8 .4 .4 .4 1.7 .5 .7 .4 2 .4-1.6 .4-1 .4-2.6 .4-.6 .4-2.2 .4-.3 .4-2.1 .4 .2 .5-1.7 .4-.2 .4-3 .4-.5 .4-2.5 .4 1 .4-2.2 .4 .6 .4-2.1 .5 2.6 .4-.4 .4 2.3 .4-.2 .4 2.9 .4 .2 .4 2.4 .4-.1 .4 2.5 .4-.3 .5 .3 .4-2.5 .4 .1 .4-2.5 .4 .2 .4-2.8 .4 .3 .4-.5 .4 2.6 .5-.3 .4 3.4 .4 .5 .4 1.9 .4-2.7 .4-.4 .4-3.1 .4 .2 .4-3.4 .4 .7 .5-2.2 .4 1.7 .4-2.5 .4 1 .4-3.4 .4 1.6 .4-3.4 .4 1.2 .4-4.2 .5 1.7 .4-3.5 .4 2 .4-4.1 .4 1 .4-4.2 .4 1.7 .4-4.6 .4 4.1 .4-1.8 .5 4.8 .4-2.4 .4 3.6 .4-2.1 .4 4.4 .4-1.6 .4 3.5 .4-1.8 .4 4.6 .5-1.9 .4 3.4 .4-1.9 .4 3 .4-1.3 .4 3.4 .4-.8 .4 3.7 .4 0 .5 3.1 .4-.4 .4 4.3 .4 1.4 .4 2.8 .4-6.8 .4-3.3 .4-6.8 .4-.2 .4-6.4 .5-.9 .4-6.3 .4 .4 .4-5.3 .4 2.8 .4-1.6 .4 4.6 .4-1.9 .4 2.5 .5-3.3 .4 4 .4-1.9 .4 3.6 .4-2.8 .4 4.4 .4-1.6 .4 2.8 .4-2.2 .4 3.1 .5-.9 .4 3.5 .4-1.3 .4 3.6 .4-.9 .4 3.5 .4-1.3 .4 4.1 .4 .5 .5 4.6 .4 3.6 .4 6.7 .4-12 .4-9.4 .4-6.7 .4-2.4 .4-.9 .4 4.9 .4 0 .5 3.1 .4-4 .4 1.5 .4-4.7 .4 1.1 .4-3.7 .4 2.5 .4-2.5 .4 3.4 .5-3.4 .4 1.2 .4-3.9 .4 1.9 .4-5 .4 2.2 .4-2.5 .4 4 .4-2.4 .4 3 .5-3.1 .4 2.9 .4-5.3 .4 1.5 .4-3.9 .4 2.9 .4-3.3 .4 .5 .4-7.5 .5 .8 .4-6.8 .4 .6 .4-7.9 .4 2.5 .4-5.7 .4 3.9 .4-6.8 .4 2 .4-7.5 .5 2.9 .4-5 .4 6.3 .4-2 .4 8.1 .4-1.7 .4 4 .4-7.2 .4 2.1 .5-7.9 .4 2.3 .4-6.5 .4 5.1 .4-5.3 .4 3.8 .4-6.2 .4 6.2 .4-3.6 .5 7.7 .4-3.7 .4 6 .4-5.7 .4 3.9 .4-8.2 .4 2.6 .4-6.4 .4 3.8 .4-7.1 .5 4.9 .4-6.1 .4 3.9 .4-10.1 .4 1 .4-8.6 .4 7.1 .4-3.5 .4 6.9 .5-4.4 .4 8.5 .4-3.5 .4 2.9 .4-10.4 .4 3.6 .4-6.8 .4 4.5 .4-8 .4 5.7 .5-6 .4 4.6 .4-10.7 .4 1.7 .4-8.7 .4 5.8 .4-7.8 .4 5.2 .4-5.7 .5 8.7 .4-9 .4 5.1 .4-8.1 .4 9.3 .4-4 .4 7.7 .4-4.7 .4 7.7 .4-5.2 .5 6 .4-6.8 .4 7.3 .4-2.2 .4 9.2 .4-4 .4 9.6 .4-3.7 .4 7.3 .5-6.5 .4 5.9 .4-2.1 .4 8.8 .4-1.7 .4 7.4 .4-1.6 .4 6.8 .4-2.8 .4 4.8 .5-3.2 .4 7.2 .4-2.2 .4 4.9 .4-3.3 .4 3.1 .4-5 .4 1.9 .4-5.3 .5 5.5 .4-1 .4 6.1 .4-1.8 .4 4.4 .4-3 .4 4.3 .4-4.3 .4 4 .4-.6 .5 6.4 .4-2.6 .4 3.3 .4-2.5 .4 4.1 .4-2.5 .4 4 .4-.9 .4 5.1 .5-1.4 .4 2.7 .4-2.4 .4 3.8 .4-2.2 .4 3.6 .4-1.5 .4 4.1 .4-.4 .5 2.3 .4-3.5 .4 2.1 .4-3.7 .4 2 .4-4 .4 1.9 .4-3.1 .4 2.5 .4-4.8 .5 .1 .4-5 .4 1.1 .4-4.3 .4 1.2 .4-4.7 .4 2.2 .4-5.3 .4 .3 .5-5.8 .4 1.1 .4-5 .4 2.6 .4-4.8 .4 3.4 .4-4.2 .4 1.8 .4-6.3 .4 1.2 .5-3.6 .4 4.5 .4-4.1 .4 3.3 .4-3.3 .4 3.5 .4-5.4 .4 0 .4-5.8 .5 1.8 .4-4.7 .4 2.1 .4-5.4 .4 3 .4-4.5 .4 2.6 .4-4.8 .4 4.9 .4-2 .5 4.8 .4-2.6 .4 3.9 .4-4.2 .4 2.2 .4-4.9 .4 2.5 .4-2.7 .4 4.9 .5-3.5 .4 4.8 .4-3.1 .4 3.9 .4-4.7 .4 3.5 .4-2.2 .4 4.8 .4-4.6 .4 2.3 .5-5.1 .4 3.4 .4-5.1 .4 2.3 .4-3.4 .4 5.6 .4-1.6 .4 4.1 .4-5.7 .5 2.4 .4-5.6 .4 .9 .4-5.9 .4 4.4 .4-2.3 .4 4.1 .4-3.9 .4 1.6 .5-5 .4 2.7 .4-8.2 .4 1.7 .4-2.1 .4 5.3 .4-3.4 .4 2.5 .4-6.7 .4 3.4 .5-5.1 .4 2 .4-4.7 .4 4.9 .4-3.3 .4 2.7 .4-4 .4 5.2 .4-2.5 .5 5.3 .4-3 .4 7.7 .4 1.3 .4 7.1 .4-4.9 .4 2.5 .4-3.9 .4 3.8 .4-3.6 .5 4.1 .4-1.9 .4 5 .4-4 .4 2.6 .4-6.6 .4 3.6 .4-3.6 .4 4.1 .5-3.7 .4 4.8 .4-4.6 .4 1.6 .4-6.2 .4 2.8 .4-3.6 .4 5.2 .4-3.9 .4 3.3 .5-1.8 .4 4.5 .4-6.4 .4 2.2 .4-5.8 .4 1.6 .4-4.9 .4 3.1 .4-3.8 .5 4.4 .4-6.5 .4 .1 .4-7.1 .4 7.3 .4-2.6 .4 5.8 .4-1.9 .4 7.4 .4-2.1 .5 4 .4-3.8 .4 3.7 .4-2 .4 4.3 .4-4.8 .4 4.8 .4-4.2 .4-.1 .5-10.2 .4-2.9 .4-7.5 .4 1.2 .4-9.1 .4-.9 .4-3.1 .4 3.2 .4-6.7 .4-.6 .5-3 .4 8.3 .4-.9 .4 5.7 .4-5.6 .4 3.4 .4-6.1 .4 1 .4-8.1 .5 5.9 .4-2.6 .4 4.8 .4-4.6 .4 6.2 .4-5.5 .4 2.4 .4-8.7 .4 2 .5-1.8 .4 7.4 .4-4.2 .4 3.1 .4-4.5 .4 4.3 .4-6.1 .4 2.8 .4-3 .4 8 .5-1.1 .4 7.5 .4-4.3 .4 6.8 .4-3.7 .4 3.8 .4-5.9 .4 4.6 .4-3.6 .5 3.7 .4-6.6 .4 4.4 .4-4.2 .4 4.9 .4-4.2 .4 6.4 .4 0 .4 6.9 .4-11.7 .5-4.6 .4-13 .4 .5 .4-8 .4 4.4 .4-2.7 .4 8.1 .4-7 .4 .5 .5-9 .4 2.7 .4-6.4 .4 6 .4-5.5 .4 8.3 .4-2.8 .4 .7 .4-8.8 .4 1.9 .5-5.5 .4 2.9 .4-4.1 .4 4.9 .4-3 .4 3.2 .4-8.1 .4 1.6 .4-6.2 .5 5.5 .4-1.7 .4 6.7 .4-.2 .4 6 .4-6 .4 2.6 .4-7.4 .4 7.1 .4-1.4 .5 6.2 .4-3.8 .4 7.3 .4-2.1 .4 1.4 .4-8.6 .4 2.1 .4-3.2 .4 8 .5-5.6 .4 5.4 .4-3.3 .4 3.8 .4-10.5 .4-.3 .4-7.3 .4 9.7 .4-5.4 .4 5.3 .5-5.7 .4 4.1 .4-5.8 .4 .3 .4-8.7 .4 8.7 .4 0 .4 6.5 .4-6.6 .5 6.9 .4-3.8 .4 4.3 .4-8.8 .4 8.1 .4-1.8 .4 9 .4-5.4 .4 3.6 .5-5 .4 7.1 .4-6.6 .4 6.2 .4-3.3 .4 9.6 .4-5.2 .4 5.5 .4-5.8 .4 4.8 .5-7.3 .4 2.1 .4-7.6 .4 8.5 .4-3.6 .4 4.5 .4-8 .4 .4 .4-10.6 .5-.8 .4-5.6 .4 7.6 .4-2.2 .4 3.7 .4-10.1 .4 1.1 .4-5.3 .4 5.9 .4-8.4 .5 5.5 .4-2.1 .4 9 .4-2.8 .4 1.2 .4-7 .4 5.4 .4-6 .4 6.6 .5-3.7 .4 9.8 .4-7.7 .4 1.5 .4-11.8 .4 3.2 .4-4.8 .4 6.3 .4-8.3 .4 6.4 .5-2.7 .4 5.4 .4-12.1 .4 0 .4-6 .4 10 .4-5.6 .4 5.3 .4-4.5 .5 9.3 .4-4.6 .4 2.7 .4-6.5 .4 5.5 .4-6.6 .4 11 .4 1 .4 8 .4-7.3 .5 2.6 .4-8.9 .4 6.5 .4-4 .4 6.5 .4-5.9 .4 5.6 .4-2.2 .4 6.6 .5-9 .4 3.1 .4-3.7 .4 10.3 .4-6.6 .4 6.4 .4-1.2 .4 8.4 .4-4.5 .5 4.8 .4-4.3 .4 9.9 .4-1.9 .4 5.9 .4-4.9 .4 8.7 .4-4.1 .4 3.1 .4-6.8 .5 10.4 .4-.7 .4 7.3 .4-4.9 .4 6.5 .4-4.5 .4 6.3 .4-7.3 .4 4.2 .5-1.4 .4 7.5 .4-5.6 .4 3.5 .4-5 .4 5.3 .4-7.2 .4 3 .4-5 .4 7.1 .5-3.7 .4 4.9 .4-5.8 .4 3.6 .4-5.8 .4 3.4 .4-5.1 .4 8.4 .4-2.8 .5 6 .4-7.4 .4 4.5 .4-5.5 .4 5.2 .4-5.6 .4 6.2 .4-2.6 .4 7.5 .4-5.1 .5 2.5 .4-8.1 .4 2.8 .4-3.7 .4 4.7 .4-5.5 .4 7.5 .4-5 .4 3.2 .5-8.3 .4 4.2 .4-6.5 .4 4.1 .4-3.3 .4 8.2 .4-1.7 .4 7.3 .4-8.4 .4 .9 .5-6.9 .4 2.7 .4-6 .4 6.9 .4-.8 .4 4.4 .4-8.6 .4 .8 .4-5.6 .5 9.5 .4-3.8 .4 6.7 .4-.6 .4 9.1 .4-2.7 .4 .4 .4-9.2 .4 4.6 .4-2.7 .5 6.1 .4-4.8 .4 7.3 .4-3 .4 1.2 .4-9 .4 5 .4-.7 .4 7.1 .5-5.3 .4 6.1 .4-4.7 .4 5.1 .4-7.3 .4 2 .4-8.7 .4 3.8 .4-9.2 .5 1.6 .4-6 .4 5.1 .4-7.8 .4 1.2 .4-9 .4 6.5 .4-2.7 .4 6.5 .4-4.4 .5 7.8 .4-5.8 .4 1.6 .4-10.1 .4 8.6 .4-1.3 .4 7.7 .4-3.9 .4 3.9 .5-4.5 .4 5 .4-8.8 .4 4.8 .4-2.4 .4 7.8 .4-3.2 .4 5.3 .4-6.1 .4 4.6 .5-5.6 .4 4.4 .4-6.3 .4 7.9 .4-1.8 .4 5.9 .4-6.8 .4 4.5 .4-4.3 .5 .9 .4-10.8 .4 7.1 .4-3.6 .4 6.2 .4-6.7 .4-1.3 .4-11.1 .4 .6 .4-12.9 .5 4.1 .4-2.2 .4 8.9 .4-2.4"/>
<path stroke="#00ff00" d="M41 230.1l.4-.1 .4-1.4 .4 0 .4-1.2 .4 .3 .5-1.2 .4 .4 .4-1.1 .4 .5 .4-.1 .4 1.5 .4 .4 .4 2 .4 .5 .5 1.6 .4-1.3 .4-.6 .4-2.6 .4-1.2 .4-2 .4 1.9 .4 .4 .4 1.8 .5 .8 .4 2 .4-1.7 .4-1 .4-2.7 .4-.7 .4-2.3 .4-.4 .4-2.1 .4 .1 .5-1.7 .4-.3 .4-3.1 .4-.7 .4-2.5 .4 1 .4-2.3 .4 .5 .4-2.1 .5 2.7 .4-.4 .4 2.4 .4-.2 .4 3 .4 .3 .4 2.4 .4-.1 .4 2.6 .4-.2 .5 .3 .4-2.7 .4 0 .4-2.6 .4 .1 .4-2.9 .4 .1 .4-.4 .4 2.7 .5-.2 .4 3.5 .4 .6 .4 1.9 .4-2.8 .4-.5 .4-3.2 .4 0 .4-3.5 .4 .5 .5-2.2 .4 1.7 .4-2.6 .4 .9 .4-3.6 .4 1.5 .4-3.4 .4 1 .4-4.4 .5 1.7 .4-3.6 .4 1.8 .4-4.2 .4 .8 .4-4.3 .4 1.5 .4-4.7 .4 4.1 .4-1.6 .5 4.8 .4-2.3 .4 3.6 .4-2 .4 4.5 .4-1.5 .4 3.6 .4-1.7 .4 4.8 .5-1.8 .4 3.4 .4-1.8 .4 3.1 .4-1.2 .4 3.5 .4-.7 .4 3.9 .4 .1 .5 3.3 .4-.3 .4 4.6 .4 1.7 .4 2.9 .4-7.3 .4-3.7 .4-7.3 .4-.4 .4-6.8 .5-1.2 .4-6.6 .4 .2 .4-5.6 .4 2.9 .4-1.6 .4 4.9 .4-1.9 .4 2.5 .5-3.4 .4 4.2 .4-1.8 .4 3.7 .4-2.9 .4 4.6 .4-1.5 .4 2.9 .4-2.2 .4 3.1 .5-.8 .4 3.8 .4-1.3 .4 3.8 .4-.9 .4 3.7 .4-1.4 .4 4.4 .4 .8 .5 4.8 .4 4 .4 7.2 .4-12.9 .4-10.3 .4-7.2 .4-2.7 .4-.9 .4 5.2 .4 .2 .5 3.2 .4-4.3 .4 1.6 .4-5 .4 1.1 .4-3.9 .4 2.6 .4-2.6 .4 3.6 .5-3.6 .4 1.3 .4-4.2 .4 2 .4-5.3 .4 2.2 .4-2.5 .4 4.3 .4-2.6 .4 3.2 .5-3.3 .4 3.1 .4-5.7 .4 1.6 .4-4.2 .4 3.1 .4-3.5 .4 .5 .4-8.1 .5 .8 .4-7.3 .4 .7 .4-8.5 .4 2.6 .4-6 .4 4.1 .4-7.3 .4 2.1 .4-8.1 .5 3.1 .4-5.3 .4 6.7 .4-2 .4 8.6 .4-1.7 .4 4.2 .4-7.7 .4 2.3 .5-8.6 .4 2.5 .4-6.9 .4 5.4 .4-5.6 .4 4 .4-6.6 .4 6.6 .4-3.7 .5 8.2 .4-3.9 .4 6.4 .4-6 .4 4 .4-8.7 .4 2.7 .4-6.8 .4 4.1 .4-7.5 .5 5.1 .4-6.5 .4 4.2 .4-10.8 .4 1 .4-9.1 .4 7.6 .4-3.7 .4 7.4 .5-4.7 .4 9.1 .4-3.7 .4 3.1 .4-11 .4 3.7 .4-7.2 .4 4.8 .4-8.5 .4 6 .5-6.3 .4 4.9 .4-11.4 .4 1.8 .4-9.2 .4 6.1 .4-8.2 .4 5.4 .4-6 .5 9.4 .4-9.6 .4 5.4 .4-8.6 .4 9.9 .4-4.2 .4 8.3 .4-5 .4 8.2 .4-5.5 .5 6.3 .4-7.1 .4 7.8 .4-2.4 .4 9.9 .4-4.3 .4 10.3 .4-3.9 .4 7.8 .5-7 .4 6.3 .4-2.2 .4 9.5 .4-1.9 .4 7.9 .4-1.6 .4 7.3 .4-3 .4 5.1 .5-3.4 .4 7.6 .4-2.2 .4 5.2 .4-3.5 .4 3.3 .4-5.3 .4 2 .4-5.6 .5 5.9 .4-1 .4 6.4 .4-1.8 .4 4.6 .4-3.1 .4 4.5 .4-4.5 .4 4.2 .4-.5 .5 6.7 .4-2.7 .4 3.5 .4-2.6 .4 4.3 .4-2.7 .4 4.4 .4-1 .4 5.4 .5-1.4 .4 2.8 .4-2.6 .4 4 .4-2.2 .4 3.8 .4-1.6 .4 4.4 .4-.5 .5 2.4 .4-3.7 .4 2.3 .4-3.9 .4 2.2 .4-4.3 .4 2 .4-3.2 .4 2.6 .4-5 .5 .1 .4-5.2 .4 1.1 .4-4.5 .4 1.3 .4-4.9 .4 2.4 .4-5.6 .4 .3 .5-6.1 .4 1.3 .4-5.2 .4 2.7 .4-5 .4 3.6 .4-4.3 .4 1.9 .4-6.6 .4 1.3 .5-3.7 .4 4.7 .4-4.3 .4 3.4 .4-3.3 .4 3.6 .4-5.6 .4 0 .4-6 .5 1.9 .4-4.9 .4 2.2 .4-5.6 .4 3.3 .4-4.7 .4 2.7 .4-5 .4 5.1 .4-2.2 .5 5.1 .4-2.7 .4 4.1 .4-4.4 .4 2.3 .4-5.1 .4 2.6 .4-2.8 .4 5.1 .5-3.6 .4 5 .4-3.2 .4 4 .4-4.9 .4 3.6 .4-2.2 .4 5 .4-4.8 .4 2.4 .5-5.3 .4 3.6 .4-5.3 .4 2.2 .4-3.4 .4 5.7 .4-1.6 .4 4.3 .4-5.9 .5 2.5 .4-5.9 .4 1 .4-6 .4 4.5 .4-2.4 .4 4.3 .4-3.9 .4 1.6 .5-5.2 .4 2.9 .4-8.6 .4 1.8 .4-2.2 .4 5.6 .4-3.5 .4 2.6 .4-7 .4 3.6 .5-5.3 .4 2 .4-4.8 .4 5.1 .4-3.4 .4 2.8 .4-4.2 .4 5.4 .4-2.6 .5 5.4 .4-3.1 .4 7.9 .4 1.4 .4 7.4 .4-5.1 .4 2.4 .4-4 .4 3.9 .4-3.7 .5 4.2 .4-2 .4 5.1 .4-4 .4 2.6 .4-6.9 .4 3.8 .4-3.7 .4 4.3 .5-3.8 .4 5 .4-4.6 .4 1.5 .4-6.3 .4 2.8 .4-3.6 .4 5.3 .4-4 .4 3.4 .5-1.8 .4 4.6 .4-6.5 .4 2.2 .4-6 .4 1.7 .4-5 .4 3.1 .4-3.8 .5 4.5 .4-6.6 .4 .1 .4-7.3 .4 7.5 .4-2.7 .4 5.9 .4-2 .4 7.7 .4-2.2 .5 4 .4-3.9 .4 3.7 .4-1.9 .4 4.4 .4-4.9 .4 4.9 .4-4.3 .4-.1 .5-10.4 .4-3.1 .4-7.5 .4 1.3 .4-9.2 .4-.9 .4-3 .4 3.2 .4-6.8 .4-.8 .5-3 .4 8.5 .4-.9 .4 5.8 .4-5.6 .4 3.3 .4-6.2 .4 1 .4-8.3 .5 6 .4-2.5 .4 4.9 .4-4.6 .4 6.2 .4-5.6 .4 2.4 .4-8.8 .4 1.8 .5-1.7 .4 7.5 .4-4.2 .4 3.1 .4-4.6 .4 4.3 .4-6.2 .4 2.8 .4-3.1 .4 8.1 .5-1.1 .4 7.6 .4-4.4 .4 6.8 .4-3.7 .4 3.7 .4-6 .4 4.7 .4-3.6 .5 3.8 .4-6.8 .4 4.4 .4-4.2 .4 4.9 .4-4.2 .4 6.3 .4 .1 .4 7.1 .4-11.7 .5-4.7 .4-13.1 .4 .5 .4-8.1 .4 4.4 .4-2.6 .4 8.2 .4-6.9 .4 .3 .5-9.1 .4 2.8 .4-6.4 .4 6 .4-5.3 .4 8.4 .4-2.7 .4 .5 .4-8.9 .4 1.9 .5-5.6 .4 2.9 .4-4.1 .4 5 .4-2.9 .4 3.1 .4-8.2 .4 1.5 .4-6.3 .5 5.5 .4-1.6 .4 6.7 .4 0 .4 6 .4-6.1 .4 2.5 .4-7.5 .4 7.1 .4-1.3 .5 6.3 .4-3.9 .4 7.4 .4-2 .4 1.1 .4-8.7 .4 2 .4-3.2 .4 8.1 .5-5.6 .4 5.4 .4-3.2 .4 3.8 .4-10.7 .4-.5 .4-7.3 .4 9.9 .4-5.4 .4 5.2 .5-5.6 .4 4.1 .4-5.8 .4 .2 .4-8.9 .4 8.8 .4 .1 .4 6.5 .4-6.6 .5 6.8 .4-3.8 .4 4.2 .4-8.9 .4 8.1 .4-1.7 .4 9.1 .4-5.5 .4 3.4 .5-5 .4 7.1 .4-6.6 .4 6.1 .4-3.2 .4 9.6 .4-5.1 .4 5.5 .4-5.8 .4 4.8 .5-7.4 .4 1.9 .4-7.6 .4 8.6 .4-3.4 .4 4.4 .4-7.9 .4 .2 .4-10.7 .5-1 .4-5.5 .4 7.7 .4-1.9 .4 3.6 .4-10.3 .4 1 .4-5.3 .4 6 .4-8.5 .5 5.5 .4-2 .4 9.1 .4-2.6 .4 1.1 .4-7.1 .4 5.4 .4-6 .4 6.6 .5-3.6 .4 9.9 .4-7.7 .4 1.3 .4-12 .4 3.2 .4-4.8 .4 6.3 .4-8.3 .4 6.4 .5-2.6 .4 5.4 .4-12.3 .4-.2 .4-6 .4 10.2 .4-5.6 .4 5.3 .4-4.4 .5 9.4 .4-4.6 .4 2.6 .4-6.6 .4 5.5 .4-6.6 .4 11.1 .4 1.2 .4 8.2 .4-7.4 .5 2.5 .4-9 .4 6.5 .4-4 .4 6.5 .4-5.9 .4 5.6 .4-2.1 .4 6.6 .5-9.1 .4 3 .4-3.6 .4 10.4 .4-6.7 .4 6.5 .4-1.1 .4 8.4 .4-4.5 .5 4.7 .4-4.3 .4 10 .4-1.8 .4 5.9 .4-5 .4 8.9 .4-4.2 .4 2.9 .4-6.9 .5 10.6 .4-.5 .4 7.3 .4-5 .4 6.5 .4-4.4 .4 6.2 .4-7.4 .4 4.1 .5-1.2 .4 7.6 .4-5.6 .4 3.5 .4-5 .4 5.4 .4-7.2 .4 2.9 .4-5 .4 7.3 .5-3.7 .4 4.9 .4-5.9 .4 3.6 .4-5.8 .4 3.2 .4-5 .4 8.5 .4-2.7 .5 5.9 .4-7.5 .4 4.5 .4-5.5 .4 5.2 .4-5.7 .4 6.2 .4-2.5 .4 7.7 .4-5.1 .5 2.4 .4-8.2 .4 2.7 .4-3.6 .4 4.7 .4-5.5 .4 7.6 .4-5 .4 3.2 .5-8.4 .4 4.2 .4-6.5 .4 4 .4-3.2 .4 8.3 .4-1.6 .4 7.4 .4-8.6 .4 .8 .5-7 .4 2.6 .4-5.9 .4 6.9 .4-.6 .4 4.4 .4-8.7 .4 .7 .4-5.6 .5 9.7 .4-3.8 .4 6.8 .4-.5 .4 9.2 .4-2.5 .4 .1 .4-9.3 .4 4.4 .4-2.6 .5 6.2 .4-4.8 .4 7.3 .4-2.9 .4 1.1 .4-9.3 .4 5 .4-.5 .4 7.2 .5-5.3 .4 6.2 .4-4.6 .4 5 .4-7.3 .4 1.9 .4-8.6 .4 3.9 .4-9.1 .5 1.6 .4-6 .4 5.1 .4-7.9 .4 1.1 .4-9.2 .4 6.6 .4-2.7 .4 6.6 .4-4.4 .5 7.8 .4-5.9 .4 1.5 .4-10.2 .4 8.6 .4-1.1 .4 7.7 .4-3.8 .4 3.8 .5-4.5 .4 5 .4-9 .4 4.8 .4-2.3 .4 7.9 .4-3.2 .4 5.3 .4-6.2 .4 4.5 .5-5.5 .4 4.3 .4-6.4 .4 7.9 .4-1.7 .4 5.9 .4-6.9 .4 4.5 .4-4.4 .5 .8 .4-10.9 .4 7.1 .4-3.4 .4 6.2 .4-6.7 .4-1.5 .4-11.1 .4 .6 .4-13.1 .5 4.3 .4-2.1 .4 9 .4-2.3"/>
<path stroke="#ffff00" d="M41 229.4l.4-.2 .4-1.4 .4 0 .4-1.3 .4 .2 .5-1.1 .4 .3 .4-1.1 .4 .5 .4-.1 .4 1.5 .4 .5 .4 2.1 .4 .6 .5 1.6 .4-1.3 .4-.7 .4-2.7 .4-1.4 .4-2 .4 2 .4 .4 .4 1.9 .5 .9 .4 2.1 .4-1.8 .4-1.1 .4-2.8 .4-.8 .4-2.4 .4-.5 .4-2.2 .4 .1 .5-1.7 .4-.4 .4-3.2 .4-.8 .4-2.6 .4 .9 .4-2.3 .4 .5 .4-2.1 .5 2.7 .4-.4 .4 2.4 .4-.1 .4 3.1 .4 .4 .4 2.4 .4 0 .4 2.7 .4-.2 .5 .2 .4-2.8 .4-.1 .4-2.7 .4 0 .4-3 .4 0 .4-.3 .4 2.7 .5-.1 .4 3.6 .4 .7 .4 2 .4-2.9 .4-.8 .4-3.3 .4-.1 .4-3.7 .4 .5 .5-2.3 .4 1.7 .4-2.7 .4 .8 .4-3.7 .4 1.4 .4-3.5 .4 .8 .4-4.5 .5 1.5 .4-3.6 .4 1.7 .4-4.4 .4 .7 .4-4.5 .4 1.3 .4-4.9 .4 4.2 .4-1.5 .5 4.9 .4-2.3 .4 3.7 .4-1.9 .4 4.7 .4-1.4 .4 3.7 .4-1.7 .4 5 .5-1.7 .4 3.5 .4-1.8 .4 3.2 .4-1.1 .4 3.6 .4-.6 .4 4.1 .4 .3 .5 3.4 .4-.1 .4 4.8 .4 2 .4 3 .4-7.8 .4-4.2 .4-7.7 .4-.6 .4-7.2 .5-1.5 .4-6.9 .4-.1 .4-5.7 .4 2.8 .4-1.4 .4 5 .4-1.7 .4 2.5 .5-3.5 .4 4.2 .4-1.6 .4 3.8 .4-2.9 .4 4.7 .4-1.3 .4 2.8 .4-2.2 .4 3.3 .5-.7 .4 3.9 .4-1.2 .4 3.9 .4-.7 .4 3.7 .4-1.2 .4 4.5 .4 1 .5 5.1 .4 4.5 .4 7.6 .4-13.8 .4-11.3 .4-7.6 .4-3.1 .4-.7 .4 5.4 .4 .4 .5 3.2 .4-4.3 .4 1.4 .4-5.1 .4 1 .4-4.1 .4 2.7 .4-2.6 .4 3.6 .5-3.6 .4 1.2 .4-4.3 .4 1.9 .4-5.5 .4 2.2 .4-2.5 .4 4.4 .4-2.5 .4 3.2 .5-3.4 .4 3.2 .4-5.8 .4 1.4 .4-4.3 .4 3.2 .4-3.5 .4 .2 .4-8.4 .5 .6 .4-7.5 .4 .3 .4-8.8 .4 2.5 .4-6.1 .4 4 .4-7.4 .4 1.8 .4-8.3 .5 2.9 .4-5.2 .4 6.8 .4-1.8 .4 8.9 .4-1.5 .4 4.2 .4-7.9 .4 2.1 .5-8.8 .4 2.3 .4-7.1 .4 5.4 .4-5.5 .4 3.9 .4-6.7 .4 6.6 .4-3.5 .5 8.4 .4-3.8 .4 6.5 .4-6 .4 3.9 .4-8.9 .4 2.5 .4-6.9 .4 4 .4-7.6 .5 5.1 .4-6.5 .4 4 .4-11.1 .4 .7 .4-9.3 .4 7.7 .4-3.6 .4 7.5 .5-4.4 .4 9.3 .4-3.5 .4 2.9 .4-11.4 .4 3.6 .4-7.3 .4 4.7 .4-8.6 .4 6 .5-6.3 .4 4.8 .4-11.7 .4 1.5 .4-9.3 .4 6.1 .4-8.4 .4 5.4 .4-5.9 .5 9.5 .4-9.7 .4 5.3 .4-8.7 .4 10.1 .4-4 .4 8.4 .4-4.9 .4 8.4 .4-5.4 .5 6.3 .4-7.2 .4 7.9 .4-2 .4 10.1 .4-4.2 .4 10.6 .4-3.7 .4 7.8 .5-6.9 .4 6.3 .4-2 .4 9.8 .4-1.7 .4 8.2 .4-1.4 .4 7.4 .4-2.9 .4 5.2 .5-3.4 .4 7.9 .4-2.1 .4 5.3 .4-3.5 .4 3.3 .4-5.3 .4 1.8 .4-5.7 .5 6 .4-.8 .4 6.6 .4-1.7 .4 4.7 .4-3.1 .4 4.6 .4-4.5 .4 4.3 .4-.4 .5 6.9 .4-2.6 .4 3.5 .4-2.6 .4 4.4 .4-2.6 .4 4.4 .4-.9 .4 5.6 .5-1.3 .4 2.8 .4-2.6 .4 4.1 .4-2.2 .4 3.9 .4-1.6 .4 4.6 .4-.4 .5 2.4 .4-3.7 .4 2.2 .4-3.9 .4 2.1 .4-4.3 .4 1.9 .4-3.1 .4 2.6 .4-5.1 .5-.1 .4-5.3 .4 1.1 .4-4.6 .4 1.3 .4-5 .4 2.4 .4-5.7 .4 .2 .5-6.2 .4 1.1 .4-5.2 .4 2.7 .4-5 .4 3.6 .4-4.3 .4 1.9 .4-6.7 .4 1.2 .5-3.7 .4 4.8 .4-4.3 .4 3.4 .4-3.3 .4 3.7 .4-5.7 .4-.1 .4-6.1 .5 1.8 .4-4.9 .4 2.2 .4-5.6 .4 3.2 .4-4.7 .4 2.7 .4-5.1 .4 5.2 .4-2.1 .5 5.1 .4-2.7 .4 4.2 .4-4.4 .4 2.2 .4-5.1 .4 2.5 .4-2.7 .4 5.2 .5-3.6 .4 5 .4-3.2 .4 4 .4-4.9 .4 3.5 .4-2.1 .4 5.1 .4-4.8 .4 2.3 .5-5.3 .4 3.5 .4-5.3 .4 2.2 .4-3.5 .4 5.8 .4-1.5 .4 4.3 .4-5.9 .5 2.4 .4-5.9 .4 .8 .4-6 .4 4.6 .4-2.3 .4 4.3 .4-3.9 .4 1.5 .5-5.2 .4 2.8 .4-8.7 .4 1.7 .4-2 .4 5.6 .4-3.5 .4 2.6 .4-7.1 .4 3.6 .5-5.3 .4 1.9 .4-4.8 .4 5.1 .4-3.3 .4 2.8 .4-4.3 .4 5.4 .4-2.5 .5 5.3 .4-3.1 .4 8.1 .4 1.6 .4 7.5 .4-5.2 .4 2.4 .4-4.1 .4 3.9 .4-3.8 .5 4.2 .4-1.9 .4 5.2 .4-4.1 .4 2.5 .4-6.9 .4 3.7 .4-3.6 .4 4.3 .5-3.7 .4 5.1 .4-4.7 .4 1.5 .4-6.4 .4 2.7 .4-3.5 .4 5.3 .4-3.9 .4 3.4 .5-1.7 .4 4.6 .4-6.6 .4 2.1 .4-6 .4 1.6 .4-5 .4 3.1 .4-3.8 .5 4.6 .4-6.7 .4 0 .4-7.4 .4 7.6 .4-2.7 .4 5.9 .4-1.8 .4 7.7 .4-2.2 .5 4 .4-3.9 .4 3.7 .4-1.9 .4 4.5 .4-5 .4 4.9 .4-4.2 .4-.3 .5-10.5 .4-3.3 .4-7.5 .4 1.3 .4-9.2 .4-.9 .4-2.9 .4 3.1 .4-6.9 .4-1 .5-2.9 .4 8.6 .4-.7 .4 5.8 .4-5.7 .4 3.3 .4-6.2 .4 .9 .4-8.4 .5 6 .4-2.4 .4 4.9 .4-4.6 .4 6.3 .4-5.6 .4 2.3 .4-9 .4 1.7 .5-1.6 .4 7.5 .4-4.1 .4 3 .4-4.6 .4 4.3 .4-6.2 .4 2.6 .4-3 .4 8.1 .5-1 .4 7.5 .4-4.4 .4 6.8 .4-3.8 .4 3.7 .4-6 .4 4.7 .4-3.5 .5 3.7 .4-6.8 .4 4.4 .4-4.2 .4 4.9 .4-4.4 .4 6.4 .4 .2 .4 7.1 .4-11.6 .5-4.8 .4-13.1 .4 .4 .4-8.2 .4 4.4 .4-2.5 .4 8.4 .4-7 .4 .2 .5-9.2 .4 2.8 .4-6.3 .4 6.1 .4-5.3 .4 8.6 .4-2.6 .4 .4 .4-9 .4 1.8 .5-5.6 .4 2.8 .4-4 .4 5 .4-2.9 .4 3.1 .4-8.3 .4 1.4 .4-6.3 .5 5.5 .4-1.6 .4 6.8 .4 .1 .4 6 .4-6.1 .4 2.3 .4-7.6 .4 7.2 .4-1.3 .5 6.3 .4-3.9 .4 7.5 .4-2 .4 1 .4-8.9 .4 1.9 .4-3.1 .4 8.1 .5-5.6 .4 5.4 .4-3.1 .4 3.7 .4-10.8 .4-.7 .4-7.4 .4 10.1 .4-5.3 .4 5.2 .5-5.6 .4 4.1 .4-5.9 .4 .1 .4-9 .4 9 .4 .2 .4 6.4 .4-6.7 .5 6.8 .4-3.8 .4 4.1 .4-9 .4 8.1 .4-1.6 .4 9.1 .4-5.5 .4 3.3 .5-5.1 .4 7.2 .4-6.8 .4 6 .4-3.1 .4 9.8 .4-5.2 .4 5.6 .4-5.9 .4 4.8 .5-7.4 .4 1.7 .4-7.6 .4 8.7 .4-3.3 .4 4.4 .4-7.9 .4 .1 .4-10.8 .5-1.2 .4-5.5 .4 7.9 .4-1.7 .4 3.6 .4-10.4 .4 .8 .4-5.2 .4 6 .4-8.6 .5 5.4 .4-1.8 .4 9.3 .4-2.5 .4 .9 .4-7.1 .4 5.4 .4-6.1 .4 6.8 .5-3.6 .4 10 .4-7.7 .4 1.1 .4-12.1 .4 3 .4-4.7 .4 6.3 .4-8.4 .4 6.5 .5-2.5 .4 5.4 .4-12.5 .4-.4 .4-6 .4 10.3 .4-5.5 .4 5.3 .4-4.4 .5 9.6 .4-4.5 .4 2.4 .4-6.6 .4 5.4 .4-6.6 .4 11.3 .4 1.4 .4 8.2 .4-7.4 .5 2.3 .4-9.1 .4 6.5 .4-3.9 .4 6.5 .4-5.9 .4 5.6 .4-2 .4 6.7 .5-9.4 .4 3 .4-3.6 .4 10.6 .4-6.7 .4 6.4 .4-1 .4 8.5 .4-4.5 .5 4.6 .4-4.2 .4 10 .4-1.7 .4 5.9 .4-5 .4 8.9 .4-4.2 .4 2.8 .4-7 .5 10.7 .4-.4 .4 7.3 .4-5 .4 6.5 .4-4.4 .4 6.3 .4-7.6 .4 4.1 .5-1.2 .4 7.8 .4-5.5 .4 3.4 .4-4.9 .4 5.4 .4-7.2 .4 2.8 .4-4.9 .4 7.4 .5-3.7 .4 4.9 .4-5.9 .4 3.5 .4-5.8 .4 3.1 .4-5 .4 8.6 .4-2.6 .5 5.9 .4-7.6 .4 4.4 .4-5.6 .4 5.3 .4-5.7 .4 6.2 .4-2.4 .4 7.7 .4-5 .5 2.3 .4-8.3 .4 2.6 .4-3.5 .4 4.7 .4-5.5 .4 7.7 .4-4.9 .4 3.1 .5-8.5 .4 4.2 .4-6.6 .4 4 .4-3.2 .4 8.4 .4-1.4 .4 7.4 .4-8.7 .4 .6 .5-7 .4 2.5 .4-5.9 .4 7 .4-.4 .4 4.4 .4-8.8 .4 .6 .4-5.6 .5 9.9 .4-3.8 .4 6.8 .4-.2 .4 9.3 .4-2.5 .4-.1 .4-9.5 .4 4.4 .4-2.5 .5 6.2 .4-4.8 .4 7.4 .4-2.9 .4 .9 .4-9.4 .4 5 .4-.5 .4 7.4 .5-5.3 .4 6.2 .4-4.5 .4 5 .4-7.4 .4 1.9 .4-8.6 .4 4.1 .4-9 .5 1.6 .4-6 .4 5 .4-7.9 .4 .9 .4-9.3 .4 6.6 .4-2.6 .4 6.6 .4-4.4 .5 7.9 .4-5.9 .4 1.4 .4-10.5 .4 8.7 .4-1 .4 7.9 .4-3.9 .4 3.8 .5-4.5 .4 5 .4-9.2 .4 4.8 .4-2.3 .4 8 .4-3.2 .4 5.3 .4-6.2 .4 4.5 .5-5.6 .4 4.2 .4-6.4 .4 8 .4-1.6 .4 5.8 .4-7 .4 4.4 .4-4.3 .5 .6 .4-11.1 .4 7.2 .4-3.3 .4 6.3 .4-6.7 .4-1.6 .4-11.1 .4 .4 .4-13.1 .5 4.3 .4-2 .4 9.2 .4-2.2"/>
<path stroke="#000" stroke-width="1" d="M41 244.8H390.5"/>
</g>
<rect x="41" y="0.6" width="349.5" height="265.7" fill="none" stroke="#1a1a1a" stroke-width="1"/>
<path d="M47.8 266.3v-3.4 M47.8 0.6v3.4M82.1 266.3v-3.4 M82.1 0.6v3.4M116.3 266.3v-3.4 M116.3 0.6v3.4M150.5 266.3v-3.4 M150.5 0.6v3.4M184.7 266.3v-3.4 M184.7 0.6v3.4M218.9 266.3v-3.4 M218.9 0.6v3.4M253.1 266.3v-3.4 M253.1 0.6v3.4M287.3 266.3v-3.4 M287.3 0.6v3.4M321.6 266.3v-3.4 M321.6 0.6v3.4M355.8 266.3v-3.4 M355.8 0.6v3.4M390.0 266.3v-3.4 M390.0 0.6v3.4M41 244.8h3.4 M390.5 244.8h-3.4M41 200.6h3.4 M390.5 200.6h-3.4M41 156.4h3.4 M390.5 156.4h-3.4M41 112.2h3.4 M390.5 112.2h-3.4M41 68.0h3.4 M390.5 68.0h-3.4M41 23.8h3.4 M390.5 23.8h-3.4" stroke="#1a1a1a" stroke-width="0.9" fill="none"/>
<g font-family="Liberation Sans, Arial, sans-serif" font-size="10.7" fill="#111">
<text x="48.1" y="279.7" text-anchor="middle">0</text>
<text x="82.4" y="279.7" text-anchor="middle">5</text>
<text x="116.6" y="279.7" text-anchor="middle">10</text>
<text x="150.8" y="279.7" text-anchor="middle">15</text>
<text x="185.0" y="279.7" text-anchor="middle">20</text>
<text x="219.2" y="279.7" text-anchor="middle">25</text>
<text x="253.4" y="279.7" text-anchor="middle">30</text>
<text x="287.6" y="279.7" text-anchor="middle">35</text>
<text x="321.9" y="279.7" text-anchor="middle">40</text>
<text x="356.1" y="279.7" text-anchor="middle">45</text>
<text x="390.3" y="279.7" text-anchor="middle">50</text>
<text x="37.9" y="248.6" text-anchor="end">0</text>
<text x="37.9" y="204.4" text-anchor="end">5</text>
<text x="37.9" y="160.2" text-anchor="end">10</text>
<text x="37.9" y="116.0" text-anchor="end">15</text>
<text x="37.9" y="71.8" text-anchor="end">20</text>
<text x="37.9" y="27.6" text-anchor="end">25</text>
<text x="216" y="298.9" text-anchor="middle" font-size="11.5">t</text>
<text transform="translate(11.4,129.8) rotate(-90)" text-anchor="middle" font-size="12.3">v<tspan dy="2.8" font-size="9.6">5</tspan><tspan dy="-2.8">(t,x)</tspan></text>
</g>
<text x="216.5" y="316.5" text-anchor="middle" font-family="Liberation Serif, Times New Roman, serif" font-weight="bold" font-size="16" fill="#111">(a)</text>
<clipPath id="cb"><rect x="458.4" y="0.6" width="348.4" height="265.7"/></clipPath>
<g clip-path="url(#cb)" fill="none" stroke-width="1.2" stroke-linejoin="round">
<path stroke="#444" stroke-width="1" d="M458.4 187.3H806.8"/>
<path stroke="#ffff00" d="M457.9 240l2-9.4 .8-7.4 1.3-21.4 .4-4.9 .4-.7 1.2 10 4.1 43.3 .8 5 2.9 6.4 .4 .5 .4 .2 3.3-.5 4.9-3.6 1.3-.9 .4 0 4.9-2.6 4.9-2.8 5-4 4.9-5.1 4.9-5.4 5-4.1 4.9-3.4 4.9-3.5 4.9-3.5 5-3.5 4.9-3.6 4.9-3.4 4.9-2.8 5-2.7 4.9-2.6 4.9-2.8 5-2.7 4.9-2.1 4.9-1.4 4.9-.9 5-.6 4.9-.5 4.9-.4 4.9-.4 5-.3 4.9-.4 4.9-.3 4.9-.4 5-.3 4.9-.4 4.9-.3 5-.3 4.9-.2 4.9-.2 4.9-.2 5-.2 4.9-.2 4.9 0 4.9-.1 5-.1 4.9 0 4.9-.1 5 0 4.9-.1 4.9-.1 4.9 0 5 0 4.9 0 4.9 0 4.9 0 5-.1 4.9 0 4.9 0 4.9 0 5 0 4.9 0 4.9-.1 5 0 4.9 0 4.9 0 4.9 0 5 0 4.9-.1 4.9 0 4.9 0 4.2 0"/>
<path stroke="#ff0000" d="M457.9 239.5l2-9.3 .8-7.3 1.3-21.3 .4-4.8 .4-.6 1.2 9.8 4.1 43.1 .8 5 2.9 6.4 .4 .6 .4 .3 3.3-.6 4.9-3.6 1.3-.9 .4 0 4.9-2.7 4.9-2.8 5-3.9 4.9-5.1 4.9-5.4 5-4.2 4.9-3.4 4.9-3.5 4.9-3.4 5-3.6 4.9-3.5 4.9-3.4 4.9-2.7 5-2.7 4.9-2.6 4.9-2.8 5-2.6 4.9-2.1 4.9-1.3 4.9-1 5-.5 4.9-.6 4.9-.4 4.9-.3 5-.4 4.9-.3 4.9-.4 4.9-.3 5-.4 4.9-.3 4.9-.4 5-.2 4.9-.2 4.9-.2 4.9-.2 5-.2 4.9-.2 4.9-.1 4.9 0 5-.1 4.9 0 4.9-.1 5-.1 4.9 0 4.9-.1 4.9 0 5 0 4.9 0 4.9 0 4.9 0 5-.1 4.9 0 4.9 0 4.9 0 5 0 4.9 0 4.9-.1 5 0 4.9 0 4.9 0 4.9 0 5 0 4.9-.1 4.9 0 4.9 0 4.2 0"/>
<path stroke="#00ffff" d="M457.9 237.9l2-9 .8-7 1.3-20.7 .4-4.7 .4-.6 1.2 9.6 4.1 42.4 .8 4.9 2.9 6.8 .4 .6 .4 .3 3.3-.4 4.9-3.6 1.3-1 4.9-2.6 4.9-2.9 5-3.8 4.9-4.9 4.9-5.4 4.9-4.3 5-3.6 4.9-3.5 4.9-3.5 5-3.4 4.9-3.4 4.9-3.3 4.9-2.8 5-2.5 4.9-2.6 4.9-2.6 4.9-2.6 5-2.1 4.9-1.3 4.9-.9 4.9-.6 5-.5 4.9-.5 4.9-.3 5-.3 4.9-.3 4.9-.4 4.9-.3 5-.3 4.9-.4 4.9-.3 4.9-.3 5-.2 4.9-.2 4.9-.2 5-.2 4.9-.1 4.9-.1 4.9 0 5-.1 4.9 0 4.9-.1 4.9-.1 5 0 4.9-.1 4.9 0 4.9 0 5 0 4.9 0 4.9-.1 5 0 4.9 0 4.9 0 4.9 0 5 0 4.9 0 4.9-.1 4.9 0 5 0 4.9 0 4.9 0 5 0 4.9-.1 4.9 0 4.9 0 4.6 0"/>
<path stroke="#0000ff" d="M457.9 235.2l2-8.3 .8-6.7 1.3-19.6 .4-4.5 .4-.6 1.2 9.2 4.1 41.2 .8 4.9 2.9 7.2 .4 .7 .4 .3 3.3-.1 4.9-3.6 1.3-1.1 4.9-3 4.9-2.9 5-3.9 4.9-4.8 4.9-5.2 4.9-4.3 5-3.8 4.9-3.7 4.9-3.5 5-3.2 4.9-3.3 4.9-3.1 4.9-2.5 5-2.5 4.9-2.4 4.9-2.5 4.9-2.4 5-2 4.9-1.3 4.9-.8 4.9-.6 5-.4 4.9-.4 4.9-.3 5-.3 4.9-.3 4.9-.4 4.9-.3 5-.3 4.9-.3 4.9-.3 4.9-.3 5-.2 4.9-.1 4.9-.2 5-.2 4.9-.2 4.9 0 4.9-.1 5 0 4.9-.1 4.9 0 4.9-.1 5 0 4.9-.1 4.9 0 4.9 0 5 0 4.9-.1 4.9 0 5 0 4.9 0 4.9 0 4.9 0 5 0 4.9-.1 4.9 0 4.9 0 5 0 4.9 0 4.9 0 5 0 4.9-.1 4.9 0 4.9 0 4.6 0"/>
<path stroke="#ff00ff" d="M457.9 231.6l2-7.5 .8-6.2 1.3-18.2 .4-4.2 .4-.5 1.2 8.6 4.5 42.4 3.3 9.8 .4 .8 .4 .4 3.3 .2 4.9-3.6 1.3-1.2 4.9-3.4 4.9-3.1 5-3.9 4.9-4.7 4.9-5.1 4.9-4.3 5-4 4.9-3.9 4.9-3.4 5-3 4.9-3 4.9-2.9 4.9-2.4 5-2.2 4.9-2.3 4.9-2.3 4.9-2.2 5-1.8 4.9-1.2 4.9-.8 4.9-.4 5-.5 4.9-.3 4.9-.3 5-.3 4.9-.3 4.9-.3 4.9-.2 5-.3 4.9-.3 4.9-.3 4.9-.2 5-.2 4.9-.2 4.9-.1 5-.2 4.9-.1 4.9-.1 4.9 0 5-.1 4.9 0 4.9-.1 4.9 0 5-.1 4.9 0 4.9 0 4.9-.1 5 0 4.9 0 4.9 0 5 0 4.9 0 4.9 0 4.9 0 5-.1 4.9 0 4.9 0 4.9 0 5 0 4.9 0 4.9 0 5 0 4.9-.1 4.9 0 4.9 0 4.6 0"/>
<path stroke="#00ff00" d="M457.9 227.1l2-6.6 .8-5.5 1.3-16.4 .4-3.8 .4-.5 1.2 7.9 4.5 40.2 3.3 10.7 .8 1.4 3.3 .6 2.5-1.3 4.9-4.7 4.9-3.8 5-3.4 4.9-4 4.9-4.7 4.9-4.8 5-4.2 4.9-4.3 4.9-4.1 5-3.1 4.9-2.7 4.9-2.7 4.9-2.4 5-2.1 4.9-2 4.9-2.1 4.9-2 5-2 4.9-1.4 4.9-.9 5-.6 4.9-.4 4.9-.4 4.9-.3 5-.2 4.9-.3 4.9-.2 4.9-.3 5-.2 4.9-.3 4.9-.2 4.9-.3 5-.1 4.9-.2 4.9-.1 5-.2 4.9-.1 4.9-.1 4.9-.1 5 0 4.9-.1 4.9 0 4.9 0 5-.1 4.9 0 4.9-.1 5 0 4.9 0 4.9 0 4.9 0 5 0 4.9 0 4.9 0 4.9-.1 5 0 4.9 0 4.9 0 4.9 0 5 0 4.9 0 4.9 0 5 0 4.9-.1 4.9 0 4.9 0 5 0 3.3 0"/>
<path stroke="#ffff00" d="M457.9 221.8l2-5.4 .4-1.8 2.1-20.7 .4-.4 1.2 7.1 4.5 37.5 3.3 11.7 .8 1.6 3.3 1.2 1.3-.3 4.9-5 4.9-4.6 4.9-3.5 5-3.9 4.9-4.4 4.9-4.6 4.9-4.3 5-4.6 4.9-4.5 4.9-3.3 5-2.4 4.9-2.3 4.9-2.2 4.9-1.8 5-1.7 4.9-1.8 4.9-1.8 4.9-1.7 5-1.3 4.9-.9 4.9-.6 4.9-.3 5-.4 4.9-.2 4.9-.2 5-.2 4.9-.2 4.9-.2 4.9-.2 5-.3 4.9-.2 4.9-.2 4.9-.1 5-.1 4.9-.2 4.9-.1 5-.1 4.9-.1 4.9-.1 4.9 0 5 0 4.9-.1 4.9 0 4.9 0 5-.1 4.9 0 4.9 0 4.9 0 5 0 4.9 0 4.9-.1 5 0 4.9 0 4.9 0 4.9 0 5 0 4.9 0 4.9 0 4.9 0 5 0 4.9 0 4.9-.1 5 0 4.9 0 4.9 0 4.9 0 4.6 0"/>
<path stroke="#ff0000" d="M457.9 215.8l2-4.1 .4-1.5 2.1-17.3 .4-.3 1.2 6.1 4.5 34.4 3.3 12.8 .8 1.9 3.3 1.8 1.3-.1 1.2-.8 4.9-6.2 4.9-4.8 5-3.8 4.9-3.8 4.9-4.2 4.9-4.3 5-4.4 4.9-5.1 4.9-4.5 5-2.8 4.9-1.9 4.9-1.9 4.9-1.7 5-1.5 4.9-1.4 4.9-1.5 4.9-1.4 5-1.3 4.9-1 4.9-.7 5-.3 4.9-.3 4.9-.2 4.9-.2 5-.2 4.9-.1 4.9-.2 4.9-.1 5-.2 4.9-.2 4.9-.1 4.9-.2 5-.1 4.9-.1 4.9-.1 5-.1 4.9-.1 4.9 0 4.9-.1 5 0 4.9 0 4.9 0 4.9-.1 5 0 4.9 0 4.9 0 5-.1 4.9 0 4.9 0 4.9 0 5 0 4.9 0 4.9 0 4.9 0 5 0 4.9 0 4.9 0 4.9 0 5 0 4.9-.1 4.9 0 5 0 4.9 0 4.9 0 4.9 0 5 0 3.3 0"/>
<path stroke="#00ffff" d="M457.9 209.2l2-2.7 .4-1.1 .8-4.7 1.3-8.9 .4-.2 1.2 5 4.9 33 3.3 13.2 .8 1.6 2.9 1.8 1.3 .1 1.2-.7 4.9-7 4.9-5.4 5-4 4.9-3.8 4.9-3.9 4.9-4 5-4.5 4.9-5.5 4.9-4.7 5-2.5 4.9-1.5 4.9-1.4 4.9-1.3 5-1.1 4.9-1.1 4.9-1.1 4.9-1.1 5-1 4.9-.7 4.9-.5 5-.3 4.9-.1 4.9-.2 4.9-.1 5-.1 4.9-.1 4.9-.1 4.9-.1 5-.2 4.9-.1 4.9-.1 4.9-.1 5 0 4.9-.1 4.9-.1 5 0 4.9-.1 4.9 0 4.9-.1 5 0 4.9 0 4.9 0 4.9 0 5-.1 4.9 0 4.9 0 5 0 4.9 0 4.9 0 4.9 0 5 0 4.9 0 4.9 0 4.9 0 5 0 4.9 0 4.9-.1 4.9 0 5 0 4.9 0 4.9 0 5 0 4.9 0 4.9 0 4.9 0 5 0 3.3 0"/>
<path stroke="#0000ff" d="M457.9 202.2l1.6-.9 .8-1 .8-3.2 1.3-6.4 .4-.2 1.2 3.9 4.9 29.2 3.3 14.5 .8 1.9 2.9 2.4 .8 .4 .5 0 1.2-.7 4.9-7.9 4.9-6.1 5-4.2 4.9-3.7 4.9-3.5 4.9-3.7 5-4.5 4.9-5.9 4.9-4.9 5-2.3 4.9-1 4.9-.9 4.9-.8 5-.7 4.9-.8 4.9-.8 4.9-.7 5-.6 4.9-.4 4.9-.3 5-.1 4.9-.1 4.9-.1 4.9 0 5-.1 4.9-.1 4.9 0 4.9-.1 5 0 4.9-.1 4.9 0 4.9-.1 5 0 4.9-.1 4.9 0 5 0 4.9-.1 4.9 0 4.9 0 5 0 4.9 0 4.9 0 4.9 0 5 0 4.9 0 4.9 0 5-.1 4.9 0 4.9 0 4.9 0 5 0 4.9 0 4.9 0 4.9 0 5 0 4.9 0 4.9 0 4.9 0 5 0 4.9 0 4.9 0 5 0 4.9 0 4.9 0 4.9 0 5 0 3.3 0"/>
<path stroke="#ff00ff" d="M457.9 194.8l1.6 .3 .8-.2 .4-.6 1.7-4.9 .4-.1 1.2 2.7 4.9 25.1 3.3 15.9 .8 2.3 3.3 3.3 .9 .3 1.2-.7 4.9-8.8 4.9-6.7 5-4.5 4.9-3.5 4.9-3.2 4.9-3.3 5-4.5 4.9-6.3 4.9-5 5-2 4.9-.5 4.9-.4 4.9-.3 5-.4 4.9-.4 4.9-.3 4.9-.3 5-.3 4.9-.1 4.9-.1 5 0 4.9 0 4.9 0 4.9 0 5 0 4.9 0 4.9 0 4.9 0 5 0 4.9 0 4.9 0 4.9 0 5 0 4.9 0 4.9 0 5 0 4.9 0 4.9 0 4.9 0 5 0 4.9 0 4.9 0 4.9 0 5 0 4.9 0 4.9 0 5 0 4.9 0 4.9 0 4.9 0 5 0 4.9 0 4.9 0 4.9 0 5 0 4.9 0 4.9 0 4.9 0 5 0 4.9 0 4.9 0 5 0 4.9 0 4.9 0 4.9 0 5 0 3.3 0"/>
<path stroke="#00ff00" d="M457.9 187.3l2.4 2 .4 .1 1.7-1.2 .4 0 1.2 1.3 .8 1.7 4.1 19 3.3 17.4 .8 2.6 3.3 4 .9 .5 1.2-.6 3.7-7.2 4.9-8.6 4.9-5 5-3.8 4.9-2.8 4.9-2.8 4.9-3.9 5-6.3 4.9-5.5 4.9-1.9 5-.3 4.9 0 4.9-.1 4.9-.1 5-.2 4.9-.2 4.9-.2 4.9 .1 5 .6 4.9 .6 4.9 .4 4.9 .2 5 .1 4.9 0 4.9 .1 5 0 4.9 0 4.9 0 4.9 0 5 0 4.9 0 4.9 0 4.9 0 5 0 4.9 0 4.9 0 5 0 4.9 0 4.9 0 4.9 0 5 0 4.9 0 4.9 0 4.9 0 5 0 4.9 0 4.9 0 4.9 0 5 0 4.9 0 4.9 0 5 0 4.9 0 4.9 0 4.9 0 5 0 4.9 0 4.9 0 4.9 0 5 0 4.9 0 4.9 0 5 0 4.9 0 4.9 0 4.9 0 4.6 0"/>
<path stroke="#ffff00" d="M457.9 182l1.2 3 .4 1.7 .8-2 .4-.4 .4-.1 .9 .6 1.2 1.9 .4 .3 .4-.1 .4 .1 .8 1.4 3.3 12.6 4.1 22.5 .4 1.2 3.7 5.3 .5 .2 1.2-.6 3.7-7.8 4.5-9 4.9-5.5 5-3.8 4.9-2.4 4.9-2.3 4.9-3.5 5-6 4.1-4.1 4.9-1.8 4.9-.3 4.9-.1 5 0 4.9-.1 4.9-.1 5-.2 4.9-.3 4.9 .3 4.9 1.4 5 1.4 4.9 1 4.9 .5 4.9 .2 5 .1 4.9 0 4.9 0 5 0 4.9 0 4.9 0 4.9 0 5 0 4.9 0 4.9 .1 4.9 0 5 0 4.9 0 4.9 0 4.9 0 5 0 4.9 0 4.9 0 5 0 4.9 0 4.9 0 4.9 0 5 0 4.9 0 4.9 0 4.9 0 5 0 4.9 0 4.9 0 5 0 4.9 0 4.9 0 4.9 0 5 0 4.9 0 4.9 0 4.9 0 5 0 4.9 0 4.9 0 4.9 0 5 0 4.9 0 4.9 0 .9 0"/>
<path stroke="#ff0000" d="M457.9 177.4l.8 2.9 .8 5.8 .8-4.9 .4-1.4 .4-.7 .5 0 .4 .5 .8 2.9 .4 2.1 .4 1 .8-3.2 .4-.4 .9 1.8 2.8 9.9 4.1 23.9 .4 1.4 3.7 6.1 .5 .3 1.2-.5 3.7-8.4 4.1-9.4 4.9-5.9 4.9-4 5-2 4.9-1.7 4.5-2.6 4.9-5.2 5-3.9 4.9-1.4 4.9-.2 4.9-.1 5 0 4.9-.1 4.9-.1 5-.2 4.9-.2 4.9 .5 4.9 2.2 5 2.3 4.9 1.4 4.9 .8 4.9 .3 5 .1 4.9 .1 4.9 0 5 0 4.9 0 4.9 0 4.9 0 5 0 4.9 0 4.9 0 4.9 0 5 0 4.9 0 4.9 0 4.9 0 5 0 4.9 0 4.9 0 5 0 4.9 0 4.9 0 4.9 .1 5 0 4.9 0 4.9 0 4.9 0 5 0 4.9 0 4.9 0 5 0 4.9 0 4.9 0 4.9 0 5 0 4.9 0 4.9 0 4.9 0 5 0 4.9 0 4.9 0 4.9 0 5 0 4.9 0 4.9 0 .9 0"/>
<path stroke="#00ffff" d="M457.9 173l.8 4 .8 8.5 .8-7.6 .4-2.2 .4-1.3 .5-.3 .4 .8 .8 4.3 .4 3.6 .4 1.5 .8-6.1 .4-1.2 .4 .2 .9 2.5 1.6 7 .4-.6 .4 .4 4.1 24.9 .4 1.6 3.7 7.1 .5 .3 1.2-.4 3.7-9.1 3.7-9.6 4.9-6.3 4.9-4.2 5-1.6 4.9-1.2 3.3-1.4 4.9-4.3 4.9-3 4.9-1.7 5-.4 4.9 0 4.9-.1 5 0 4.9-.1 4.9-.2 4.9-.1 5 .1 4.9 2.5 4.9 3.3 4.9 2.3 5 1.3 4.9 .6 4.9 .2 5 .1 4.9 .1 4.9 0 4.9 0 5 0 4.9 0 4.9 0 4.9 0 5 0 4.9 0 4.9 0 5 0 4.9 0 4.9 0 4.9 0 5 0 4.9 0 4.9 0 4.9 0 5 0 4.9 0 4.9 0 4.9 0 5 0 4.9 0 4.9 0 5 .1 4.9 0 4.9 0 4.9 0 5 0 4.9 0 4.9 0 4.9 0 5 0 4.9 0 4.9 0 5 0 4.9 0 4.9 0 4.9 0 5 0 4.9 0 2.5 0"/>
<path stroke="#0000ff" d="M457.9 168.8l.4 1.9 .8 7.6 .4 6.6 .8-10.1 .4-3.1 .4-1.8 .5-.5 .4 .9 .8 5.8 .4 4.8 .4 2.2 .8-8.8 .4-1.9 .4-.3 .5 .9 1.2 6.9 .8 5.8 .4-2.6 .4-1.2 .4 .1 3.7 23.1 .4 1.8 3.7 7.9 .5 .4 1.2-.3 3.7-9.8 3.7-10.5 4.9-6.4 4.5-4.6 4.9-1.8 5-1.3 4.9-2.4 3.3-1.2 4.9-1 4.9-1.2 5-.4 4.9-.1 4.9 0 4.9 0 5-.1 4.9-.1 4.9-.2 5 .1 4.9 3 4.9 4.2 4.9 3 5 1.8 4.9 .8 4.9 .2 4.9 .1 5 .1 4.9 .1 4.9 0 5 0 4.9 0 4.9 0 4.9 0 5 0 4.9 0 4.9 0 4.9 0 5 0 4.9 0 4.9 0 4.9 0 5 0 4.9 0 4.9 0 5 0 4.9 0 4.9 0 4.9 0 5 0 4.9 0 4.9 0 4.9 0 5 0 4.9 0 4.9 .1 5 0 4.9 0 4.9 0 4.9 0 5 0 4.9 0 4.9 0 4.9 0 5 0 4.9 0 4.9 0 4.9 0 5 0 2.9 0"/>
<path stroke="#ff00ff" d="M457.9 164.7l.4 2.2 .8 9.3 .4 8.1 .8-12.6 .4-3.9 .4-2.3 .5-.7 .4 1 .8 7.2 .4 6.2 .4 2.7 .8-11.4 .4-2.7 .4-.6 .5 .8 .8 4.8 1.2 11.9 .4-4.4 .4-2.6 .4-1.1 .5 .8 1.2 7.4 2 13.9 .4 1.9 3.7 8.7 .5 .5 1.2-.2 3.7-10.4 3.7-11.8 4.9-7.5 4.1-4.3 4.9-1.8 5-1.1 4.9-2.2 1.6-.3 5 2.3 4.9-.6 4.9-.5 4.9-.1 5 0 4.9-.1 4.9 0 4.9-.1 5-.1 4.9-.1 2.9 .3 4.9 4.4 4.9 5.1 5 3.2 4.9 1.9 4.9 .9 4.9 .2 5 .1 4.9 .1 4.9 0 4.9 0 5 0 4.9 0 4.9 0 5 0 4.9 0 4.9 .1 4.9 0 5 0 4.9 0 4.9 0 4.9 0 5 0 4.9 0 4.9 0 5 0 4.9 0 4.9 0 4.9 0 5 0 4.9 0 4.9 0 4.9 0 5 0 4.9 0 4.9 0 4.9 0 5 0 4.9 .1 4.9 0 5 0 4.9 0 4.9 0 4.9 0 5 0 4.9 0 4.9 0 4.9 0 5 0 4.9 0 2.1 0"/>
<path stroke="#00ff00" d="M457.9 160.6l.4 2.6 .8 10.9 .4 9.6 .8-15 .4-4.7 .4-2.8 .5-.9 .4 1.2 .8 8.5 .4 7.5 .4 3.2 .8-13.8 .4-3.5 .4-1 .5 .8 .8 5.5 1.2 15.1 .8-10 .4-2.2 .5-.1 .8 3.1 2.4 17.5 .4 2.1 3.7 9.6 .5 .5 1.2-.2 2-5.2 5-19.3 1.6-3.7 4.9-6 3.3-2.8 4.9-1.4 5-1.1 4.1-2 1.2 0 1.2 .7 3.7 4.6 1.7 .8 4.9 0 4.9-.3 5 0 4.9-.1 4.9 0 4.9 0 5-.1 4.9-.1 4.9-.1 2.1 .3 4.9 5.4 4.9 5.9 5 3.8 4.9 2.2 4.9 1 4.9 .2 5 .2 4.9 .1 4.9 0 4.9 0 5 0 4.9 0 4.9 0 5 0 4.9 0 4.9 0 4.9 0 5 0 4.9 0 4.9 0 4.9 .1 5 0 4.9 0 4.9 0 5 0 4.9 0 4.9 0 4.9 0 5 0 4.9 0 4.9 0 4.9 0 5 0 4.9 0 4.9 0 4.9 0 5 0 4.9 0 4.9 0 5 .1 4.9 0 4.9 0 4.9 0 5 0 4.9 0 4.9 0 4.9 0 5 0 4.9 0 2.1 0"/>
<path stroke="#ffff00" d="M457.9 156.7l.4 2.9 .8 12.5 .4 11.1 .8-17.4 .4-5.5 .4-3.3 .5-1.1 .4 1.3 .8 9.9 .4 8.7 .4 3.8 .8-16.4 .4-4.1 .4-1.4 .5 .8 .8 6.2 1.2 18.2 .8-13 .4-3.1 .5-1 .4 .7 .8 3.6 2 16.3 4.1 11.7 .5 .6 1.2-.1 2-5.5 1.7-6.2 2.4-14.4 1.3-3.8 4.9-6.1 4.1-3.4 4.9-1.5 5-.8 4.1-2.4 .8 0 1.2 .7 1.7 2.5 2.8 6 1.3 1.1 4.9 .9 4.9-.3 5 0 4.9 0 4.9 0 4.9 0 5-.1 4.9-.1 4.9-.1 2.5 .3 1.6 1.5 4.9 7.1 5 6.4 4.9 3.6 4.9 1.8 5 .8 4.9 .2 4.9 .2 4.9 .1 5 0 4.9 0 4.9 0 4.9 0 5 0 4.9 0 4.9 0 4.9 0 5 0 4.9 0 4.9 0 5 0 4.9 0 4.9 0 4.9 0 5 .1 4.9 0 4.9 0 4.9 0 5 0 4.9 0 4.9 0 5 0 4.9 0 4.9 0 4.9 0 5 0 4.9 0 4.9 0 4.9 0 5 0 4.9 0 4.9 .1 5 0 4.9 0 4.9 0 4.9 0 5 0 4.9 0 4.9 0 4.9 0 .5 0"/>
<path stroke="#ff0000" d="M457.9 152.8l.4 3.2 .8 14.1 .4 12.5 .8-19.7 .8-10.1 .5-1.3 .4 1.5 .8 11.3 .4 9.9 .4 4.3 .8-18.8 .4-4.8 .4-1.8 .5 .7 .4 2.6 .8 10.5 .8 15.2 .8-15.9 .4-4.1 .5-1.8 .4 .2 .4 1.1 .8 4.6 1.6 17.5 .4-1.8 .5-.9 .4 .2 .4 1.3 .8 5.2 1.6 4.6 .5 .7 1.2 0 2-5.7 1.7-13.6 2.4-11.6 1.3-2.9 4.9-5.3 4.5-3.1 4.9-1.2 5-.7 3.7-2.8 .8 .2 1.6 2.1 4.1 11.2 .9 1.1 3.2 1.7 5 .1 4.9 0 4.9 0 5-.1 4.9 0 4.9 0 4.9 0 5-.1 4.1 .1 .8 .3 4.9 7.7 4.9 7.7 5 4.5 3.3 2.2 4.9 1.4 4.9 .4 4.9 .2 5 .2 4.9 0 4.9 0 4.9 0 5 .1 4.9 0 4.9 0 4.9 0 5 0 4.9 0 4.9 0 5 0 4.9 0 4.9 0 4.9 0 5 0 4.9 0 4.9 0 4.9 0 5 .1 4.9 0 4.9 0 5 0 4.9 0 4.9 0 4.9 0 5 0 4.9 0 4.9 0 4.9 0 5 0 4.9 0 4.9 0 4.9 0 5 0 4.9 .1 4.9 0 5 0 4.9 0 4.9 0 4.9 0 5 0 3.3 0"/>
<path stroke="#00ffff" d="M457.9 148.9l.4 3.6 .8 15.6 .4 14 .8-22.1 .8-11.3 .5-1.4 .4 1.6 .8 12.5 .4 11.1 .4 4.9 .8-21.2 .4-5.5 .4-2.1 .5 .6 .4 2.9 .8 11.8 .8 17.3 .8-18.7 .4-5.1 .5-2.4 .4-.4 .4 .7 .4 1.6 .8 6.7 1.2 17.6 .9-7.7 .4-2 .4-.8 .4 .3 .4 1.3 2.1 15 1.2 0 1.2-8.8 .4-7.7 .8-3.2 2.1-10.6 1.6-5.2 1.3-2 4.9-4.5 4.9-2.8 5-1 4.9-.6 3.3-3.2 .4 0 .8 .9 1.6 3.5 3.7 13.5 .9 1.3 3.2 2.4 5 .2 4.9 0 4.9 0 5 0 4.9 0 4.9 0 4.9 0 5-.1 4.5 .1 .8 .7 4.9 9 5 8.6 4.9 4.6 2.4 1.9 5 1.6 4.9 .6 4.9 .3 4.9 .2 5 0 4.9 0 4.9 0 5 0 4.9 0 4.9 0 4.9 0 5 .1 4.9 0 4.9 0 4.9 0 5 0 4.9 0 4.9 0 5 0 4.9 0 4.9 0 4.9 0 5 0 4.9 0 4.9 0 4.9 .1 5 0 4.9 0 4.9 0 5 0 4.9 0 4.9 0 4.9 0 5 0 4.9 0 4.9 0 4.9 0 5 0 4.9 .1 4.9 0 4.9 0 5 0 4.9 0 4.9 0 5 0 3.7 0"/>
<path stroke="#0000ff" d="M457.9 145.1l.4 3.9 .8 17.2 .4 15.4 .8-24.4 .8-12.5 .5-1.7 .4 1.8 .8 13.8 .4 12.3 .4 5.4 .8-23.6 .4-6.1 .4-2.5 .5 .6 .4 3.1 .8 13.1 .8 19.5 .8-21.5 .4-6 .5-3.2 .4-.8 .4 .3 .4 1.4 .8 6.9 .8 12.3 .4 9.1 .9-12.3 .8-6.8 .4-1.4 .4 0 .4 1.3 1.7 11.4 1.2 2.6 .4-1.7 .8-6 .4-15.8 .8 1.7 2.1-7.1 1.6-3.1 5-4.1 2.8-2.1 5-1.5 4.9-.7 3.3-.2 3.3-3.9 .4-.1 2.4 5.9 3.7 16.6 .9 1.4 3.2 3.1 5 .4 4.9 .1 4.9 0 5 0 4.9 0 4.9 0 4.9 0 5 0 4.5 0 .4 .2 4.9 9.8 4.9 9.6 5 5.4 2.4 2.3 5 1.7 4.9 .8 4.9 .3 4.9 .2 5 .1 4.9 0 4.9 0 4.9 0 5 0 4.9 0 4.9 0 5 0 4.9 0 4.9 0 4.9 .1 5 0 4.9 0 4.9 0 4.9 0 5 0 4.9 0 4.9 0 5 0 4.9 0 4.9 0 4.9 0 5 0 4.9 .1 4.9 0 4.9 0 5 0 4.9 0 4.9 0 4.9 0 5 0 4.9 0 4.9 0 5 0 4.9 0 4.9 .1 4.9 0 5 0 4.9 0 4.9 0 4.9 0 4.2 0"/>
<path stroke="#ff00ff" d="M457.9 141.3l.4 4.3 .8 18.7 .4 16.7 .8-26.6 .8-13.7 .5-1.9 .4 2 .4 5.7 .8 22.8 .4 5.9 .8-25.9 .4-6.8 .4-2.8 .5 .5 .4 3.3 .8 14.4 .8 21.7 .8-24.2 .4-7 .5-3.9 .4-1.3 .4 0 .4 1.1 .8 7.3 .8 14 .4 11 1.3-22.8 .8-7.3 .4-1.3 .4 .5 1.7 11.3 1.2 5 .4-1.2 2-17.9 .5-.2 .4-3.1 .4 3.4 .4-4.8 .4 2.9 .4-4.8 .4 3.8 .4-4.1 .4 3.2 .5-5 .4 3.1 .4-5 .4 4.7 .4-5.1 .4 4.2 .4-4.5 .4 4.1 .4-4.5 .5 4.1 .4-5 .4 3.6 .4-4.9 .4 4.3 .4-5.2 .4 4.2 .4-7 .4 5.4 .4-6.5 .5 6.4 .4-7.8 .4 6.6 .4-7 .4 7.5 .4-7.2 .4 6.7 .4-5.2 .4 5.7 .5-4.2 .4 5.4 .4-4.3 .4 4.2 .4-2.7 .4 3.5 .4-2.7 .4 2.7 .4-2.6 .4 2.5 .5-2.1 .4 2.5 .4-2 .4 1.8 .4-1.5 .4 1.8 .4-1.6 .4 1.4 .4-1.8 .5 1.6 .4-2 .4 1.7 .4-2.3 .4 1.8 .4-3.8 .4 2.1 .4-4.6 .4 3.2 .4-5.4 .5 3.9 .4-4.3 .4 3.8 .4-2.8 .4 5 .4-2.2 .4 4.5 .4-1.4 .4 4.2 .5-.7 .4 4 .4 .7 .4 4 .4 .8 .4 3.3 .4 1.5 .4 2.5 .8 2.1 .5-.3 .8 .1 1.2-1.6 .4 3.3 .4 1.7 .4 0 .5-6.8 .4-.4 .4 7.3 .4 0 .4-.5 .4-2.4 .4 3.1 .4 0 .4-5.3 .4-1.2 .5 4.3 .4 2.5 .4 0 .8-3.9 .4 3.9 .4 0 .4-7.2 .4-.2 .5 7.3 2.4 .2 .4-2.5 .4 2.3 .5-.3 .4-.9 .4-9.1 .4 6.6 .4 2.3 .4 0 .4-13.9 .4 .2 .4 10.7 .4 3.1 .9-15.5 .4 10.7 .4 3.1 .4-14.8 .4 .9 .8 15.6 .4 .2 .5-12 .4 .4 .4 11.8 .8 .1 .4-6.5 .4 5.6 .4-2.3 .4-7.5 .4-.1 .5 10.2 .4 .6 .4-8.4 .4-1.9 .4 10.2 .4 .5 .4 .1 .4-5.8 .4-1.7 .5 5.5 .4 2.1 .4 0 .4-6.6 .4 5.8 .4 .6 .4 0 .4-3.2 .4 3.1 .9 .2 .4-7.3 .8 7.6 .4 0 .4-3.8 .4 .6 .4 3.1 .4 0 .5-1.5 .4-6.5 .4 7.6 .4 .3 2.4 .1 .5-2.4 .4 2.1 .4 .1 .4-.2 .4 .4 .8 .2 .4-.3 .4-5.3 .5 4.2 .4 1.9 .8 .5 1.2 2.5 .4-.3 .9 2.9 1.2 2.3 4.9 10.1 1.7 3.2 .4 .3 .8 1.1 .8 .3 .8 1.3 .4 .3 .4-.1 .5 .4 .4 .9 1.2 1.1 2.5 2.1 .8 .1 2.9 1.6 .4 0 .8 .3 1.2-.5 .8 .3 2.5-.9 .4-1 .4-1.9 1.7-.2 1.6 2.2 4.9-.6 2.1-1 .4 .3 1.2 1.9 .9-1 .4-.2 .8 1.1 1.6-1.6 .4 0 1.7 .8 3.3 .1 1.2 1.3 1.2-.1 2.1-2.6 .8 0 .8 2.5 2.5 .1 .4-.6 .8-1.8 1.7 2.4 .8-.1 2-1.7 2.1 2.1 1.2 0 .4-.4 .9-1.4 .4 .2 .8 1.6 2.9 .2 .4-.3 .4-.1 .4 .4 4.5 .2 .4-.1 4.1 .2 1.3-.9 1.2 .9 4.9-.4 1.7-.2 .4-1.4 .4-.4 1.6 .5 1.7 1.8 .8 0 .8-1 .4-.3 .4 .2 .8 1 2.5 .2 .4-.3 .4-1 .9 0 .8 1.1 .4 .2 3.3-.1 .4-.3 1.2 .4 4.9 0 1.3-.8 1.6 .8 4.9-.1 .5-.9 .4 .1 .8 .8 3.3 0 .4-.2 3.7 .3 1.6-1.1 1.2 1.1 3.3 .1 .4-.2 3.7 .2 1.3-1.1 .8 .1 1.2 1 1.3-.1 1.6-.9 1.2 0 1.3 .8 2.8-.2 2.9 .5 .8-.9 2.5 .1 .8 .9 2.5-.3 3.3 .3 .8-.7 .8-.1 1.2 .8 2.1 .1 .8-.8 1.2 .1 .9 .6 2.4 0 .4-.4 5-.1 2 .2 .8 .5 1.3 0 1.2-.5 .8 0 .8 .5 1.3 .1 1.2-.5 2.1 .1 1.2 .4 4.1-.4 .8 .4 4.9 0 5 0 4.9 .1 3.7-.2 3.3 .1 1.2-.3 4.9 .4 5 0 3.2 0 5-.1 2.9 .1"/>
<path stroke="#00ff00" d="M457.9 137.5l.4 4.7 .8 20.2 .4 18.1 .8-28.8 .8-15 .5-2 .4 2 .4 6.2 .8 24.9 .4 6.3 .8-28.2 .4-7.4 .4-3.2 .5 .5 .4 3.5 .8 15.6 .8 23.9 .8-26.9 .4-7.9 .5-4.7 .4-1.6 .4-.4 .4 .9 .4 2.8 .8 11.5 .8 21.9 1.3-29 .8-10.5 .4-2.4 .4-.3 1.7 11.5 1.2 7.2 .4-.7 2-17.8 .5 .9 .4-1.3 .4 4.8 .4-3.8 .4 2.5 .4-4.4 .4 3.8 .4-3.3 .4 2.8 .5-5 .4 2 .4-4.7 .4 4.5 .4-4.6 .4 4.1 .4-4.1 .4 3.9 .4-4 .5 3.8 .4-5.1 .4 2.9 .4-4.7 .4 3.8 .4-5 .4 3.2 .4-7.4 .4 5 .4-6.3 .5 5.7 .4-7.9 .4 5.5 .4-6.6 .4 7.6 .4-6.3 .4 6.7 .4-4.5 .4 6.3 .5-3 .4 5.5 .4-3.6 .4 4.3 .4-1.9 .4 3.8 .4-2.3 .4 2.6 .4-2.4 .4 2.5 .5-1.7 .4 2.6 .4-1.7 .4 1.7 .4-1.3 .4 1.8 .4-1.2 .4 1.2 .4-2 .5 1.3 .4-1.9 .4 1.4 .4-2.4 .4 1.1 .4-4 .4 1.5 .4-4.6 .4 2.4 .4-5.6 .5 3.6 .4-3.5 .4 3.8 .4-2.4 .4 4.8 .4-1.5 .4 4.6 .4-.9 .4 4.3 .5-.3 .4 4.1 .4 1.2 .4 4.3 .4 1.1 .4 3.5 .8 4.2 .8 2.4 .5 .5 .4-.1 .8 1 .8-3 .4 4.4 .4 .9 .9 .2 1.6-.2 .4-5.3 .8 5.6 .8 .1 .9 0 .4-.6 .4-6 .4-.2 .4 5 .4 1.9 .4-.5 .4-7.2 .5 2.6 .4 4.6 .4 .4 .4-2.1 .4 .2 .4 2.2 .8 .1 .4-8 .5-1.8 .4 8.7 .4-.3 .8-15.6 .4 3.5 .4 9.7 .4-12.6 .4 .2 .4 10.2 .5 3.8 .8-17.1 .4-1 .4 1.2 .8 15.4 .4 1.7 1.3 .5 .4-8.8 .4 8.6 .4 .4 .8 .1 .4-2.3 .4 2.2 .9 0 .4-.8 .4 .8 .8 .2 .4-9.6 .4 2.9 .4 7.2 .4-.1 .5-8 .4-.3 .4 6.4 .4 1.9 .8-9.6 .4 9.3 1.2 .1 .5-.5 .4 .8 .4 .2 .8-7.7 .4 1 .4 6.7 .4-.1 .9-7.2 .4 7.2 .4-.1 .4-.7 .4-5.5 .4-1.9 1.2 .7 .4 4.7 .5 2.7 .8-.2 1.2 .4 .4-.8 .4-1.9 .4 3.1 .9 .2 .4-3.1 .4 3.2 1.2 3.2 .4-.4 .4 2.1 .9 1.6 .4-.3 .8 3.2 4.9 9.7 .8 1.5 .9 1 .4 .9 .4 .4 .8 .3 .4 .4 .4 .8 2.9 2.5 .8 1.1 .8 .1 .5 .8 .8 .5 .4-.2 .8 .7 2.9 .6 3.3-1.2 1.2-1.6 1.2 1.9 2.1-.1 .8-2.4 .4-.6 1.7 2.6 .4 .4 4.9 .1 .8-.2 .8-1.7 .9-4 .4-.4 .8 2.9 .4 .7 .8 2.9 3.3 .3 2.9-.7 2.4-1.8 5 1.6 2.8 .5 1.3-2.1 2.4 .4 .4 1.5 .5 .7 4.9 .2 2 .1 1.3-1.4 .4-.1 .8 0 .8 1.6 2.1 .1 .8-1.4 1.2 0 .4 .4 .4 .9 2.5 .2 .4-.2 .4-1.1 3.3 .7 2.1-1.1 2.4 1.2 2.9 .1 3.7 .4 .4-.2 .4-1.1 1.3-.1 .4 .2 .8 1.2 2 0 1.3-1.2 .8 1 .4 .2 4.9 .1 4.1-.1 .4-.2 3.3 .2 1.7-1.3 .4 0 1.2 1.3 4.1 0 5 .1 4.9 0 .8-.6 4.9 .6 4.1 .1 1.3-.4 .4 .4 4.9 .1 4.9 0 4.1 .1 1.3-.9 4.9 .9 4.9-.2 4.9 .3 5 .1 4.1 .1 1.2-.6 1.7 .1 .8 .5 3.7-.4 .4 .1 .4 .4 2.9-.1 2-.3 3.7 .4 .8-.3 3.3 .3 1.7-.4 4.9 .2 .8 0 3.3 .2 2-.3 3.7 .3 1.3-.3 4.9 .3 3.3 0 2.9-.2 4.9 .3 2.5 0"/>
<path stroke="#ffff00" d="M457.9 133.8l.4 5 .8 21.7 .4 19.5 .8-31.1 .8-16.1 .5-2.2 .4 2.2 .4 6.6 .8 26.8 .4 6.9 .8-30.6 .4-8 .4-3.6 .5 .5 .4 3.7 .8 16.9 .8 26 .8-29.6 .9-14.1 .4-2.1 .4-.7 .4 .7 .4 2.8 .8 12.4 .8 24.8 1.3-35 .8-13.6 .4-3.6 .4-.9 2.9 21 .4-.2 1.6-15.4 .4-2 .5 2 .4 .7 .4 5.9 .4-2.5 .4 1.9 .4-3.7 .4 3.3 .4-2.2 .4 2.1 .5-4.5 .4 .5 .4-4 .4 3.9 .4-3.6 .4 3.4 .4-3.3 .4 3.2 .4-3 .5 3 .4-4.6 .4 1.8 .4-4.1 .4 2.9 .4-4.3 .4 1.7 .4-7 .4 3.8 .4-5.3 .5 4.4 .4-7.2 .4 3.7 .4-5.5 .4 6.9 .4-4.7 .4 6 .4-3.3 .4 6.2 .5-1.4 .4 5.1 .4-2.6 .4 4 .4-.7 .4 3.6 .4-1.6 .4 2.4 .4-2.1 .4 2.2 .5-1 .4 2.4 .4-1.3 .4 1.5 .4-1 .4 1.8 .4-.9 .4 1 .4-2 .5 .8 .4-1.6 .4 .9 .4-2.3 .4 .3 .4-3.9 .4 .7 .4-4.3 .4 1.3 .4-5.3 .5 2.9 .4-2.5 .4 3.5 .4-1.6 .4 4.3 .4-.7 .4 4.4 .4-.1 .4 4.1 .5 .2 .4 4 .4 1.9 .4 4.3 .4 1.6 .4 3.5 .8 4.4 .8 2.4 .9 1.2 .4 .9 2 2.1 .4 .2 .5-3 .4 2.9 1.2-.2 .4 .1 .4-8.2 .8 2.3 .4-1.1 .5 .5 .4 5 .4 2.2 2.4-.3 .5-.6 .4 .5 .8 .2 .4-.5 .4-3.2 .4 4 .4 .1 .4-7 .5-3.6 .8-4 .4 6.1 .4 1.6 .4 4.3 1.2 .1 .4-14.1 .5 11.8 .4 1.8 .4-.3 .4-4.1 .4-13.8 .4 .9 .4 4.7 .4-6.4 .4 1.3 .5 16.4 .4 2.4 .4 .1 .4-24.2 .4-.6 .8 25.1 .8-27.1 .4 17.5 .5 9.5 .4-.1 .8-19.1 .8 18.5 .4 0 .4-2.7 .4 4.4 1.3-.2 .4-1.1 .4 0 .4 .4 .4-.6 .4-1.6 .8 2.6 .5 .2 .4-5.2 .4-2.7 .4 8.3 .4 0 .4-.5 .4-6.3 .4 1 .4 4.1 .5 1.6 .4-9 .4-.2 .4 6.5 .4 2.6 1.6 .2 .9-.2 .4-9.7 .4-.6 .4 10.2 .4-.8 .4-7.2 .4 1.4 .4 7.2 .9 .2 .4-4.2 .4 4.3 .8 1.8 .4 .3 .4 .1 .8 2.8 .5-.2 .8 1.8 .4 2.4 4.9 9.9 2.5 4.1 1.2 .9 .8 1.1 .4 .3 .4-.1 .9 1.4 2 1.9 .4 .1 .4-.3 1.3 1.1 .8 .1 .8 1.1 .4 .3 2.5-.3 1.6 .8 1.3-.2 1.6-3.3 .8 2 5-.2 2 .1 .4-.1 3.7 .1 .4-.4 .4 .3 .9-1.3 .4-.2 .8 1.4 .4 .4 .8 .1 .4-.2 .4-1 1.3 1.4 2 .3 .8-2.4 .9-.1 .4 .4 .4 1.7 2.5 0 .4-.6 .4-1.5 .4-.7 .4 .2 .8 2.2 .4 .4 .8-.2 .9-2 .4-.4 .8 2.6 2.9 .1 .4-.4 .4-1.2 .4 .5 .4 1.1 3.7 .4 .4-.2 .4 .2 2.9 .2 .8-1.7 .4 .3 .9 1.5 2.8 .1 .4-.3 .5 0 .8 .4 1.2 0 .8-1.5 2.1 .2 1.2 1.4 .8 0 1.3-1.2 .8 1.2 2.9-.2 .4-.4 .4 .2 2.9-.3 .4 0 .4-.1 3.3 .7 .4-.1 .8-1.1 2 1.2 1.3 .1 1.6-1.5 .4 0 .9 1.5 2.4 0 .4-.2 .4-.6 .9 .8 2.4 0 1.3-.5 1.2 .5 .8 0 1.2-1.4 1.3 0 .8 1.4 2.5 0 .4-.2 3.7 .2 .8-1.2 .4 .2 .8 .9 2.5 0 .8-.6 .8 .7 4.9 .1 1.7 0 .4-.4 .4-.8 .4 0 .8 1.1 5 .2 1.6 0 .4-.3 .8-.8 2.1 1.1 .8 0 1.2-.7 .5 0 2 .7 2.5-.3 .8 .4 2.5 0 .8-1 .8 .1 .8 .8 5 .2 4.9 .1 .8 0 .8-.8 4.9 .9 5-.3 4.9 .3 2.9 0 2.8 .2 1.3-.5 4.9 .5 3.3 0 .8-.4 3.3 .5 1.2-.4 3.3 .4 .8-.4 3.7 .4 5 0 4.1 0 .8-.3 2.9 .2 4.9-.2 1.2 0 4.9 .3 3.7-.1 .5 .1"/>
<path stroke="#ff0000" d="M457.9 130.1l.4 5.3 .8 23.2 .4 20.9 .8-33.3 .8-17.3 .5-2.4 .4 2.3 .4 7.1 .8 28.8 .4 7.3 .8-32.8 .4-8.7 .4-3.9 .5 .5 .4 3.9 .8 18.1 .8 28.1 .8-32.2 .9-15.7 .4-2.6 .4-1 .4 .5 .4 2.9 .8 13.2 .8 27.7 1.3-40.9 .8-16.5 .4-4.7 .4-1.6 2.5 18.8 .4 4.5 .4 .3 1.2-12.9 .8-4.9 .5 3.7 .4 .3 .4 9.5 .4-4.4 .4 4.5 .4-6.2 .4 6.3 .4-4.4 .4 4.3 .5-8 .4 1.7 .4-7.6 .4 6.7 .4-6.9 .4 5.8 .4-6.1 .4 5.7 .4-5.5 .5 5.6 .4-8 .4 3.8 .4-6.8 .4 5.8 .4-7 .4 4.4 .4-11.2 .4 8 .4-8.6 .5 9.1 .4-11.9 .4 8.2 .4-9.5 .4 12.3 .4-9 .4 10.5 .4-6.7 .4 10 .5-4 .4 8.5 .4-5.4 .4 6.5 .4-2.2 .4 6 .4-3.1 .4 3.9 .4-3.7 .4 3.7 .5-1.9 .4 4.4 .4-2.3 .4 2.9 .4-1.6 .4 3.2 .4-1.4 .4 1.9 .4-3.1 .5 1.9 .4-2.7 .4 2 .4-3.7 .4 1.4 .4-6.1 .4 2.2 .4-7.2 .4 3.2 .4-9 .5 5.3 .4-5 .4 5.8 .4-4.1 .4 6.5 .4-2.6 .4 6.7 .4-1.4 .4 6.1 .5-.8 .4 5.6 .4 1.8 .4 6.1 .4 1.2 .4 4.8 .8 4.9 .8 2.7 .5-.2 .8 3 .8-3.4 .8 5.2 .4 .4 .4-2.7 .5 1.7 .4 .9 .4-9.6 .4-.5 .8 10 .4 .2 .4-6.9 .8 5.9 .5-1.2 .4-2.7 .4 5.5 .8-.1 .4-1.1 .4 1 .4-.1 .4-1.1 .5-12.4 .4 5.1 .4 8.4 2 .5 .4-.8 .5-.3 .8-1.1 .4-15.2 .4 14.1 .4 0 .4-6.3 .4-28.5 .8 35 .5-.3 .4-26.9 .8 26 .4 .3 .4-27.3 .8 14.7 .4-19.6 .5 4.5 .8 29.5 .4-14.7 .4-3.1 .8 18.2 2.1-.2 .4-13.5 .4 4.5 .4 9 .8-9.9 .8 10.7 .5-3.5 .4-6 .8 9.6 .8-11.2 .4 11 .8-.2 .4-11.2 .5 11.6 .8 .5 .4-8.7 .8 8.7 .4-6.1 .4-3.3 .4 8.6 .5 .6 .4 0 .4-.7 .8 .6 .4-2 .4-3.5 .4 5.8 .4 .1 .9-10.3 .4 9.8 .4-.2 .4 .2 .4-3.4 .4 3.8 .8 .4 .4-6.8 .5 7.4 .8 .6 .4-2.8 .4 4.1 3.7 8.1 .8 1.4 4.9 10.1 1.3 1.7 .4-.1 2.9 3.2 .4-.3 .4 1 .4 .5 .4-.4 .4 .3 .8 1.6 .9 .3 1.2 .9 .4-.4 .4 .6 .4 .2 .4 0 .8 .4 2.1 .3 .8-.2 1.3-1.3 .8-.7 .8-.1 .4 .2 .4 .4 .4-.1 1.3-3 2-.4 .4 .3 .8 1.9 1.7-1.8 .4-.2 .8 .1 .4 .3 1.3 3.2 .8-.1 1.2-3.4 .8-.2 .9-1.3 .4 .9 .8 3.7 .4 .4 .8 0 1.3-1.2 .8 1.6 3.7 .1 .4-.4 .8 .3 .8 0 .4-.3 1.3-2.4 .4-.4 2 0 .8 1.6 .5 .4 1.2-1.9 2 .1 1.3 2.8 4.5 .3 2-2 1.3 .3 .8 2.1 4.9 .2 1.3 .1 2-1.5 1.2 1.6 2.5 0 2.1-.8 .4 0 2 .8 3.7-.5 .4-1.6 .4-.9 .9-.2 .4 .1 1.6 2.6 .4 .2 .8-1.7 2.5 .4 1.2 1.3 .4 .2 1.3-.1 .4 .2 4.5 .1 .4-.3 2.9 .3 .8-1.2 .4-.3 2.1 1.4 3.3-.7 .8 .7 4.9 0 3.3 0 .4-.6 4.5-.3 1.3 1 2.4 0 .8-.7 .9 .8 2 0 .4-.2 .4-.8 .4-.3 .9 0 .4 .2 .8 1.1 .8 0 1.2-1.2 .9 0 .4 .3 .4 .8 2.9 .2 .4-.2 .4-.7 1.6 .9 1.7 0 2-.7 .8 .8 1.7 0 1.2-.8 3.3 .9 1.6-.5 .9 .4 4.9 .2 4.1-.1 2.9 .1 1.2-.8 .8 .1 1.3 .7 1.2 .1 .8-.6 1.7-.1 .4 .5 .4 .3 1.6-.1 .8-.6 5 .2 .8 0 .8 .6 4.9 .1 5 0 2.4 0 3.3 0 2.1-.4 1.6 .4 3.3-.4 .8 .4 1.7 0 1.2-.4 4.9 .3 2.9 .2 2-.4 5 .4 4.5-.2 4.9 0 1.7 .2"/>
<path stroke="#00ffff" d="M457.9 126.5l.4 5.6 .8 24.6 .4 22.3 .8-35.5 .8-18.5 .5-2.6 .4 2.5 .4 7.6 .8 30.6 .4 7.9 .8-35.1 .4-9.3 .4-4.3 .5 .5 .4 4.1 .8 19.4 .8 30.1 .8-34.8 .9-17.3 .4-3 .4-1.3 .4 .3 .4 2.9 .8 14.2 .8 30.5 1.7-57.7 .8-14.3 .4-2.2 2.1 16 .8 9.6 .4 .7 1.2-13.4 .8-4.2 .5 4.1 .4 1.4 .4 9.9 .4-3.4 .4 3.8 .4-5.6 .4 6 .4-3.2 .4 3.7 .5-8 .4-.1 .4-7.2 .4 6.2 .4-6.1 .4 5.3 .4-5.4 .4 5 .4-4.7 .5 4.9 .4-8.1 .4 2.4 .4-6.6 .4 4.7 .4-6.6 .4 2.4 .4-11.7 .4 7 .4-7.8 .5 7.9 .4-11.5 .4 6.6 .4-8.2 .4 12.8 .4-6.9 .4 10.8 .4-4.9 .4 10.9 .5-2.1 .4 8.8 .4-4.3 .4 6.6 .4-1.1 .4 6.1 .4-2.7 .4 3.6 .4-3.7 .4 3.4 .5-1.5 .4 4.2 .4-2.1 .4 2.5 .4-1.4 .4 3.1 .4-1 .4 1.4 .4-3.6 .5 1.2 .4-2.4 .4 1.4 .4-3.7 .4 .3 .4-6.1 .4 1.6 .4-6.7 .4 2.7 .4-8.5 .5 5.6 .4-3.4 .4 6.2 .4-3.2 .4 6.5 .4-1.8 .4 6.5 .4-.9 .4 5.8 .5-.6 .4 5.3 .4 2.1 .4 6 .4 1.5 .4 4.8 .8 4.9 2.1 6.5 .8 .9 .4-2.9 .4 3.6 .4 1.2 .9 0 .8-.3 .8-6.6 .4 6.6 .8 .3 .4-9.2 .4 6.1 .5 3.6 .4 .2 .4-8.7 .4 8.5 .8-.1 .4-9.5 .4 2.9 .4 6.4 .5-.1 .4-10.3 .4 .6 .4 2 .4 8.1 .4-.5 .4-7.4 .4 8.3 .9-1.4 .4-4.7 .4 3.4 .4-.7 .4-4.4 .4-15.3 .4 19.1 .4 .1 .4-.9 .4-13.2 .5 10.7 .4 2.7 .4-22 .4-1.5 .4 8.1 .4 15.4 .4-.6 .4-10.3 .4 12.1 1.3 .6 .4-10.6 .4 10.9 .4 .1 .4-14.2 .4 1.6 .4 12.6 .4 0 .5-14.9 .4-.2 .8 13.7 .4-11.6 .4 1 .4 4.2 .4 9 .4 .3 .5-10.7 .4-.4 .4 10.8 .4-.1 .4-.9 .4 .6 1.2-.3 1.3 .8 .4-9.8 .4 .3 .4 9.9 .4-.7 .4-9.6 .4 .1 .4 10 1.7-.2 .4 0 .4-5 .4-1.3 .4 4.8 .4 1.9 .9-11.4 .4 10.8 .4-.2 .4 .2 .4-6.8 .4 7.3 .4 .3 .4-7.9 .4 .6 .5 1.5 .4 6.9 .4 .6 .4-1.3 .4 1.2 .4 2.5 .4 1 .4-.4 .4 2.1 2.5 5.5 .4 .5 2.9 6.2 2.9 5.1 2.4 2.4 .4-.2 .4 .3 .5 1.1 .4 .3 .4-.3 .4 .5 .4 1 .4 .4 .4 .1 .4-.1 .4 .9 .9 .3 .4-.7 .4 .9 1.2 .6 .4 .6 2.1 .7 3.3-.4 1.6-1.4 1.2-.2 .4-.3 .5-1.4 1.2-2 2-.4 1.7 .2 1.6 3.4 .4 .5 .4 0 .5-.8 .8-2.7 2.4-.4 .5 2 .4-.2 .8 1.7 .4 .5 1.2-1.5 .4 .1 .5 1.4 .4 .4 1.6 .2 1.2-2.6 .9-.2 2.8 2.3 2.5-1.9 1.6 2 .4 0 1.3-2.5 .4-.6 1.2 .1 .8 3.1 5 .4 2.4 .2 .9-1.8 .4 .4 .8 1.5 2.9 .2 1.2-1.5 .4 .6 .4 1 2.9 .2 .4-.5 .4-1.1 .4-.2 .4 .2 .8 1.6 2.1 .1 .4-.5 .4-1 .4-.2 1.3 .1 .4 .5 .4 1 .8 .2 .8-.2 1.3-2.2 1.6-.6 .8 2.2 .4-.3 1.3-2 .4-.2 1.6 .6 .8 2 .5 .4 2 .1 .4-.3 .4 .3 3.7 .1 .4-.1 .9-1.6 1.2 .1 1.2 1 2.9-1 .4 .1 1.2 .9 2.9-.5 .4 .1 .8 .8 2.1 .2 1.6-1.5 .4-.1 1.3 1.6 1.6 0 .8-1.5 .5-.3 1.2 1.7 3.3 0 1.2-1 .8 1.1 2.5 .1 .8-.7 .4-.1 .4 .7 3.3 .2 .4-.4 .4-.7 .4-.2 2.1 1.2 1.6 0 .9-.2 3.7 .4 1.2-.6 .4 0 .8 .6 2.5 0 .4-.1 .8-1.1 .8 0 1.7 1.1 3.3-1 .4 .4 .4 .8 4.9 .1 2.5 0 1.2-.8 1.2 .9 2.9 0 1.2-.6 .5 .6 3.6 .1 .9-.5 .4 .1 .8 .4 2.5 0 .8-.6 .4-.1 .4 .2 .8 .6 3.3-.1 3.7 .2 .8-.5 2.1 .1 .8 .3 2.9-.2 3.3 .5 .8-.4 3.7 .4 1.2-.5 4.5 .5 4.1 0 .9-.4 1.2 .1 .8 .3 2.5 0 1.2-.3 4.9 .3 5 0 4.9-.2 3.3 .3 .8-.4 2.5 .1"/>
<path stroke="#0000ff" d="M457.9 122.8l.4 6 .8 26.1 .4 23.6 .8-37.7 .8-19.7 .5-2.7 .4 2.6 .4 8.1 .8 32.5 .4 8.4 .8-37.4 .4-10 .4-4.5 .5 .4 .4 4.4 .8 20.5 .8 32.2 .8-37.4 .9-18.8 .4-3.4 .4-1.6 .4 .1 .4 2.9 .8 15 .8 33.4 1.7-65 .8-16.6 .4-2.9 .8 4.9 1.7 16.9 .4 6.1 .4 1.1 1.2-14 .8-4.5 .5 4.9 .4-.5 .4 12.2 .4-5.7 .4 5.7 .4-8.2 .4 9 .4-4.7 .4 5.7 .5-11.3 .4 .4 .4-10.3 .4 9.4 .4-8.7 .4 8.1 .4-7.7 .4 7.7 .4-6.8 .5 7.6 .4-11.5 .4 4 .4-9.4 .4 7.1 .4-9.5 .4 3.9 .4-16.7 .4 10.3 .4-11.6 .5 11.6 .4-16.8 .4 9.8 .4-12 .4 18.5 .4-10.3 .4 15.9 .4-7.2 .4 15.9 .5-3.1 .4 12.9 .4-6.2 .4 9.8 .4-1.9 .4 8.8 .4-4 .4 5.4 .4-5.2 .4 5 .5-2.5 .4 5.9 .4-3.3 .4 3.6 .4-2.3 .4 4.3 .4-1.8 .4 2 .4-5.4 .5 1.7 .4-3.9 .4 1.9 .4-5.6 .4 .4 .4-8.9 .4 2.3 .4-9.6 .4 4.1 .4-11.9 .5 8.6 .4-4.1 .4 9.4 .4-4.4 .4 9.5 .4-2.7 .4 9.6 .4-1.7 .4 8.3 .5-1.5 .4 7 .4 1.7 .4 7.6 .4 .9 .4 5.7 .8 4.9 .4 .8 .4 1.8 .5 .8 .4 .1 .4 3.3 .8 1 .4-5.6 .4-.6 .4 8.7 .4 0 .5-8.4 .4-3 .4 7.3 .4 3.4 .8-11.6 .4 12 1.2 .6 .5-1.7 .4 2 .4-.8 .4-9.1 .8 9.6 .4-.4 .4-9.4 .4-1.5 .5 11 .4-.1 2 .9 .4-1.7 .4 1 2.1-4.1 .4 .1 .4-15.8 .4-4.8 .8 20.9 .9-23.8 .4 15.8 .4 6.1 .4-8 .4-14.1 .4 1.7 .4 22.2 .9 .9 .4-3.7 .4 4.1 1.6 .6 .8-.4 .4-2.1 .5 2.2 .8 0 .4-3.4 .4 3.8 .4 .6 .4-2.4 .4-9.4 .9 12.7 .4-.2 .8-13.1 .4 10.6 .4 1.9 .4-.1 .4-11.5 .8 11.5 1.3 1.1 .8 0 .4-9.6 .4-1.8 .4 11.3 .9-.1 .4-3 .4 2.8 .4-.1 .4-2.8 .4-8.7 .8 12 .4 .1 .4-.7 .5-7.4 .4 7.3 .8-.5 .4-1.7 .4 2.9 .4 .3 .4-9.3 .4 1.2 .5 8.4 .4 1.3 .8 1.1 4.9 11.2 4.9 9.6 3.7 4.1 .4-.2 .9 1.3 .4 .4 .4-.5 .4 .3 .4 1.3 .4 .4 3.3 1.3 1.6 .1 .5 .2 .4 0 .8 .3 2.5-1 .4-.3 1.6-2.8 .4-.3 .4-2.1 2.1-1 1.6-1.6 .8-.2 4.1 1.2 2.1 .7 1.2-.2 .9-5.1 1.2 7.3 .4 1.1 3.7 1.1 .8-.2 .8 .5 2.5-.5 .8-1 2.1-.4 1.2 .4 .4 0 .8-.4 2.5 .2 1.2 .9 2.1 .3 1.6-.5 2.1 1.1 2-.1 .9 .6 4.5 .6 .4-.2 3.7 .7 1.2-.5 1.2 .2 .9 .4 2.4 .1 .8-.3 2.5 .5 2.1-.8 .8-.8 .8 .2 2.1-.6 .4 .1 1.2-.2 1.2 .8 .9 .8 2.4 .3 1.2-.6 .9 .1 .8 .5 2.5 0 .8-.4 .8 0 .8 .5 2.9 .1 .8-.4 3.7 .3 1.2-.4 2.1 0 .8 .4 2.9-.6 1.2 .5 2.9 0 1.2-.4 3.7 .5 .8-.4 5 .6 4.9-.1 4.9 .4 4.9 .2 .9-.4 1.2 .1 .8 .3 4.9 .2 2.5 0 2.1-.2 4.9 .5 4.9 .1 4.9 .1 5 .2 4.9 .2 4.9 .2 5 .2 4.9 .1 4.9 0 4.9 0 5 .1 4.9 0 4.9 0 4.9 0 5 0 4.9 .1 2.1 0"/>
<path stroke="#ff00ff" d="M457.9 119.2l.4 6.3 .8 27.6 .4 24.9 .8-39.9 .8-20.8 .5-2.9 .4 2.8 .4 8.5 .8 34.4 .4 8.8 .8-39.5 .4-10.6 .4-4.9 .5 .4 .4 4.5 .8 21.8 .8 34.2 .8-40 .9-20.3 .4-3.8 .4-1.9 .4-.1 .4 2.9 .8 15.9 .8 36.2 1.7-72.2 .8-19 .4-3.5 .8 4.9 1.7 18.5 .4 6.8 .4 1.6 1.2-14.5 .8-4.5 .5 4.2 .4-.6 .4 11.4 .4-5 .4 4.3 .4-7.5 .4 8.4 .4-2.9 .4 4.5 .5-11.2 .4-2.7 .4-9.3 .4 8.7 .4-6.9 .4 7.4 .4-6.3 .4 7 .4-5 .5 6.8 .4-11 .4 2.3 .4-8.5 .4 6 .4-8.4 .4 1.7 .4-16.7 .4 9 .4-10.2 .5 9.7 .4-16.2 .4 7.3 .4-10.6 .4 18.1 .4-7.9 .4 15.3 .4-5.3 .4 16.4 .5-.5 .4 12.7 .4-4.5 .4 9.5 .4 0 .4 9.1 .4-2.9 .4 5 .4-4.8 .4 4.6 .5-1.5 .4 5.9 .4-2.7 .4 3.3 .4-1.8 .4 4.1 .4-1.1 .4 1.5 .4-5.8 .5 .7 .4-3.6 .4 1 .4-6 .4-1.4 .4-9.2 .4 .5 .4-9.7 .4 2.1 .4-12.2 .5 7.7 .4-1.9 .4 9.4 .4-3 .4 9.3 .4-.8 .4 9.8 .4 0 .4 8.5 .5-.3 .4 7.2 .4 3.1 .4 8.1 .4 1.5 .4 6.1 .8 5.4 .4 .8 .4 1.9 .5 0 .4 1 .4 2.6 .4 1.4 .4 .6 .4-3.1 .4 5.3 .4 .5 .4 0 .5-1.7 .4-11 .4 10.1 .4 1.8 .4-9.2 .4-3.7 .4 .7 .4 12.8 .8 .5 .5-7.3 .4 5.3 .4 2.3 .8-5.9 .8 5.5 .4-1.2 .4-11.3 .5-.3 .4 12.4 .8 .4 .4-2.7 .4 3.1 .8 .4 .4-8.3 .5 1.1 .4 4.3 1.2-2.9 .8 .2 .4-17.6 .4 .6 .4 17.2 .9-1.1 .4-12.6 .4 11.5 .8 1 .4-1.8 .4-19.9 .4 18.4 .5 5.5 .4 .3 .4-4.7 .4 5 .8 .3 .4-17.4 .8-.5 .4 17.9 .9-18.6 .4 .1 .4 18.8 .8 .7 .4-12.1 .8 5.9 .5-.3 .4 1.5 .4 3.8 .4 1.8 .4-3.1 .4-10.6 .4 4.4 .4 8.6 .4-2.9 .4-12.4 .5 1.4 .8 15.4 .4-11.8 .4-.5 .8 12.2 .4 0 .4-14 .5-2 .4 15 .4 .6 .4-.1 .4-17.5 .8 10 .8-2.9 .9 10.5 .4-.4 .4-7.5 .4-2 .4 10 .4 .4 .4-11.3 .4-3.9 .4 16.3 1.7 2.4 1.2 3.1 .4-.9 .4 2.3 .9 2.1 .4-1.4 .8 4.3 .4 .9 .4 .5 3.3 7.1 .8 1.1 .8 2 .5 .6 .4 .3 1.2 1.6 1.6 1.3 .4-.1 .5 1 1.2 1.2 .4 .2 1.2 1.2 .4-.2 .5-.5 .4 1.5 .4 .2 .4-.6 .8 1.2 .8 .4 .4-.6 .4-.1 .5 .1 .8 0 .8-.3 2.1 1.1 .4-.6 .8-3.3 .4-1 .4-.3 1.6 3 .5-.7 .8-3.1 .4-.8 .8-.1 .8 3.6 .4 1 1.3 .1 .4-.2 .8-3.9 .4-.2 .8 .1 .9 4.5 2-.2 .8-4.3 .4-5.2 .5-2.9 .4 2.7 .8 9.3 .4 .6 .8 .2 .8-3.2 .5-.4 .8 .4 .8 2.9 .4 .8 .8 .1 .4-.4 .9-3.1 1.2-.3 1.2 3.5 .4-.1 .4-.2 .9-3.6 1.2 3.2 .4 .4 2.1 .1 .4-.3 .8-3.5 .8 3.4 .4 .5 2.9 .2 .8-1.1 1.7 .4 .4-.2 1.2-1.8 .8 .1 .4 .3 .9 2.8 1.6 .2 .8-2.7 1.2 .3 1.7 1.8 .4-.3 .4-1.2 2.1 .3 .8 2.3 1.6 0 .8-.5 .5 .4 3.2 .2 .5-.2 2 .3 .8-.2 .4-.3 1.3-2.5 .4 0 1.6 2 1.3-.2 4.9 1 4.1 .1 .8-1.9 .4-.2 1.7 2.1 .4 0 .4-.1 1.2-2 .4-.3 .4 0 .4 .5 .9 1.8 1.2 .2 .4-.6 .4-1.8 .4-.3 .4 .2 .9 2.5 2.4 0 .4-.9 .4-.5 .9 1.1 .4 .2 4.9 0 2.1 0 .4-.5 .4 .4 4.1 .1 .4-.5 .4-.1 2.1 .7 .8-2.1 .4-.4 1.6 .3 .9 1.8 .4 .5 .8 0 .8-.4 .4 .4 3.3 .1 .4-.2 .8-1.6 .4 .1 .5 .3 .4 1.3 4.9 .2 2.5 0 .4-.4 .4 .4 2.9 .1 .4-.4 2.4 .2 1.7-1 .4 .1 .8 1.1 2.1 .1 .8-1.4 1.2 .1 .8 1.3 1.3 .1 1.6-1.2 .4-.1 .4 .3 .4 1 2.9 .1 .8-.7 1.7 .7 4.9 0 2.1-.7 4.5 .7 .4 .3 4.9 .1 4.9-.5 .9 0 1.6 .6 4.9-.6 1.7 .6 4.9 0 .4 0 .4-.5 1.2 0 .9 .5 2 0 .8-.5 5 .4 4.9 .2 2 0 2.5-.5 1.2 .5 5-.1 4.9 .1 1.2-.3 .4 0 .5 .3"/>
<path stroke="#00ff00" d="M457.9 115.6l.4 6.6 .8 29 .4 26.3 .8-42 .8-22 .5-3.1 .4 2.9 .4 9 .8 36.3 .4 9.3 .8-41.8 .4-11.2 .4-5.2 .5 .3 .4 4.8 .8 23 .8 36.3 .8-42.6 .9-21.9 .4-4.2 .4-2.2 .4-.3 .4 3 .8 16.8 .8 38.9 1.7-79.3 .8-21.3 .4-4.1 .8 4.8 1.3 13.8 .8 13.8 .4 2 1.2-15 .8-4.4 .5 2.9 .4-.3 .4 9.3 .4-2.9 .4 1.9 .4-5.5 .4 6.8 .4 .2 .4 2.6 1.3-22.9 .4 7 .4-3.5 .4 5.8 .4-3.5 .4 5.4 .4-2.1 .5 5.1 .4-9.1 .4 0 .4-6.2 .4 3.8 .4-6 .4-1.3 .4-14.7 .4 6.2 .4-7.3 .5 6.3 .4-13.7 .4 2.9 .4-7.6 .4 15.2 .4-4.1 .4 12.5 .4-2.4 .4 14.8 .5 3 .4 10.7 .4-1.9 .4 8.1 .4 2.4 .4 8.2 .4-1.1 .4 3.9 .4-3.7 .4 3.5 .5 .2 .4 5.2 .4-1.6 .4 2.6 .4-.9 .4 3.7 .4 0 .4 .6 .4-5.7 .5-.4 .4-2.7 .4-.3 .8-9 .4-8.6 .4-1.8 .4-8.4 .4-.9 .4-10.9 .5 5.5 .4 1 .4 8.2 .4-1 .4 7.8 .4 1.7 .4 8.9 .4 2.2 .4 7.6 .5 1.5 1.2 19.3 .4 2.7 .4 6 .8 5.9 .4 1.1 .9 3.8 .4 .4 .4 2.9 .4 .3 .4 .6 .8-6.7 .4 8.2 .4 1.1 .9-8.8 .4 5.5 .4 2.3 .8 .1 .4-.1 .4 .6 .4-1.2 .4-10.4 .5 .8 .4 7.8 .4 4 .4-.1 .4-12.4 .4 .2 .4 9.8 .4 1.9 .9-14 .4 13.7 .8 .5 .4-12.1 .4 3.9 .4 8.9 .4 .2 2.1-5.7 .8-4.5 .4 3.6 .4 .2 .4-.2 .4-5.5 .5 5.2 1.2-2 1.2 1.9 .8-22.5 .5 2.1 .4 20.7 .4 2.1 .8-20 .4 17.5 .4 3.3 .4-.1 .4-14.3 .4 12.8 .5 1.3 .4-.1 .4-3.5 .4-15.4 .4 19.8 .4 .5 .4 .1 .4-14.5 1.3 12.8 .4-7 .4-.1 .4 8.5 .4 .4 .4-18.9 .4-5.9 .4 24.2 .9 .9 .8-18.2 .4 .9 .4 18.4 .4-.1 .4-3.9 .4 3.4 .4 .3 .5-.1 .4-12.6 .4-2.5 .4-.4 .4 15.3 .4 .2 .4-8.3 .4 8.6 .4 .1 .9-.6 .4-16.1 .8 15.8 .4 .4 .4-9 .4 .3 .4 10 2.1 3.2 2.5 5.9 .4-1.7 .4 3.4 4.5 9.9 .8 1.2 1.2 2.6 1.7 2.1 .8 .5 1.6 1.8 .9 .4 .8 0 .4 .3 .4 .5 .4 1.4 .4 .3 .4-.2 .5-.6 .4 1.6 2.4 1.1 .4-.3 .4 0 .5 .2 .4 .7 3.7-.5 1.6-1.7 1.6-.4 .9-5 .8-.2 .4 .1 .8 4.9 4.9 .3 1.7 0 .4-1.5 .4-2.6 .4-1.1 .4-.1 .9-4.9 .8 8.6 .4 1.1 .4 .6 1.2-3.8 .4-.2 .9 .4 .8 4.2 2.4 .2 .9-3.9 .4-.2 2.4 3.7 .5-.7 .8-4.1 .4 0 .4 1 .4 2.5 .4 1.2 2.5 .1 .4-1.3 .4-2.2 .4-.7 .4 0 .8 3.4 .5 .9 2.4 .2 .8-2.7 .4 .6 .5 1.8 .4 .5 4.9 .5 .4 0 .4-.5 .8-2 .4-.3 2.5 .5 .8 1.7 .4 .4 2.1-.8 2 1.4 .5 0 2.4-2.5 1.7 1.3 .8-1.2 .8 0 2.1-1.2 .8 2.8 .4 .4 .8-.2 1.2-3 .5 .7 .4 1.7 .4 .5 2.9 .7 .4-.3 .4-1.2 1.2 1.4 .4 .3 1.2 0 .5-.4 .4-1.4 .4-.6 1.2 .1 1.2 1.4 1.3-1.2 2 0 .4 .7 .4 1.5 2.1 0 .8-2.1 2.1 2.1 3.3-.3 .4 .3 4.9-.1 2.9 0 .8-.9 .8 .8 1.7 .1 .4-.2 1.6-2 .8 0 .4 .4 .9 1.9 1.6 .1 .8-1.8 .4-.3 1.7 .2 .4 .3 .8-.3 1.7 0 .4 .7 .4 1.3 2.4 .1 .4-.5 .5-1.1 .4-.3 .4 0 .4 .3 .4 1 .4 .6 2.1 0 .8-1.8 .4 0 2 1.9 5 .1 .8 0 .4-1.6 2.5 0 .4 .2 3.3 0 .4 1.1 .4 .4 2 .1 .5-1 .4-.5 1.6 .1 .8 1.2 .8 .2 1.7-.6 2 .4 2.5-.8 .4 .2 .8 1 3.3 0 .8-.8 .9 .9 2.8 0 .9-.6 1.2 .7 2 0 1.3-.7 .4 0 .4 .6 2.9 .3 .8-.6 2.5 .4 2-.4 1.6 .6 2.1 0 1.2-.4 2.5 .4 2.5-.6 1.2 .7 4.9 0 1.7 0 1.2-.6 .4 0 .8 .6 2.1 0 .8-.5 .4 .1 .4 .3 4.9 .1 5-.2 4.5-.2 .8 .5 2.1-.1 .8-.4 1.2 .5 1.3 0"/>
<path stroke="#ffff00" d="M457.9 112l.4 7 .8 30.4 .4 27.6 .8-44.1 .8-23.2 .5-3.2 .4 3 .4 9.4 .8 38.2 .4 9.8 .8-44 .4-11.8 .4-5.6 .5 .4 .4 5 .8 24.1 .8 38.3 .8-45.1 .9-23.4 .4-4.6 .4-2.5 .4-.5 .4 3 .8 17.7 .8 41.7 1.7-86.4 .8-23.5 .4-4.8 .8 4.7 1.3 14.7 .8 15.3 .4 2.4 .8-11.8 1.2-8.9 .5 2.3 .4-.5 .4 10.6 .4-1.7 .4 3.5 .4-4.3 .4 9 .4 1.7 .4 4.3 .5-8.8 .8-10.6 .4 8.5 .4-4.2 .4 6.5 .4-4.7 .4 5.2 .4-3.9 .5 4.7 .4-11.1 .4-1 .4-8.3 .4 2.7 .4-8 .4-3.3 .4-17.7 .4 4.8 .4-9.3 .5 4.8 .4-16.6 .4 .5 .4-9.1 .4 16 .4-3.9 .4 13.3 .4-1.7 .4 17.3 .5 5.5 .4 12.3 .4-.6 .4 9.5 .4 4.5 .4 9.9 .4-.1 .4 4.7 .4-3.3 .4 4.3 .5 1 .4 6.2 .4-1.1 .4 3.2 .4-.5 .4 4.4 .4 .2 .4 1.1 .4-5.6 .5 .2 .4-2.6 .4 .4 .4-5.2 .4-2.3 .4-8.2 .4-.5 .4-8.4 .4 .5 .4-11.4 .5 5.8 .4-.9 .4 7.5 .4-2.9 .4 6.7 .4-.1 .4 8.1 .4 1.1 .4 7.1 .5 .8 .8 11.6 .4 8.7 .4 2.9 .8 10.8 .4 2.4 .4 1.1 1.7 8.8 .8 .5 .8 3.1 .4 .5 1.7-1 .4-7.1 .4 6.8 .8 .6 .4-17 .4 1.9 .4 15.6 .5-9.7 .4-1.9 .4 12.4 .4-.2 .4-9.2 .4-4.9 .4 .9 .4 12.7 1.3-.4 .8 .5 .4-13.2 .8 14.1 .4 .2 2.5-7.8 .8 .2 .8-.9 .4 1.2 .5-9.1 .4-23.1 .4 23.6 .4 5.6 2 3.7 .5-16.1 .4 13.9 .4 3.5 .4 .2 .4-10.2 .4 2.3 .4 7.6 .8-17.4 .4 18.1 .5-.1 .4-6.5 .4-21.5 .8 29 .4 .1 .4-18.9 .4 20.3 .4 .6 .5-6 .4-10.7 .8 15.9 .4-.3 .4-4 .4 3.6 .4-.3 .4-1.5 .4-16.6 .5 14.7 .4 4.8 .4-2.3 .4-11.8 .4 14.8 .8-.2 .4-.6 .4 .4 1.7-.4 2 .8 .4-.4 .5-16.8 .4 3 .4 10.5 .4-1.8 .4-7.4 .4 12.8 .8 1 .4-11.2 .5 4.7 .4 8.5 .4-5.3 .4 1.5 .8 7.9 .8-.9 .4 3.3 2.5 6.1 .4 .6 2.9 6.3 .8 1.2 .4 1.1 .4 .2 .4 .6 .5 1.4 2.4 2.5 .4-.6 .4 1.3 2.5 2.3 .4-1.1 .4 1.8 2.5 1.5 .4 0 .8 .6 .4-.3 .4 0 .4 .6 1.3 .6 1.2-.2 .4-1.4 .4-.6 1.3 .3 .8-.5 1.2-2.6 1.2-1.5 .9 3.4 4.9 0 1.2 .1 1.7-4.7 .4-.5 .4-.1 .4 1.2 .4 3.2 .4 .8 .4 0 .9-2.5 .4-.3 .8 2.4 .4-1.4 .4-2.8 1.2 .5 .5 .6 .8 3.9 .4 .6 1.6 .3 .4-.1 .9-1.8 .4 .2 .4 1.4 3.3-.3 .8-3.2 .8 3.1 2.1 .1 .4-.8 .8-4.2 .8 0 1.2 4.6 .5 .5 1.2 .2 .8-3.6 .4-1.1 1.2 .3 .5 .8 .8 3.6 .4 .4 .4 0 2.1-3.7 .4 .1 .8 3.4 .4 .6 2 .1 .9-2.3 .4-.7 .8 .2 .4 .4 .4 2.7 2.1 .1 .8-2.6 .8 .2 1.2 2.5 1.7 .1 1.2-2.5 1.7 .1 .8 2.5 4.9-1 .8-.2 2.5-1.9 .4 .1 1.2 2.6 1.3 .2 2.4-2.5 1.7 1.7 .4 .1 1.6-1.7 1.7 0 1.2 2.5 1.6 .1 .5-.7 .4-1.1 .4-.6 .4 0 .4 .2 .8 1.8 .4 .4 2.1 0 .8-.5 4.9 .4 3.7 0 .4-.6 .9-2 .8 0 1.6 2.3 .4 .2 .4 0 1.3-1.7 .4 0 1.6 1.7 2.9 .2 .4-.2 .4 .3 2.5 0 .4-.1 .8-2 .4 0 .4 .2 .5 1.4 .4 .6 3.7 0 .8-1.1 .8 1.2 2.5 0 .8-2 1.2 .1 1.7 1.7 .4 0 1.6-1.6 .8 0 .4 .4 .5 1.4 3.2 .2 .9-.7 .4 .5 2 .3 .4-.1 1.3-1.5 .4 0 2 1.6 1.3 .1 1.2-1.3 .4-.2 1.6 1.5 5 .1 2 .1 .4-.2 .9-1.1 .4 0 .8 1.3 2.9 .1 .4-.5 .8 .5 3.7 .1 .8-.2 2.9 .3 1.6-.8 2.1 .9 1.6 0 1.7-.6 .8 .7 2.4 0 .9-.7 2 .1 1.3 .6 4.9 0 .8-.1 .8-.5 3.3 .6 2.5-.6 1.6 .6 2.5 .1 4.9-.6 .8 0 1.3 .6 2.4 0 1.7-.5 2.8 .5 1.7-.4 1.2 .4 3.3 0 .8-.2 .4 .2 .9 0"/>
</g>
<path stroke="#00ccff" stroke-width="1.3" fill="none" d="M516.8 176.6L517.1 201.3"/>
<path stroke="#0000ff" stroke-width="1.1" fill="none" d="M517.5 189.0L517.7 201.3"/>
<rect x="458.4" y="0.6" width="348.4" height="265.7" fill="none" stroke="#1a1a1a" stroke-width="1"/>
<path d="M464.7 266.3v-3.4 M464.7 0.6v3.4M498.9 266.3v-3.4 M498.9 0.6v3.4M533.1 266.3v-3.4 M533.1 0.6v3.4M567.3 266.3v-3.4 M567.3 0.6v3.4M601.6 266.3v-3.4 M601.6 0.6v3.4M635.8 266.3v-3.4 M635.8 0.6v3.4M670.0 266.3v-3.4 M670.0 0.6v3.4M704.2 266.3v-3.4 M704.2 0.6v3.4M738.4 266.3v-3.4 M738.4 0.6v3.4M772.6 266.3v-3.4 M772.6 0.6v3.4M806.8 266.3v-3.4 M806.8 0.6v3.4M458.4 254.1h3.4 M806.8 254.1h-3.4M458.4 220.7h3.4 M806.8 220.7h-3.4M458.4 187.3h3.4 M806.8 187.3h-3.4M458.4 153.9h3.4 M806.8 153.9h-3.4M458.4 120.5h3.4 M806.8 120.5h-3.4M458.4 87.1h3.4 M806.8 87.1h-3.4M458.4 53.7h3.4 M806.8 53.7h-3.4M458.4 20.3h3.4 M806.8 20.3h-3.4" stroke="#1a1a1a" stroke-width="0.9" fill="none"/>
<g font-family="Liberation Sans, Arial, sans-serif" font-size="10.7" fill="#111">
<text x="465.0" y="279.7" text-anchor="middle">0</text>
<text x="499.2" y="279.7" text-anchor="middle">5</text>
<text x="533.4" y="279.7" text-anchor="middle">10</text>
<text x="567.6" y="279.7" text-anchor="middle">15</text>
<text x="601.9" y="279.7" text-anchor="middle">20</text>
<text x="636.1" y="279.7" text-anchor="middle">25</text>
<text x="670.3" y="279.7" text-anchor="middle">30</text>
<text x="704.5" y="279.7" text-anchor="middle">35</text>
<text x="738.7" y="279.7" text-anchor="middle">40</text>
<text x="772.9" y="279.7" text-anchor="middle">45</text>
<text x="807.1" y="279.7" text-anchor="middle">50</text>
<text x="453.4" y="257.9" text-anchor="end">−2</text>
<text x="453.4" y="224.5" text-anchor="end">−1</text>
<text x="453.4" y="191.1" text-anchor="end">0</text>
<text x="453.4" y="157.7" text-anchor="end">1</text>
<text x="453.4" y="124.3" text-anchor="end">2</text>
<text x="453.4" y="90.9" text-anchor="end">3</text>
<text x="453.4" y="57.5" text-anchor="end">4</text>
<text x="453.4" y="24.1" text-anchor="end">5</text>
<text x="633" y="298.9" text-anchor="middle" font-size="11.5">t</text>
<text transform="translate(433.2,129.8) rotate(-90)" text-anchor="middle" font-size="12.3">v<tspan dy="2.8" font-size="9.6">5</tspan><tspan dy="-2.8">(t,x)</tspan></text>
</g>
<text x="633.2" y="319" text-anchor="middle" font-family="Liberation Serif, Times New Roman, serif" font-weight="bold" font-size="16" fill="#111">(b)</text>
<rect x="704.3" y="9" width="97" height="73" fill="#fff"/>
<g fill="none" stroke-width="1.25" stroke-linejoin="round">
<path stroke="#ff0000" d="M704.9 32.9l.5-.1 2.7-3 2.8-1.5 1.8-.7 2.7 .3 2.8 .4 2.7 .7 2.7 .7 2.8 .8 2.7 .8 2.8 .5 2.7 .8 2.7 .3 .7 0"/>
<path stroke="#00ffff" d="M704.9 32.9l.5-.1 2.7-2.6 2.8-1.4 1.8-.6 2.7 .2 2.8 .4 2.7 .6 2.7 .7 2.8 .7 2.7 .7 2.8 .5 2.7 .6 2.7 .3 .7 0"/>
<path stroke="#0000ff" d="M704.9 32.9l.5-.1 2.7-2.3 2.8-1.2 2.7-.5 2.8 .3 2.7 .4 2.7 .5 2.8 .6 2.7 .7 2.7 .5 2.8 .4 2.7 .7 2.5 0"/>
<path stroke="#ff00ff" d="M704.9 32.9l.5-.1 2.7-2 2.8-1 2.7-.4 2.8 .2 2.7 .4 2.7 .4 2.8 .6 2.7 .5 2.7 .5 2.8 .3 2.7 .6 2.5 0"/>
<path stroke="#00ff00" d="M704.9 32.9l.5-.1 2.7-1.6 2.8-.8 2.7-.4 2.8 .2 2.7 .3 2.7 .4 2.8 .4 2.7 .4 2.7 .4 2.8 .3 2.7 .5 2.5 0"/>
<path stroke="#ffff00" d="M704.9 32.9l2.8-1.2 2.7-.7 2.8-.4 2.7 .1 2.7 .2 2.8 .3 2.7 .3 2.7 .4 2.8 .3 2.7 .3 2.7 .3 2.8 .1 .2 0"/>
<path stroke="#ff0000" d="M704.9 32.9l2.8-.9 2.7-.6 2.8-.3 2.7 .1 2.7 .2 2.8 .2 2.7 .3 2.7 .3 2.8 .2 2.7 .2 2.7 .3 2.8 0 .2 0"/>
<path stroke="#00ffff" d="M704.9 32.9l2.8-.6 2.7-.4 2.8-.2 2.7 .1 2.7 .1 2.8 .2 2.7 .1 2.7 .2 2.8 .2 2.7 .1 2.7 .2 2.8 0 .2 0"/>
<path stroke="#0000ff" d="M704.9 32.9l2.8-.3 2.7-.2 2.8-.1 2.7 0 2.7 .1 2.8 .1 2.7 .1 2.7 .1 2.8 0 2.7 .1 2.7 .1 2.8 0 .2 0"/>
<path stroke="#ff0000" d="M704.9 32.9l2.8 0 2.7 0 2.8 0 2.7 0 2.7 0 2.8 0 2.7 0 2.7 0 2.8 0 2.7 0 2.7 0 2.8 0 .2 0"/>
<path stroke="#00ffff" d="M704.9 32.9l2.8 0 2.7 0 2.8 .1 2.7 0 2.7 0 2.8-.1 2.7 0 2.7 0 2.8 0 2.7 0 2.7 0 2.8 0 .2 0"/>
<path stroke="#0000ff" d="M704.9 32.9l2.8 .1 2.7 .1 2.8 .1 2.7-.1 2.7 0 2.8-.1 2.7 .1 2.7-.1 2.8 0 2.7 0 2.7-.1 2.8 0 .2 0"/>
<path stroke="#ff00ff" d="M704.9 32.9l2.8 .1 2.7 .3 2.8 .3 2.7-.2 2.7-.1 2.8-.1 2.7 .1 2.7-.1 2.8 0 2.7-.1 2.7-.2 2.8 0 .2 0"/>
<path stroke="#00ff00" d="M704.9 32.9l2.8 .2 2.7 .5 2.8 .5 2.7-.4 1.6 .2 2.7-.6 2.8 .1 2.5 .4 2.7-.5 2.7 .1 2.8-.2 2.7-.3 1.6 0"/>
<path stroke="#ffff00" d="M704.9 32.9l2.8 .3 2.7 .7 2.8 .9 .4 .1 1.8-.9 2.1 .5 2.3-1 2.7 .2 2.7 .5 .3 .1 2.7-.8 2.7 .1 2.8-.3 2.7-.4 1.6 0"/>
<path stroke="#ff0000" d="M704.9 32.9l2.8 .5 2.7 .9 2.8 1.2 .4 .3 1.8-1.3 2.1 .6 2.3-1.3 2.7 .2 2.7 .8 .3 .1 2.3-1.1 2.7 .1 2.7-.3 2.8-.7 2 0"/>
<path stroke="#00ffff" d="M704.9 32.9l2.8 .6 2.7 1.3 2.8 1.6 .4 .3 1.8-1.6 2.1 .7 2.3-1.7 2.7 .2 2.7 1.1 .3 .1 2.3-1.4 2.7 .1 2.7-.3 2.8-1 2 0"/>
<path stroke="#0000ff" d="M704.9 32.9l2.8 .8 2.7 1.7 2.8 2.1 .4 .3 1.8-2.1 2.1 1 2.3-2.3 2.7 .4 2.7 1.3 .3 .2 2.3-1.9 2.7 .2 2.7-.5 2.8-1.2 2 0"/>
<path stroke="#ff00ff" stroke-width="1.4" d="M704.9 32.9l2.8 1 2.7 2.1 2.8 2.6 .4 .5 1.8-2.7 2.1 1.2 2.3-2.8 2.7 .4 2.7 1.8 .3 .2 2.3-2.4 2.7 .3 1.4 0 2.7-1.6 2.7-.6 .7 0"/>
<path stroke="#00ff00" stroke-width="1.4" d="M704.9 32.9l1 0 2.7 2 2.7 2.7 2.3 2.9 1.8-3.3 2.1 1.5 2.3-3.4 2.2 .2 2.1 1.1 1.4 1.5 2.3-2.8 2.7 .2 1.4 .1 2.7-2 .7-.5 2.7-.2"/>
<path stroke="#ffff00" stroke-width="1.6" d="M704.9 32.9l1 0 2.7 2.4 2.7 3.2 2.3 3.4 1.8-3.9 2.1 1.8 2.3-4.1 2.2 .3 1.9 1.1 1.6 2 2.3-3.4 2.7 .4 1.4 0 2.7-2.3 .7-.6 2.7-.3"/>
<path stroke="#ff0000" stroke-width="1.6" d="M704.9 32.9l1 0 2.7 2.8 2.7 3.8 2.3 4.1 1.8-4.6 2.1 2.1 2.3-4.9 2.2 .4 1.9 1.3 1.6 2.4 1.1-2.6 1.2-1.5 2.7 .4 1.1 .1 1.8-1.3 1.9-2.2 2.7-.3"/>
<path stroke="#00ffff" stroke-width="1.8" d="M704.9 32.9l1 0 2.7 3.3 2.7 4.4 2.3 4.7 .2-.3 1.6-5.1 2.1 2.5 2.3-5.6 2.2 .4 1.9 1.5 1.6 2.8 1.1-3 1.2-1.7 2.7 .5 1.1 .1 1.8-1.6 1.9-2.5 2.7-.4"/>
<path stroke="#0000ff" stroke-width="1.9" d="M704.9 32.9l1 0 2.7 3.8 2.7 5.1 2.3 5.4 .2-.3 1.6-5.9 2.1 2.9 2.3-6.5 2.2 .4 1.9 1.7 1.6 3.3 1.1-3.5 1.2-1.9 2.7 .5 1.1 .1 1.8-1.7 1.9-3 2.7-.4"/>
<path stroke="#ff00ff" stroke-width="1.9" d="M704.9 32.9l1 0 2.7 4.3 2.7 5.9 2.3 6.1 .2-.4 1.6-6.7 2.1 3.3 2.3-7.4 2.2 .5 1.9 2 1.6 3.6 1.1-3.9 1.2-2.2 2.7 .6 1.1 .2 1.8-2.1 1.9-3.3 2.7-.5"/>
<path stroke="#00ff00" stroke-width="2.0" d="M704.9 32.9l1 0 2.7 4.9 2.7 6.6 2.3 6.9 .2-.4 1.6-7.5 2.1 3.6 2.3-8.3 2.2 .6 1.9 2.2 1.6 4.1 1.1-4.5 1.2-2.4 2.7 .7 1.1 .1 1.8-2.3 1.9-3.8 1.1-.5 1.6 0"/>
<path stroke="#ffff00" stroke-width="2.1" d="M704.9 32.9l1 0 2.7 5.5 2.7 7.4 2.3 7.8 .2-.5 1.6-8.5 2.1 4.2 2.3-9.4 2.2 .6 1.9 2.5 1.6 4.7 1.1-5 1.2-2.8 2.7 .8 1.1 .1 1.8-2.5 1.9-4.3 1.1-.6 1.6 0"/>
<path stroke="#ff0000" stroke-width="2.2" d="M704.9 32.9l1 0 2.7 6.1 2.7 8.3 2.3 8.7 .2-.6 1.6-9.4 2.1 4.6 2.3-10.5 2.2 .7 1.9 2.8 1.6 5.2 1.1-5.6 1.2-3.1 2.7 .9 1.1 .2 1.8-2.9 1.9-4.7 1.1-.7 1.6 0"/>
<path stroke="#00ffff" stroke-width="2.4" d="M704.9 32.9l1 0 2.7 6.8 2.7 9.1 2.3 9.7 .2-.6 1.6-10.5 2.1 5.1 2.3-11.6 2.2 .8 1.9 3.1 1.6 5.7 1.1-6.2 1.2-3.4 2.7 1 1.1 .2 1.8-3.2 1.9-5.3 1.1-.7 1.6 0"/>
<path stroke="#0000ff" stroke-width="2.5" d="M704.9 32.9l1 0 2.7 7.5 2.7 10 2.3 10.7 .2-.7 1.6-11.5 2.1 5.6 2.3-12.8 2.2 .9 1.9 3.4 1.6 6.3 1.1-6.8 1.2-3.8 2.7 1.1 1.1 .2 1.8-3.5 1.9-5.8 1.1-.8 1.6 0"/>
<path stroke="#ff00ff" stroke-width="2.5" d="M704.9 32.9l1 0 2.7 8.2 2.7 11 2.3 11.7 .2-.7 1.6-12.7 2.1 6.2 2.3-14 2.2 .9 1.9 3.8 1.6 6.9 .9-6.5 1.4-5.1 2.7 1.1 1.1 .3 1.8-3.8 1.9-6.4 1.1-.9 1.6 0"/>
<path stroke="#1a2a9a" stroke-width="1.1" d="M735.35 32.9H801.3"/>
</g>
<rect x="704.3" y="9" width="97" height="73" fill="none" stroke="#1a1a1a" stroke-width="0.9"/>
<path d="M705.9 82v-2.2 M705.9 9v2.2M743.9 82v-2.2 M743.9 9v2.2M781.9 82v-2.2 M781.9 9v2.2M704.3 57.1h2.2 M801.3 57.1h-2.2M704.3 32.9h2.2 M801.3 32.9h-2.2" stroke="#1a1a1a" stroke-width="0.9" fill="none"/>
<g font-family="Liberation Sans, Arial, sans-serif" font-size="9.3" fill="#111">
<text x="706.1" y="93.6" text-anchor="middle">0</text>
<text x="744.1" y="93.6" text-anchor="middle">20</text>
<text x="782.1" y="93.6" text-anchor="middle">40</text>
<text x="701.6" y="12.0" text-anchor="end">0.5</text>
<text x="701.6" y="36.2" text-anchor="end">0</text>
<text x="701.6" y="60.4" text-anchor="end">−0.5</text>
<text x="701.6" y="84.6" text-anchor="end">−1</text>
<text transform="translate(672.2,45.2) rotate(-90)" text-anchor="middle">U<tspan dy="2.6" font-size="7">5</tspan><tspan dy="-2.6">(t,x)</tspan></text>
</g>
</svg>
</body></html>
